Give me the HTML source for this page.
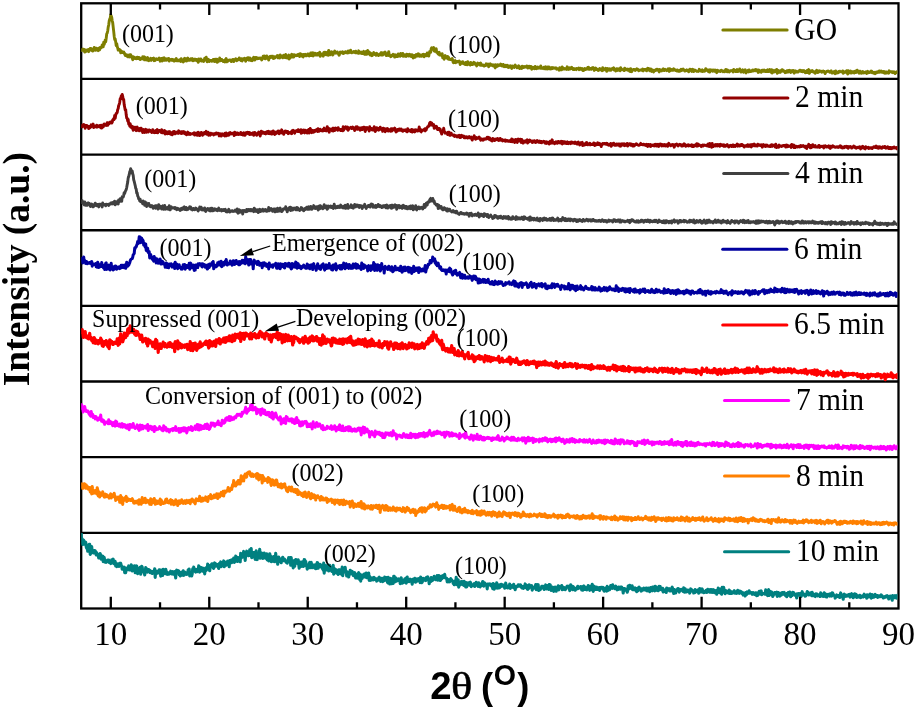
<!DOCTYPE html>
<html lang="en">
<head>
<meta charset="utf-8">
<title>XRD patterns</title>
<style>
html,body{margin:0;padding:0;background:#fff;}
svg{display:block;}
text{font-family:"Liberation Serif","Times New Roman",serif;fill:#000;}
.ann{font-size:24px;}
.leg{font-size:29.6px;}
.tick{font-size:33px;text-anchor:middle;}
.yl{font-size:37.5px;font-weight:bold;}
.xl{font-family:"Liberation Sans",Arial,sans-serif;font-weight:bold;font-size:38.3px;}
.fr{stroke:#000;stroke-width:2.3;fill:none;}
.cv{fill:none;stroke-linejoin:round;stroke-linecap:butt;}
</style>
</head>
<body>
<svg width="916" height="709" viewBox="0 0 916 709">
<rect x="0" y="0" width="916" height="709" fill="#fff"/>
<rect class="fr" x="81.2" y="3.3" width="817.3" height="605.2"/>
<line class="fr" x1="81.2" y1="78.94" x2="898.5" y2="78.94"/>
<line class="fr" x1="81.2" y1="154.59" x2="898.5" y2="154.59"/>
<line class="fr" x1="81.2" y1="230.23" x2="898.5" y2="230.23"/>
<line class="fr" x1="81.2" y1="305.88" x2="898.5" y2="305.88"/>
<line class="fr" x1="81.2" y1="381.52" x2="898.5" y2="381.52"/>
<line class="fr" x1="81.2" y1="457.16" x2="898.5" y2="457.16"/>
<line class="fr" x1="81.2" y1="532.81" x2="898.5" y2="532.81"/>
<defs><clipPath id="cp"><rect x="81.2" y="3.3" width="816.3" height="605.15"/></clipPath></defs>
<g clip-path="url(#cp)">
<path class="cv" d="M81.2,49.9 81.7,50.4 82.2,49.8 82.7,49.1 83.2,49.7 83.7,49.2 84.2,50.5 84.7,52.1 85.2,50.0 85.7,49.9 86.2,51.3 86.7,51.1 87.2,50.9 87.7,49.7 88.2,50.8 88.7,51.6 89.2,49.2 89.7,50.3 90.2,48.5 90.7,49.2 91.2,48.6 91.7,50.4 92.2,49.2 92.7,51.0 93.2,50.8 93.7,50.3 94.2,47.4 94.7,49.7 95.2,50.2 95.7,50.3 96.2,48.2 96.7,49.3 97.2,48.6 97.7,48.6 98.2,50.7 98.7,48.2 99.2,48.9 99.7,49.7 100.2,47.6 100.7,47.8 101.2,47.6 101.7,47.1 102.2,44.9 102.7,45.9 103.2,46.8 103.7,42.3 104.2,44.4 104.7,42.3 105.2,40.0 105.7,41.8 106.2,38.4 106.7,33.9 107.2,33.1 107.7,31.0 108.2,27.1 108.7,25.0 109.2,21.0 109.7,19.2 110.2,18.2 110.7,14.7 111.2,16.2 111.7,17.2 112.2,20.8 112.7,22.7 113.2,27.2 113.7,31.4 114.2,36.2 114.7,39.6 115.2,39.1 115.7,41.9 116.2,45.5 116.7,43.6 117.2,46.6 117.7,47.9 118.2,50.2 118.7,50.0 119.2,49.3 119.7,49.7 120.2,50.3 120.7,52.8 121.2,50.9 121.7,51.5 122.2,52.6 122.7,52.5 123.2,52.7 123.7,52.0 124.2,53.6 124.7,53.4 125.2,55.5 125.7,55.2 126.2,54.8 126.7,55.8 127.2,55.0 127.7,56.8 128.2,55.9 128.7,56.8 129.2,55.0 129.7,57.0 130.2,54.9 130.7,54.7 131.2,56.7 131.7,56.2 132.2,57.5 132.7,59.8 133.2,56.7 133.7,57.0 134.2,58.0 134.7,58.4 135.2,57.8 135.7,57.8 136.2,58.8 136.7,58.7 137.2,57.2 137.7,58.2 138.2,58.4 138.7,57.4 139.2,58.8 139.7,57.7 140.2,59.6 140.7,58.9 141.2,58.8 141.7,58.2 142.2,58.7 142.7,56.8 143.2,57.8 143.7,59.3 144.2,56.8 144.7,59.9 145.2,57.3 145.7,59.9 146.2,58.2 146.7,59.9 147.2,59.3 147.7,57.6 148.2,60.5 148.7,60.7 149.2,59.2 149.7,59.0 150.2,59.1 150.7,58.3 151.2,60.4 151.7,58.8 152.2,59.3 152.7,58.5 153.2,58.7 153.7,58.1 154.2,60.7 154.7,59.2 155.2,60.4 155.7,59.4 156.2,58.7 156.7,59.1 157.2,58.9 157.7,59.5 158.2,59.1 158.7,59.2 159.2,58.1 159.7,58.7 160.2,61.2 160.7,58.9 161.2,58.5 161.7,59.9 162.2,61.0 162.7,58.1 163.2,59.4 163.7,59.0 164.2,57.8 164.7,60.4 165.2,59.6 165.7,59.7 166.2,58.9 166.7,60.2 167.2,59.2 167.7,59.6 168.2,58.6 168.7,58.5 169.2,61.1 169.7,59.3 170.2,60.1 170.7,59.8 171.2,59.4 171.7,59.3 172.2,60.5 172.7,59.5 173.2,59.7 173.7,59.9 174.2,61.1 174.7,60.6 175.2,60.3 175.7,59.3 176.2,58.5 176.7,60.9 177.2,60.9 177.7,59.8 178.2,60.5 178.7,60.8 179.2,60.8 179.7,60.9 180.2,59.5 180.7,61.5 181.2,58.8 181.7,60.9 182.2,60.5 182.7,60.9 183.2,61.9 183.7,61.6 184.2,58.9 184.7,58.4 185.2,60.9 185.7,59.1 186.2,60.1 186.7,61.0 187.2,58.5 187.7,58.0 188.2,60.4 188.7,60.2 189.2,59.9 189.7,60.2 190.2,59.3 190.7,58.7 191.2,60.0 191.7,59.2 192.2,58.6 192.7,60.7 193.2,60.2 193.7,60.6 194.2,59.2 194.7,59.6 195.2,59.2 195.7,59.4 196.2,60.5 196.7,59.5 197.2,60.6 197.7,60.6 198.2,62.3 198.7,58.9 199.2,61.2 199.7,60.2 200.2,60.3 200.7,58.9 201.2,59.9 201.7,61.1 202.2,60.3 202.7,60.4 203.2,60.1 203.7,61.5 204.2,60.4 204.7,58.2 205.2,59.7 205.7,58.4 206.2,57.2 206.7,59.9 207.2,61.8 207.7,60.5 208.2,59.3 208.7,59.5 209.2,61.6 209.7,60.6 210.2,60.5 210.7,60.4 211.2,60.5 211.7,61.3 212.2,61.0 212.7,60.7 213.2,59.4 213.7,61.0 214.2,59.8 214.7,61.6 215.2,59.2 215.7,60.3 216.2,60.5 216.7,59.2 217.2,62.2 217.7,61.9 218.2,60.0 218.7,61.2 219.2,60.9 219.7,57.9 220.2,60.7 220.7,60.4 221.2,60.5 221.7,59.4 222.2,60.2 222.7,60.2 223.2,61.6 223.7,60.7 224.2,60.4 224.7,61.9 225.2,59.8 225.7,59.9 226.2,58.5 226.7,61.9 227.2,61.2 227.7,61.2 228.2,60.9 228.7,60.3 229.2,60.4 229.7,59.9 230.2,59.9 230.7,60.2 231.2,61.6 231.7,60.6 232.2,60.0 232.7,59.4 233.2,59.4 233.7,61.6 234.2,60.4 234.7,60.0 235.2,59.5 235.7,58.7 236.2,59.8 236.7,60.7 237.2,59.4 237.7,59.5 238.2,59.5 238.7,59.8 239.2,58.0 239.7,59.4 240.2,58.7 240.7,60.4 241.2,58.7 241.7,60.1 242.2,61.0 242.7,59.1 243.2,58.7 243.7,59.5 244.2,59.3 244.7,58.2 245.2,59.7 245.7,61.2 246.2,58.9 246.7,58.9 247.2,58.0 247.7,59.4 248.2,57.7 248.7,57.8 249.2,60.2 249.7,58.0 250.2,60.0 250.7,60.4 251.2,59.1 251.7,59.3 252.2,60.7 252.7,58.5 253.2,58.0 253.7,57.2 254.2,58.6 254.7,60.1 255.2,59.5 255.7,57.5 256.2,57.5 256.7,57.9 257.2,58.7 257.7,58.1 258.2,58.5 258.7,58.6 259.2,57.9 259.7,58.2 260.2,58.4 260.7,58.0 261.2,58.6 261.7,60.0 262.2,58.7 262.7,58.1 263.2,56.2 263.7,58.4 264.2,55.9 264.7,56.4 265.2,58.8 265.7,58.6 266.2,57.6 266.7,56.0 267.2,57.3 267.7,57.0 268.2,58.3 268.7,60.0 269.2,57.8 269.7,56.8 270.2,56.3 270.7,57.5 271.2,57.3 271.7,56.2 272.2,57.5 272.7,56.2 273.2,58.5 273.7,58.4 274.2,58.4 274.7,56.7 275.2,57.8 275.7,57.0 276.2,56.7 276.7,56.8 277.2,55.7 277.7,55.5 278.2,57.9 278.7,56.8 279.2,57.2 279.7,58.0 280.2,55.0 280.7,56.0 281.2,57.0 281.7,57.2 282.2,56.3 282.7,57.8 283.2,56.9 283.7,55.3 284.2,55.6 284.7,57.4 285.2,57.0 285.7,54.5 286.2,57.9 286.7,57.1 287.2,57.9 287.7,56.0 288.2,56.0 288.7,55.1 289.2,59.0 289.7,56.0 290.2,57.9 290.7,55.5 291.2,56.3 291.7,54.3 292.2,55.6 292.7,57.1 293.2,54.6 293.7,57.1 294.2,56.3 294.7,54.8 295.2,55.3 295.7,55.3 296.2,55.7 296.7,55.2 297.2,54.8 297.7,55.4 298.2,54.5 298.7,54.2 299.2,55.5 299.7,56.5 300.2,53.8 300.7,55.5 301.2,54.8 301.7,54.4 302.2,56.3 302.7,54.8 303.2,57.0 303.7,54.4 304.2,55.7 304.7,55.0 305.2,54.4 305.7,55.8 306.2,55.0 306.7,55.8 307.2,55.0 307.7,53.9 308.2,54.9 308.7,55.1 309.2,56.0 309.7,53.9 310.2,54.9 310.7,53.0 311.2,55.6 311.7,53.6 312.2,52.8 312.7,54.7 313.2,56.0 313.7,53.0 314.2,53.5 314.7,53.8 315.2,53.3 315.7,55.0 316.2,53.6 316.7,53.7 317.2,55.1 317.7,53.6 318.2,54.9 318.7,53.3 319.2,53.0 319.7,52.2 320.2,56.4 320.7,53.9 321.2,54.5 321.7,54.1 322.2,54.3 322.7,54.1 323.2,56.2 323.7,52.8 324.2,52.2 324.7,52.8 325.2,52.4 325.7,54.7 326.2,54.8 326.7,52.7 327.2,52.2 327.7,53.3 328.2,55.3 328.7,50.5 329.2,54.2 329.7,52.4 330.2,54.8 330.7,52.3 331.2,53.2 331.7,51.8 332.2,52.3 332.7,55.0 333.2,54.3 333.7,52.9 334.2,52.3 334.7,51.1 335.2,52.8 335.7,53.2 336.2,53.1 336.7,53.1 337.2,51.9 337.7,53.0 338.2,53.1 338.7,54.6 339.2,55.2 339.7,52.9 340.2,52.1 340.7,52.9 341.2,52.2 341.7,52.1 342.2,52.8 342.7,51.7 343.2,53.6 343.7,52.7 344.2,53.1 344.7,52.6 345.2,51.9 345.7,51.7 346.2,52.5 346.7,52.1 347.2,53.0 347.7,52.7 348.2,51.1 348.7,52.8 349.2,51.1 349.7,51.9 350.2,52.3 350.7,50.2 351.2,52.7 351.7,52.8 352.2,52.4 352.7,52.1 353.2,52.2 353.7,51.5 354.2,52.3 354.7,52.0 355.2,52.7 355.7,51.2 356.2,52.9 356.7,52.8 357.2,52.5 357.7,52.1 358.2,53.3 358.7,50.8 359.2,53.2 359.7,53.0 360.2,53.1 360.7,53.2 361.2,52.1 361.7,52.6 362.2,53.6 362.7,53.4 363.2,53.2 363.7,51.3 364.2,53.7 364.7,54.4 365.2,54.3 365.7,53.4 366.2,51.4 366.7,54.4 367.2,53.2 367.7,50.5 368.2,53.8 368.7,51.8 369.2,52.0 369.7,52.8 370.2,55.1 370.7,53.2 371.2,54.0 371.7,55.7 372.2,55.6 372.7,53.7 373.2,53.6 373.7,52.5 374.2,53.2 374.7,54.5 375.2,54.5 375.7,54.2 376.2,55.3 376.7,53.3 377.2,54.2 377.7,55.1 378.2,54.9 378.7,55.5 379.2,54.8 379.7,54.0 380.2,54.8 380.7,53.3 381.2,52.6 381.7,55.1 382.2,54.4 382.7,54.9 383.2,52.6 383.7,54.1 384.2,53.9 384.7,53.6 385.2,52.1 385.7,54.2 386.2,55.6 386.7,55.1 387.2,54.0 387.7,54.7 388.2,55.6 388.7,51.6 389.2,54.6 389.7,55.4 390.2,55.5 390.7,56.7 391.2,56.1 391.7,55.2 392.2,55.2 392.7,55.7 393.2,54.3 393.7,54.8 394.2,55.9 394.7,57.1 395.2,54.8 395.7,54.9 396.2,55.2 396.7,56.5 397.2,55.0 397.7,56.6 398.2,53.9 398.7,54.8 399.2,54.8 399.7,55.9 400.2,56.2 400.7,53.4 401.2,54.1 401.7,55.5 402.2,54.4 402.7,53.4 403.2,56.3 403.7,55.7 404.2,55.7 404.7,54.7 405.2,56.3 405.7,54.9 406.2,56.4 406.7,54.2 407.2,54.3 407.7,55.5 408.2,54.5 408.7,56.0 409.2,55.6 409.7,54.3 410.2,55.4 410.7,55.0 411.2,56.4 411.7,54.7 412.2,54.9 412.7,56.7 413.2,57.9 413.7,57.6 414.2,55.5 414.7,55.7 415.2,57.2 415.7,55.3 416.2,54.4 416.7,55.6 417.2,56.0 417.7,54.6 418.2,53.7 418.7,54.0 419.2,56.3 419.7,54.7 420.2,55.4 420.7,55.8 421.2,56.3 421.7,55.2 422.2,56.1 422.7,54.6 423.2,55.2 423.7,54.4 424.2,56.8 424.7,55.4 425.2,54.6 425.7,54.9 426.2,54.9 426.7,55.8 427.2,52.9 427.7,53.2 428.2,53.4 428.7,56.1 429.2,53.6 429.7,51.5 430.2,51.6 430.7,52.3 431.2,48.7 431.7,47.8 432.2,49.3 432.7,48.4 433.2,48.7 433.7,47.6 434.2,51.0 434.7,51.3 435.2,50.5 435.7,51.3 436.2,48.6 436.7,52.4 437.2,52.0 437.7,53.3 438.2,54.1 438.7,53.4 439.2,52.3 439.7,55.0 440.2,54.1 440.7,54.9 441.2,54.9 441.7,55.5 442.2,53.7 442.7,57.7 443.2,56.9 443.7,58.1 444.2,59.2 444.7,57.3 445.2,55.6 445.7,56.7 446.2,56.6 446.7,57.5 447.2,58.4 447.7,56.4 448.2,59.0 448.7,57.3 449.2,59.4 449.7,59.2 450.2,59.1 450.7,59.6 451.2,59.3 451.7,59.4 452.2,58.6 452.7,60.4 453.2,62.4 453.7,62.7 454.2,62.2 454.7,61.8 455.2,60.6 455.7,62.8 456.2,61.5 456.7,61.6 457.2,61.4 457.7,61.9 458.2,61.5 458.7,61.9 459.2,61.1 459.7,61.9 460.2,64.5 460.7,62.3 461.2,62.2 461.7,63.1 462.2,63.3 462.7,61.7 463.2,62.6 463.7,63.7 464.2,63.2 464.7,63.1 465.2,64.6 465.7,62.5 466.2,63.3 466.7,62.8 467.2,64.8 467.7,61.6 468.2,62.9 468.7,63.1 469.2,64.3 469.7,64.3 470.2,65.1 470.7,62.4 471.2,64.6 471.7,63.7 472.2,63.4 472.7,64.5 473.2,63.3 473.7,62.3 474.2,63.9 474.7,62.9 475.2,63.7 475.7,64.7 476.2,64.7 476.7,65.9 477.2,64.3 477.7,63.1 478.2,63.9 478.7,63.8 479.2,63.6 479.7,65.1 480.2,64.2 480.7,63.0 481.2,65.4 481.7,64.7 482.2,65.2 482.7,65.0 483.2,65.5 483.7,65.0 484.2,66.1 484.7,65.4 485.2,65.4 485.7,65.5 486.2,63.8 486.7,65.0 487.2,65.0 487.7,65.4 488.2,64.0 488.7,66.7 489.2,65.4 489.7,64.3 490.2,63.8 490.7,65.1 491.2,65.3 491.7,64.8 492.2,65.5 492.7,64.9 493.2,66.0 493.7,64.9 494.2,65.5 494.7,66.4 495.2,67.9 495.7,64.7 496.2,65.2 496.7,64.9 497.2,66.4 497.7,64.7 498.2,65.3 498.7,65.7 499.2,64.9 499.7,65.0 500.2,65.4 500.7,64.0 501.2,64.6 501.7,65.5 502.2,66.1 502.7,65.8 503.2,64.4 503.7,65.6 504.2,66.7 504.7,66.5 505.2,66.0 505.7,65.3 506.2,66.7 506.7,65.6 507.2,65.2 507.7,65.5 508.2,67.5 508.7,66.4 509.2,67.3 509.7,65.9 510.2,67.1 510.7,65.8 511.2,66.2 511.7,68.5 512.2,67.1 512.7,66.0 513.2,66.4 513.7,66.8 514.2,67.5 514.7,66.1 515.2,65.1 515.7,66.3 516.2,66.6 516.7,66.7 517.2,67.8 517.7,66.9 518.2,67.4 518.7,65.8 519.2,67.5 519.7,68.5 520.2,67.4 520.7,67.0 521.2,67.0 521.7,68.4 522.2,66.1 522.7,66.8 523.2,67.3 523.7,67.6 524.2,66.6 524.7,67.2 525.2,66.8 525.7,67.1 526.2,66.9 526.7,66.1 527.2,67.1 527.7,67.9 528.2,66.3 528.7,67.0 529.2,67.7 529.7,66.3 530.2,67.4 530.7,66.4 531.2,68.2 531.7,69.2 532.2,69.0 532.7,67.2 533.2,68.0 533.7,67.5 534.2,67.5 534.7,68.7 535.2,66.4 535.7,68.4 536.2,67.5 536.7,68.7 537.2,67.7 537.7,67.0 538.2,67.8 538.7,68.2 539.2,67.7 539.7,68.0 540.2,67.2 540.7,65.9 541.2,68.4 541.7,68.3 542.2,67.9 542.7,67.8 543.2,68.6 543.7,67.4 544.2,67.2 544.7,67.7 545.2,68.8 545.7,66.8 546.2,68.9 546.7,67.4 547.2,67.0 547.7,69.0 548.2,67.9 548.7,66.9 549.2,67.7 549.7,68.8 550.2,69.0 550.7,67.7 551.2,68.4 551.7,68.7 552.2,67.6 552.7,68.4 553.2,68.1 553.7,67.7 554.2,67.8 554.7,68.3 555.2,68.2 555.7,67.8 556.2,67.9 556.7,69.2 557.2,68.5 557.7,69.0 558.2,69.3 558.7,68.8 559.2,70.2 559.7,67.7 560.2,69.0 560.7,68.1 561.2,69.9 561.7,69.8 562.2,66.9 562.7,67.7 563.2,69.0 563.7,69.1 564.2,69.1 564.7,68.5 565.2,68.9 565.7,69.1 566.2,68.5 566.7,69.4 567.2,66.8 567.7,69.1 568.2,67.8 568.7,69.4 569.2,68.4 569.7,67.9 570.2,68.9 570.7,67.9 571.2,67.9 571.7,67.4 572.2,68.7 572.7,69.1 573.2,69.5 573.7,68.6 574.2,69.6 574.7,68.8 575.2,68.7 575.7,69.2 576.2,69.6 576.7,68.5 577.2,68.6 577.7,68.7 578.2,68.9 578.7,68.1 579.2,69.7 579.7,68.6 580.2,69.3 580.7,68.2 581.2,69.2 581.7,69.2 582.2,68.6 582.7,70.5 583.2,69.2 583.7,70.4 584.2,69.7 584.7,68.5 585.2,68.7 585.7,69.4 586.2,69.1 586.7,69.1 587.2,68.8 587.7,67.6 588.2,68.9 588.7,67.3 589.2,69.4 589.7,68.5 590.2,68.5 590.7,68.9 591.2,69.3 591.7,68.0 592.2,67.8 592.7,68.3 593.2,67.6 593.7,68.4 594.2,70.4 594.7,68.4 595.2,69.7 595.7,68.1 596.2,69.5 596.7,69.0 597.2,69.2 597.7,69.7 598.2,70.6 598.7,69.4 599.2,69.4 599.7,68.5 600.2,69.8 600.7,69.1 601.2,70.0 601.7,69.3 602.2,70.7 602.7,67.8 603.2,69.1 603.7,70.0 604.2,69.1 604.7,68.8 605.2,69.2 605.7,68.3 606.2,69.5 606.7,71.3 607.2,70.3 607.7,68.6 608.2,68.8 608.7,69.1 609.2,70.2 609.7,68.8 610.2,68.9 610.7,70.2 611.2,70.2 611.7,69.2 612.2,68.6 612.7,68.3 613.2,69.0 613.7,67.8 614.2,70.1 614.7,69.1 615.2,69.9 615.7,71.0 616.2,70.5 616.7,68.7 617.2,70.3 617.7,70.5 618.2,69.0 618.7,68.9 619.2,69.5 619.7,68.4 620.2,70.8 620.7,67.8 621.2,68.8 621.7,69.4 622.2,69.5 622.7,69.8 623.2,69.9 623.7,69.5 624.2,70.6 624.7,68.1 625.2,69.7 625.7,69.2 626.2,69.8 626.7,69.9 627.2,69.0 627.7,69.2 628.2,70.3 628.7,70.0 629.2,69.2 629.7,71.3 630.2,71.5 630.7,68.7 631.2,70.0 631.7,71.7 632.2,70.4 632.7,70.0 633.2,69.6 633.7,69.4 634.2,69.7 634.7,69.4 635.2,70.4 635.7,69.5 636.2,69.5 636.7,68.9 637.2,69.8 637.7,69.2 638.2,69.7 638.7,70.7 639.2,70.2 639.7,70.3 640.2,70.2 640.7,69.9 641.2,69.8 641.7,69.7 642.2,70.5 642.7,69.1 643.2,70.9 643.7,70.0 644.2,69.4 644.7,69.6 645.2,69.4 645.7,70.1 646.2,69.4 646.7,70.8 647.2,69.4 647.7,68.3 648.2,69.4 648.7,68.5 649.2,70.0 649.7,70.8 650.2,70.5 650.7,69.0 651.2,69.4 651.7,71.4 652.2,70.3 652.7,70.0 653.2,70.8 653.7,71.9 654.2,71.0 654.7,70.2 655.2,70.3 655.7,70.5 656.2,69.6 656.7,69.3 657.2,70.1 657.7,69.4 658.2,70.0 658.7,70.2 659.2,71.9 659.7,69.5 660.2,70.0 660.7,70.0 661.2,70.5 661.7,70.9 662.2,69.8 662.7,69.5 663.2,68.9 663.7,69.5 664.2,70.6 664.7,70.2 665.2,69.4 665.7,69.9 666.2,70.2 666.7,70.6 667.2,69.7 667.7,70.0 668.2,68.8 668.7,69.3 669.2,71.4 669.7,68.6 670.2,70.0 670.7,70.4 671.2,69.9 671.7,69.6 672.2,70.2 672.7,70.2 673.2,70.2 673.7,68.8 674.2,70.1 674.7,69.6 675.2,69.9 675.7,70.4 676.2,70.7 676.7,70.9 677.2,69.9 677.7,71.0 678.2,71.2 678.7,71.1 679.2,71.3 679.7,70.2 680.2,70.2 680.7,70.9 681.2,69.3 681.7,70.5 682.2,69.9 682.7,70.1 683.2,69.0 683.7,69.7 684.2,70.3 684.7,71.0 685.2,71.1 685.7,70.3 686.2,70.2 686.7,69.7 687.2,70.7 687.7,70.2 688.2,70.8 688.7,71.7 689.2,70.4 689.7,69.3 690.2,69.8 690.7,69.3 691.2,69.5 691.7,71.4 692.2,70.6 692.7,69.3 693.2,70.9 693.7,71.4 694.2,70.2 694.7,69.9 695.2,70.2 695.7,70.7 696.2,70.9 696.7,71.3 697.2,71.4 697.7,71.3 698.2,71.5 698.7,71.0 699.2,69.3 699.7,70.4 700.2,70.7 700.7,70.2 701.2,71.2 701.7,70.2 702.2,69.8 702.7,71.6 703.2,71.0 703.7,70.7 704.2,71.2 704.7,71.3 705.2,70.8 705.7,68.7 706.2,70.0 706.7,70.2 707.2,69.8 707.7,70.7 708.2,71.4 708.7,70.2 709.2,69.7 709.7,72.1 710.2,70.2 710.7,69.7 711.2,70.8 711.7,70.9 712.2,70.1 712.7,71.2 713.2,70.2 713.7,69.9 714.2,70.7 714.7,71.2 715.2,70.1 715.7,70.9 716.2,70.6 716.7,72.7 717.2,70.1 717.7,71.7 718.2,70.6 718.7,70.6 719.2,71.2 719.7,71.3 720.2,71.6 720.7,70.9 721.2,70.2 721.7,70.3 722.2,71.0 722.7,71.1 723.2,71.7 723.7,71.0 724.2,71.5 724.7,71.8 725.2,70.8 725.7,69.6 726.2,69.8 726.7,69.7 727.2,71.9 727.7,70.1 728.2,71.6 728.7,71.2 729.2,72.0 729.7,71.5 730.2,70.7 730.7,70.6 731.2,70.8 731.7,70.9 732.2,70.4 732.7,70.7 733.2,72.0 733.7,69.5 734.2,71.0 734.7,70.1 735.2,70.9 735.7,71.4 736.2,70.8 736.7,71.4 737.2,69.6 737.7,71.6 738.2,70.4 738.7,71.3 739.2,71.0 739.7,68.9 740.2,70.3 740.7,71.0 741.2,72.0 741.7,71.1 742.2,71.0 742.7,69.8 743.2,71.9 743.7,72.2 744.2,70.9 744.7,70.7 745.2,69.7 745.7,71.5 746.2,72.9 746.7,71.4 747.2,71.8 747.7,71.3 748.2,70.2 748.7,71.9 749.2,70.0 749.7,70.8 750.2,71.1 750.7,71.6 751.2,71.2 751.7,71.2 752.2,70.4 752.7,70.0 753.2,71.0 753.7,70.4 754.2,70.0 754.7,70.1 755.2,70.6 755.7,69.6 756.2,70.0 756.7,69.8 757.2,71.1 757.7,71.3 758.2,72.5 758.7,69.9 759.2,70.5 759.7,71.7 760.2,70.9 760.7,70.8 761.2,72.3 761.7,70.8 762.2,70.2 762.7,70.1 763.2,71.3 763.7,71.3 764.2,70.1 764.7,70.4 765.2,71.5 765.7,71.5 766.2,70.6 766.7,71.5 767.2,71.5 767.7,69.8 768.2,70.9 768.7,71.4 769.2,70.7 769.7,69.6 770.2,70.9 770.7,71.7 771.2,72.3 771.7,69.6 772.2,73.0 772.7,70.3 773.2,71.9 773.7,72.1 774.2,71.9 774.7,71.3 775.2,70.3 775.7,71.6 776.2,70.7 776.7,69.4 777.2,73.2 777.7,71.7 778.2,72.5 778.7,70.6 779.2,72.3 779.7,72.4 780.2,72.4 780.7,71.2 781.2,70.4 781.7,71.1 782.2,69.7 782.7,70.0 783.2,71.3 783.7,70.6 784.2,71.2 784.7,71.2 785.2,72.7 785.7,72.2 786.2,71.3 786.7,72.2 787.2,70.7 787.7,71.1 788.2,72.0 788.7,70.4 789.2,71.1 789.7,70.4 790.2,71.4 790.7,72.5 791.2,70.8 791.7,71.5 792.2,70.7 792.7,70.5 793.2,70.5 793.7,72.4 794.2,73.1 794.7,71.7 795.2,70.9 795.7,71.9 796.2,71.2 796.7,72.0 797.2,71.6 797.7,71.6 798.2,71.9 798.7,71.0 799.2,71.1 799.7,70.2 800.2,71.1 800.7,70.4 801.2,71.4 801.7,70.8 802.2,71.5 802.7,71.8 803.2,70.5 803.7,70.9 804.2,70.8 804.7,72.0 805.2,72.7 805.7,72.1 806.2,71.3 806.7,72.6 807.2,70.4 807.7,72.6 808.2,71.1 808.7,69.6 809.2,73.4 809.7,72.7 810.2,70.8 810.7,71.7 811.2,71.4 811.7,71.6 812.2,70.5 812.7,71.1 813.2,71.9 813.7,71.7 814.2,72.4 814.7,71.7 815.2,73.3 815.7,71.1 816.2,71.8 816.7,70.3 817.2,70.7 817.7,72.6 818.2,71.0 818.7,72.0 819.2,71.6 819.7,70.9 820.2,71.4 820.7,71.3 821.2,71.3 821.7,72.2 822.2,72.1 822.7,71.3 823.2,71.0 823.7,71.9 824.2,71.6 824.7,72.4 825.2,73.6 825.7,72.3 826.2,71.7 826.7,71.6 827.2,71.1 827.7,71.1 828.2,71.0 828.7,71.5 829.2,71.4 829.7,72.3 830.2,71.5 830.7,71.6 831.2,70.9 831.7,72.9 832.2,72.1 832.7,73.0 833.2,72.4 833.7,72.8 834.2,71.6 834.7,72.3 835.2,73.7 835.7,71.0 836.2,72.6 836.7,73.0 837.2,72.1 837.7,72.4 838.2,72.7 838.7,71.4 839.2,72.1 839.7,71.2 840.2,71.4 840.7,71.4 841.2,71.8 841.7,72.0 842.2,72.2 842.7,70.9 843.2,73.3 843.7,72.7 844.2,72.4 844.7,71.7 845.2,71.9 845.7,72.3 846.2,72.2 846.7,70.7 847.2,72.5 847.7,74.0 848.2,70.6 848.7,72.7 849.2,72.2 849.7,71.9 850.2,73.0 850.7,71.1 851.2,72.1 851.7,73.0 852.2,71.9 852.7,71.7 853.2,72.1 853.7,71.7 854.2,73.1 854.7,71.4 855.2,72.6 855.7,71.1 856.2,72.5 856.7,72.0 857.2,70.2 857.7,72.0 858.2,71.3 858.7,71.7 859.2,73.2 859.7,71.3 860.2,71.3 860.7,73.1 861.2,72.2 861.7,73.2 862.2,72.3 862.7,71.5 863.2,72.1 863.7,73.0 864.2,72.8 864.7,72.1 865.2,72.2 865.7,72.1 866.2,71.7 866.7,73.5 867.2,72.2 867.7,71.4 868.2,71.8 868.7,72.7 869.2,72.6 869.7,72.1 870.2,71.7 870.7,72.2 871.2,71.0 871.7,71.3 872.2,72.8 872.7,71.9 873.2,72.5 873.7,73.1 874.2,72.7 874.7,72.2 875.2,73.7 875.7,72.7 876.2,72.0 876.7,72.8 877.2,72.5 877.7,71.7 878.2,72.3 878.7,72.2 879.2,70.9 879.7,72.2 880.2,72.1 880.7,72.0 881.2,71.1 881.7,72.1 882.2,72.3 882.7,72.4 883.2,71.5 883.7,72.8 884.2,71.5 884.7,72.2 885.2,73.3 885.7,71.9 886.2,72.0 886.7,73.1 887.2,72.1 887.7,72.2 888.2,72.5 888.7,73.1 889.2,70.8 889.7,71.8 890.2,71.7 890.7,71.6 891.2,71.8 891.7,71.8 892.2,72.6 892.7,71.8 893.2,72.5 893.7,72.7 894.2,71.9 894.7,72.5 895.2,73.6 895.7,72.7 896.2,72.0 896.7,72.4 897.2,71.8 897.7,72.7 898.2,73.1" stroke="#7e7e00" stroke-width="2.9"/>
<path class="cv" d="M81.2,124.4 81.7,125.2 82.2,126.8 82.7,124.9 83.2,125.8 83.7,124.5 84.2,124.8 84.7,125.2 85.2,128.3 85.7,125.4 86.2,125.4 86.7,125.4 87.2,125.9 87.7,126.9 88.2,126.4 88.7,128.6 89.2,126.5 89.7,127.9 90.2,126.7 90.7,127.1 91.2,124.8 91.7,126.3 92.2,126.4 92.7,126.2 93.2,124.1 93.7,127.5 94.2,126.1 94.7,126.1 95.2,126.3 95.7,126.3 96.2,127.1 96.7,125.2 97.2,125.5 97.7,126.9 98.2,126.7 98.7,126.1 99.2,125.9 99.7,125.5 100.2,126.4 100.7,127.7 101.2,125.2 101.7,128.0 102.2,127.2 102.7,125.7 103.2,127.0 103.7,124.3 104.2,123.9 104.7,124.3 105.2,125.2 105.7,125.2 106.2,124.8 106.7,125.4 107.2,122.6 107.7,125.4 108.2,123.0 108.7,123.6 109.2,123.7 109.7,122.5 110.2,121.9 110.7,121.9 111.2,122.7 111.7,123.0 112.2,122.4 112.7,119.9 113.2,119.5 113.7,118.6 114.2,119.4 114.7,115.4 115.2,118.4 115.7,115.0 116.2,113.3 116.7,113.2 117.2,112.4 117.7,109.6 118.2,108.5 118.7,105.2 119.2,104.4 119.7,102.3 120.2,98.7 120.7,98.9 121.2,96.2 121.7,95.5 122.2,94.4 122.7,96.3 123.2,99.6 123.7,99.5 124.2,104.8 124.7,107.3 125.2,110.1 125.7,109.7 126.2,114.8 126.7,118.0 127.2,118.2 127.7,120.9 128.2,119.3 128.7,124.1 129.2,123.5 129.7,126.0 130.2,123.6 130.7,127.0 131.2,126.4 131.7,127.9 132.2,126.3 132.7,126.9 133.2,130.3 133.7,127.1 134.2,127.4 134.7,128.0 135.2,127.3 135.7,129.9 136.2,130.6 136.7,128.1 137.2,127.1 137.7,130.4 138.2,130.4 138.7,130.2 139.2,130.7 139.7,128.6 140.2,129.5 140.7,128.3 141.2,128.3 141.7,131.0 142.2,129.3 142.7,132.5 143.2,130.3 143.7,129.6 144.2,131.2 144.7,132.4 145.2,131.0 145.7,129.3 146.2,131.1 146.7,132.2 147.2,130.3 147.7,130.1 148.2,132.0 148.7,131.1 149.2,129.9 149.7,130.7 150.2,130.4 150.7,131.5 151.2,131.4 151.7,132.5 152.2,132.1 152.7,129.7 153.2,131.8 153.7,132.4 154.2,132.0 154.7,132.6 155.2,131.0 155.7,130.6 156.2,132.6 156.7,130.6 157.2,129.5 157.7,132.8 158.2,131.0 158.7,131.5 159.2,130.4 159.7,130.5 160.2,130.7 160.7,131.6 161.2,132.4 161.7,129.7 162.2,132.8 162.7,130.9 163.2,131.0 163.7,132.8 164.2,132.1 164.7,130.6 165.2,134.1 165.7,131.4 166.2,132.5 166.7,132.5 167.2,133.8 167.7,131.9 168.2,133.4 168.7,131.7 169.2,133.6 169.7,131.7 170.2,132.1 170.7,134.4 171.2,132.9 171.7,132.7 172.2,134.9 172.7,133.0 173.2,131.8 173.7,133.4 174.2,131.5 174.7,133.8 175.2,133.9 175.7,132.2 176.2,132.1 176.7,133.0 177.2,132.8 177.7,131.8 178.2,133.4 178.7,130.8 179.2,132.4 179.7,132.5 180.2,132.6 180.7,133.2 181.2,131.7 181.7,133.6 182.2,132.8 182.7,132.3 183.2,131.6 183.7,131.8 184.2,133.4 184.7,132.1 185.2,133.1 185.7,134.2 186.2,134.1 186.7,134.7 187.2,132.8 187.7,132.1 188.2,134.2 188.7,133.5 189.2,134.3 189.7,133.2 190.2,134.4 190.7,134.1 191.2,134.0 191.7,133.8 192.2,133.7 192.7,133.5 193.2,133.5 193.7,134.3 194.2,132.8 194.7,135.1 195.2,133.2 195.7,134.4 196.2,133.3 196.7,133.1 197.2,135.4 197.7,133.1 198.2,132.2 198.7,132.7 199.2,133.1 199.7,135.6 200.2,133.7 200.7,134.4 201.2,132.5 201.7,133.9 202.2,134.2 202.7,135.3 203.2,132.9 203.7,134.2 204.2,133.9 204.7,132.6 205.2,133.6 205.7,133.4 206.2,131.3 206.7,134.2 207.2,134.2 207.7,133.2 208.2,132.3 208.7,135.2 209.2,134.0 209.7,134.7 210.2,135.1 210.7,133.2 211.2,134.5 211.7,133.5 212.2,133.7 212.7,133.7 213.2,133.8 213.7,134.9 214.2,133.9 214.7,133.6 215.2,133.5 215.7,134.2 216.2,132.9 216.7,133.3 217.2,133.8 217.7,133.3 218.2,133.7 218.7,133.3 219.2,135.9 219.7,135.2 220.2,134.3 220.7,133.8 221.2,136.1 221.7,134.2 222.2,133.8 222.7,134.2 223.2,134.2 223.7,135.3 224.2,133.9 224.7,136.0 225.2,133.1 225.7,134.6 226.2,133.0 226.7,135.8 227.2,133.6 227.7,133.9 228.2,134.9 228.7,135.2 229.2,132.9 229.7,133.6 230.2,132.6 230.7,134.1 231.2,133.9 231.7,133.6 232.2,133.3 232.7,133.6 233.2,133.2 233.7,134.5 234.2,135.5 234.7,132.1 235.2,133.9 235.7,133.6 236.2,134.5 236.7,133.0 237.2,133.8 237.7,132.9 238.2,134.6 238.7,134.0 239.2,133.8 239.7,134.3 240.2,133.7 240.7,132.4 241.2,134.5 241.7,134.2 242.2,133.7 242.7,134.9 243.2,135.1 243.7,132.8 244.2,133.1 244.7,135.4 245.2,135.2 245.7,133.1 246.2,132.6 246.7,133.2 247.2,133.3 247.7,132.2 248.2,133.8 248.7,132.5 249.2,132.5 249.7,134.6 250.2,133.0 250.7,133.6 251.2,134.3 251.7,134.4 252.2,133.3 252.7,133.6 253.2,132.8 253.7,135.3 254.2,134.2 254.7,132.4 255.2,133.5 255.7,134.2 256.2,134.0 256.7,135.3 257.2,134.8 257.7,132.9 258.2,133.3 258.7,132.1 259.2,133.6 259.7,133.5 260.2,136.0 260.7,133.4 261.2,131.2 261.7,132.6 262.2,133.3 262.7,131.9 263.2,132.3 263.7,132.8 264.2,133.5 264.7,132.9 265.2,132.2 265.7,133.9 266.2,132.5 266.7,132.5 267.2,131.6 267.7,132.2 268.2,133.6 268.7,131.3 269.2,132.8 269.7,133.6 270.2,132.5 270.7,133.1 271.2,131.7 271.7,134.1 272.2,133.9 272.7,133.0 273.2,130.9 273.7,131.6 274.2,133.6 274.7,134.4 275.2,132.9 275.7,133.8 276.2,131.9 276.7,132.3 277.2,132.5 277.7,132.9 278.2,130.9 278.7,133.4 279.2,133.7 279.7,131.2 280.2,131.0 280.7,132.7 281.2,131.6 281.7,129.8 282.2,133.1 282.7,132.4 283.2,131.7 283.7,134.3 284.2,132.3 284.7,131.3 285.2,132.2 285.7,131.0 286.2,131.3 286.7,132.4 287.2,131.4 287.7,131.5 288.2,133.7 288.7,132.8 289.2,132.7 289.7,132.4 290.2,132.4 290.7,133.3 291.2,131.8 291.7,133.7 292.2,130.8 292.7,131.5 293.2,130.3 293.7,131.3 294.2,132.2 294.7,133.2 295.2,130.9 295.7,131.6 296.2,131.2 296.7,130.8 297.2,130.3 297.7,131.6 298.2,129.7 298.7,131.6 299.2,131.5 299.7,130.7 300.2,130.3 300.7,129.9 301.2,133.3 301.7,129.9 302.2,132.9 302.7,131.9 303.2,130.8 303.7,130.0 304.2,132.2 304.7,132.9 305.2,130.1 305.7,130.7 306.2,132.1 306.7,131.3 307.2,133.1 307.7,130.3 308.2,131.5 308.7,129.6 309.2,133.0 309.7,130.0 310.2,128.4 310.7,130.6 311.2,130.6 311.7,132.7 312.2,130.3 312.7,130.6 313.2,131.2 313.7,132.2 314.2,130.4 314.7,131.6 315.2,131.0 315.7,130.1 316.2,130.4 316.7,130.4 317.2,129.3 317.7,131.6 318.2,128.8 318.7,131.4 319.2,131.2 319.7,130.0 320.2,129.3 320.7,129.8 321.2,130.5 321.7,130.8 322.2,130.3 322.7,131.0 323.2,129.3 323.7,130.1 324.2,128.1 324.7,130.6 325.2,129.9 325.7,129.3 326.2,130.9 326.7,130.4 327.2,126.6 327.7,129.6 328.2,128.0 328.7,130.7 329.2,132.2 329.7,128.9 330.2,129.5 330.7,129.2 331.2,129.8 331.7,130.1 332.2,130.7 332.7,128.2 333.2,131.0 333.7,128.2 334.2,129.5 334.7,130.5 335.2,129.9 335.7,128.1 336.2,128.4 336.7,128.6 337.2,129.0 337.7,130.3 338.2,127.6 338.7,129.5 339.2,129.6 339.7,129.6 340.2,129.4 340.7,130.6 341.2,129.4 341.7,129.8 342.2,129.5 342.7,130.8 343.2,126.7 343.7,130.2 344.2,128.5 344.7,128.5 345.2,127.7 345.7,126.7 346.2,128.3 346.7,128.0 347.2,129.2 347.7,127.1 348.2,130.2 348.7,129.0 349.2,128.4 349.7,127.9 350.2,127.8 350.7,127.4 351.2,128.0 351.7,128.6 352.2,128.4 352.7,127.0 353.2,128.3 353.7,127.6 354.2,128.8 354.7,130.6 355.2,129.3 355.7,128.2 356.2,126.8 356.7,127.0 357.2,126.7 357.7,129.4 358.2,127.8 358.7,128.7 359.2,127.9 359.7,128.7 360.2,130.2 360.7,127.9 361.2,128.3 361.7,127.8 362.2,129.6 362.7,127.6 363.2,127.4 363.7,127.2 364.2,127.2 364.7,129.2 365.2,131.5 365.7,127.7 366.2,129.8 366.7,129.0 367.2,127.6 367.7,128.5 368.2,128.6 368.7,128.1 369.2,131.0 369.7,126.8 370.2,129.3 370.7,129.3 371.2,128.3 371.7,129.1 372.2,129.9 372.7,129.1 373.2,129.4 373.7,129.8 374.2,126.8 374.7,130.7 375.2,131.5 375.7,130.1 376.2,130.2 376.7,127.6 377.2,129.0 377.7,128.3 378.2,128.5 378.7,130.2 379.2,128.3 379.7,129.1 380.2,127.2 380.7,129.1 381.2,129.4 381.7,128.6 382.2,128.6 382.7,131.4 383.2,128.1 383.7,128.3 384.2,128.5 384.7,130.7 385.2,131.7 385.7,129.8 386.2,128.7 386.7,129.0 387.2,130.7 387.7,128.6 388.2,131.1 388.7,131.1 389.2,129.7 389.7,130.3 390.2,130.4 390.7,131.3 391.2,128.6 391.7,131.0 392.2,129.3 392.7,128.9 393.2,129.9 393.7,129.6 394.2,128.8 394.7,128.1 395.2,128.9 395.7,131.4 396.2,132.0 396.7,130.6 397.2,131.2 397.7,129.4 398.2,129.9 398.7,130.3 399.2,128.9 399.7,129.0 400.2,130.2 400.7,129.8 401.2,129.0 401.7,130.6 402.2,129.9 402.7,131.3 403.2,130.3 403.7,130.0 404.2,130.5 404.7,130.2 405.2,129.7 405.7,130.0 406.2,131.2 406.7,131.1 407.2,131.8 407.7,128.7 408.2,130.1 408.7,130.1 409.2,130.7 409.7,130.1 410.2,130.1 410.7,131.4 411.2,130.8 411.7,129.4 412.2,132.1 412.7,131.7 413.2,130.1 413.7,131.6 414.2,130.0 414.7,131.9 415.2,130.5 415.7,129.9 416.2,130.4 416.7,130.0 417.2,131.0 417.7,131.0 418.2,130.8 418.7,130.2 419.2,126.9 419.7,130.9 420.2,128.8 420.7,131.0 421.2,131.9 421.7,131.0 422.2,130.2 422.7,130.4 423.2,130.3 423.7,129.7 424.2,129.5 424.7,128.9 425.2,130.9 425.7,129.2 426.2,129.8 426.7,127.9 427.2,127.6 427.7,126.6 428.2,126.5 428.7,126.2 429.2,124.8 429.7,123.0 430.2,122.4 430.7,125.0 431.2,122.7 431.7,122.8 432.2,125.2 432.7,125.2 433.2,125.1 433.7,124.6 434.2,128.3 434.7,126.7 435.2,127.4 435.7,127.1 436.2,126.2 436.7,126.8 437.2,129.1 437.7,129.5 438.2,129.1 438.7,128.4 439.2,128.5 439.7,129.9 440.2,129.0 440.7,131.7 441.2,132.1 441.7,134.1 442.2,132.2 442.7,130.8 443.2,130.7 443.7,128.2 444.2,131.3 444.7,131.9 445.2,133.2 445.7,133.0 446.2,133.1 446.7,132.9 447.2,133.5 447.7,134.5 448.2,132.1 448.7,132.9 449.2,132.2 449.7,135.4 450.2,135.3 450.7,134.9 451.2,133.2 451.7,134.8 452.2,134.6 452.7,135.1 453.2,135.0 453.7,135.9 454.2,135.1 454.7,136.5 455.2,136.1 455.7,135.7 456.2,136.0 456.7,135.8 457.2,137.0 457.7,136.1 458.2,136.7 458.7,136.1 459.2,135.2 459.7,137.5 460.2,135.7 460.7,137.4 461.2,137.2 461.7,135.3 462.2,136.1 462.7,136.5 463.2,136.3 463.7,136.0 464.2,137.8 464.7,137.0 465.2,137.6 465.7,136.9 466.2,137.6 466.7,136.7 467.2,137.4 467.7,138.0 468.2,137.6 468.7,137.1 469.2,136.6 469.7,137.8 470.2,138.0 470.7,137.5 471.2,137.1 471.7,138.3 472.2,140.1 472.7,137.6 473.2,138.2 473.7,138.3 474.2,135.6 474.7,138.1 475.2,137.4 475.7,139.3 476.2,137.9 476.7,137.5 477.2,138.0 477.7,138.4 478.2,137.8 478.7,138.3 479.2,137.1 479.7,138.2 480.2,139.1 480.7,140.2 481.2,139.2 481.7,138.8 482.2,139.7 482.7,139.6 483.2,140.2 483.7,139.7 484.2,138.7 484.7,139.0 485.2,139.0 485.7,139.2 486.2,139.1 486.7,138.3 487.2,137.2 487.7,138.5 488.2,137.3 488.7,139.2 489.2,139.2 489.7,137.8 490.2,139.9 490.7,140.1 491.2,139.4 491.7,140.8 492.2,141.1 492.7,138.4 493.2,140.4 493.7,139.9 494.2,139.9 494.7,140.4 495.2,139.0 495.7,139.2 496.2,139.0 496.7,139.1 497.2,139.7 497.7,138.6 498.2,139.0 498.7,140.4 499.2,139.9 499.7,140.3 500.2,138.4 500.7,139.4 501.2,139.6 501.7,140.1 502.2,139.6 502.7,140.9 503.2,140.1 503.7,140.2 504.2,140.2 504.7,140.9 505.2,139.9 505.7,141.3 506.2,140.7 506.7,140.5 507.2,140.4 507.7,140.9 508.2,141.3 508.7,141.3 509.2,140.8 509.7,141.3 510.2,140.6 510.7,141.6 511.2,140.6 511.7,138.9 512.2,141.8 512.7,140.8 513.2,139.7 513.7,140.5 514.2,140.0 514.7,142.5 515.2,141.2 515.7,139.5 516.2,141.3 516.7,140.5 517.2,142.5 517.7,140.0 518.2,139.0 518.7,141.0 519.2,140.7 519.7,140.6 520.2,139.2 520.7,141.4 521.2,142.5 521.7,139.5 522.2,142.1 522.7,140.7 523.2,143.1 523.7,141.5 524.2,141.0 524.7,142.1 525.2,141.7 525.7,140.8 526.2,141.9 526.7,140.9 527.2,139.8 527.7,143.0 528.2,141.1 528.7,140.9 529.2,141.7 529.7,140.1 530.2,140.3 530.7,141.0 531.2,141.0 531.7,141.6 532.2,142.4 532.7,141.1 533.2,142.0 533.7,142.1 534.2,140.7 534.7,141.8 535.2,140.9 535.7,142.5 536.2,142.0 536.7,141.7 537.2,140.6 537.7,141.8 538.2,141.1 538.7,142.3 539.2,141.7 539.7,141.1 540.2,142.6 540.7,142.4 541.2,141.4 541.7,142.8 542.2,141.6 542.7,141.7 543.2,142.0 543.7,141.3 544.2,141.6 544.7,141.9 545.2,143.2 545.7,143.2 546.2,141.8 546.7,143.4 547.2,142.0 547.7,142.4 548.2,142.8 548.7,142.4 549.2,144.1 549.7,142.4 550.2,141.2 550.7,143.3 551.2,141.9 551.7,142.0 552.2,139.8 552.7,143.1 553.2,143.0 553.7,143.0 554.2,143.1 554.7,143.7 555.2,142.3 555.7,143.1 556.2,141.8 556.7,142.1 557.2,143.3 557.7,142.8 558.2,141.4 558.7,142.8 559.2,142.4 559.7,141.9 560.2,142.9 560.7,142.2 561.2,141.3 561.7,141.7 562.2,144.0 562.7,141.4 563.2,142.8 563.7,143.2 564.2,143.2 564.7,141.7 565.2,142.5 565.7,142.9 566.2,143.4 566.7,142.3 567.2,141.9 567.7,143.6 568.2,143.7 568.7,143.2 569.2,142.4 569.7,143.2 570.2,143.0 570.7,143.6 571.2,142.0 571.7,143.1 572.2,142.9 572.7,142.2 573.2,143.2 573.7,143.1 574.2,142.8 574.7,143.4 575.2,142.0 575.7,143.1 576.2,143.5 576.7,143.4 577.2,144.1 577.7,142.3 578.2,142.1 578.7,143.5 579.2,143.7 579.7,145.0 580.2,143.8 580.7,142.7 581.2,144.0 581.7,142.7 582.2,142.3 582.7,145.5 583.2,143.7 583.7,144.0 584.2,143.9 584.7,144.9 585.2,143.8 585.7,144.5 586.2,142.8 586.7,142.5 587.2,144.7 587.7,144.8 588.2,144.1 588.7,143.9 589.2,143.8 589.7,143.2 590.2,144.9 590.7,144.3 591.2,144.2 591.7,144.1 592.2,144.6 592.7,144.2 593.2,144.5 593.7,143.0 594.2,144.3 594.7,145.6 595.2,143.6 595.7,143.9 596.2,144.7 596.7,144.7 597.2,144.5 597.7,142.8 598.2,144.5 598.7,143.2 599.2,143.5 599.7,144.5 600.2,143.9 600.7,144.8 601.2,146.6 601.7,144.8 602.2,144.8 602.7,143.6 603.2,143.8 603.7,143.5 604.2,143.9 604.7,143.5 605.2,143.8 605.7,144.2 606.2,143.6 606.7,143.3 607.2,143.4 607.7,144.7 608.2,144.5 608.7,145.2 609.2,145.2 609.7,144.2 610.2,145.0 610.7,143.4 611.2,146.2 611.7,145.4 612.2,144.4 612.7,143.7 613.2,144.8 613.7,143.2 614.2,144.0 614.7,145.2 615.2,144.7 615.7,144.3 616.2,145.3 616.7,143.9 617.2,144.9 617.7,144.3 618.2,144.0 618.7,145.0 619.2,144.0 619.7,146.1 620.2,144.3 620.7,146.2 621.2,143.9 621.7,145.2 622.2,143.9 622.7,143.8 623.2,144.9 623.7,145.3 624.2,143.8 624.7,145.7 625.2,144.2 625.7,144.9 626.2,145.1 626.7,145.3 627.2,143.5 627.7,146.0 628.2,145.2 628.7,144.5 629.2,144.1 629.7,143.6 630.2,143.8 630.7,145.3 631.2,144.6 631.7,144.0 632.2,144.5 632.7,146.0 633.2,144.6 633.7,144.5 634.2,145.9 634.7,145.2 635.2,144.9 635.7,144.5 636.2,143.8 636.7,144.1 637.2,144.6 637.7,144.8 638.2,145.2 638.7,145.4 639.2,145.1 639.7,145.1 640.2,144.2 640.7,143.4 641.2,144.6 641.7,144.3 642.2,144.5 642.7,144.8 643.2,144.1 643.7,144.2 644.2,144.9 644.7,145.1 645.2,144.5 645.7,145.4 646.2,144.9 646.7,144.3 647.2,145.1 647.7,146.4 648.2,144.5 648.7,145.9 649.2,146.1 649.7,146.1 650.2,144.4 650.7,146.5 651.2,145.1 651.7,144.9 652.2,144.9 652.7,145.5 653.2,145.1 653.7,144.9 654.2,146.0 654.7,144.6 655.2,144.3 655.7,145.7 656.2,145.6 656.7,145.9 657.2,144.3 657.7,145.9 658.2,145.5 658.7,146.4 659.2,144.2 659.7,145.3 660.2,144.9 660.7,144.0 661.2,144.6 661.7,146.0 662.2,144.8 662.7,144.6 663.2,145.8 663.7,145.9 664.2,145.9 664.7,144.6 665.2,145.1 665.7,145.9 666.2,144.7 666.7,144.6 667.2,145.8 667.7,146.3 668.2,144.3 668.7,143.3 669.2,144.1 669.7,144.4 670.2,145.1 670.7,145.6 671.2,145.1 671.7,144.7 672.2,145.3 672.7,144.5 673.2,145.2 673.7,144.7 674.2,147.2 674.7,145.8 675.2,144.6 675.7,144.5 676.2,144.9 676.7,144.0 677.2,144.7 677.7,144.7 678.2,145.9 678.7,144.9 679.2,144.7 679.7,144.3 680.2,144.4 680.7,145.2 681.2,145.1 681.7,146.1 682.2,144.8 682.7,146.0 683.2,145.4 683.7,145.3 684.2,143.8 684.7,144.3 685.2,145.8 685.7,146.3 686.2,145.4 686.7,145.8 687.2,145.0 687.7,145.0 688.2,144.8 688.7,146.0 689.2,145.5 689.7,145.1 690.2,145.1 690.7,145.7 691.2,145.5 691.7,144.7 692.2,146.6 692.7,145.5 693.2,145.3 693.7,146.4 694.2,146.1 694.7,145.2 695.2,145.7 695.7,144.5 696.2,144.9 696.7,143.7 697.2,146.2 697.7,143.9 698.2,145.8 698.7,144.7 699.2,144.6 699.7,145.2 700.2,145.5 700.7,145.8 701.2,146.6 701.7,145.6 702.2,146.0 702.7,144.9 703.2,145.9 703.7,145.5 704.2,145.0 704.7,145.3 705.2,145.3 705.7,145.5 706.2,145.7 706.7,145.0 707.2,144.8 707.7,145.9 708.2,144.1 708.7,144.9 709.2,146.5 709.7,143.4 710.2,144.9 710.7,145.9 711.2,144.2 711.7,147.3 712.2,143.5 712.7,146.4 713.2,146.5 713.7,146.1 714.2,145.2 714.7,145.7 715.2,144.8 715.7,146.0 716.2,144.6 716.7,145.2 717.2,146.1 717.7,144.6 718.2,145.2 718.7,145.5 719.2,144.5 719.7,146.3 720.2,145.7 720.7,144.3 721.2,145.4 721.7,144.9 722.2,145.0 722.7,145.5 723.2,144.9 723.7,146.2 724.2,144.9 724.7,146.2 725.2,145.4 725.7,146.1 726.2,145.1 726.7,145.1 727.2,144.6 727.7,145.9 728.2,146.2 728.7,147.0 729.2,146.4 729.7,145.7 730.2,145.3 730.7,145.8 731.2,145.5 731.7,146.6 732.2,146.2 732.7,144.9 733.2,145.0 733.7,146.5 734.2,145.7 734.7,145.4 735.2,146.4 735.7,145.2 736.2,145.3 736.7,145.2 737.2,144.1 737.7,146.2 738.2,144.7 738.7,145.1 739.2,145.0 739.7,146.1 740.2,145.5 740.7,145.6 741.2,144.4 741.7,145.5 742.2,144.5 742.7,145.8 743.2,145.8 743.7,145.6 744.2,147.1 744.7,146.0 745.2,146.0 745.7,145.7 746.2,145.5 746.7,146.3 747.2,146.4 747.7,144.7 748.2,146.4 748.7,146.0 749.2,146.3 749.7,146.0 750.2,144.7 750.7,144.8 751.2,147.0 751.7,145.8 752.2,144.6 752.7,145.9 753.2,145.4 753.7,144.3 754.2,144.0 754.7,144.5 755.2,145.9 755.7,145.7 756.2,145.5 756.7,145.9 757.2,146.1 757.7,144.2 758.2,145.5 758.7,145.1 759.2,144.8 759.7,145.3 760.2,145.6 760.7,145.5 761.2,144.7 761.7,145.4 762.2,147.2 762.7,145.0 763.2,144.6 763.7,146.0 764.2,146.2 764.7,146.1 765.2,145.0 765.7,146.5 766.2,145.2 766.7,145.0 767.2,145.4 767.7,145.7 768.2,146.3 768.7,146.3 769.2,145.8 769.7,146.5 770.2,145.9 770.7,146.5 771.2,144.8 771.7,144.7 772.2,146.4 772.7,144.9 773.2,145.6 773.7,145.8 774.2,145.5 774.7,145.6 775.2,146.9 775.7,144.1 776.2,146.5 776.7,147.5 777.2,145.9 777.7,145.9 778.2,146.4 778.7,147.2 779.2,145.1 779.7,146.0 780.2,145.8 780.7,146.3 781.2,146.1 781.7,146.4 782.2,145.7 782.7,146.0 783.2,145.5 783.7,145.5 784.2,145.9 784.7,145.9 785.2,145.2 785.7,147.1 786.2,145.9 786.7,145.0 787.2,146.8 787.7,145.5 788.2,146.4 788.7,146.0 789.2,146.2 789.7,146.2 790.2,145.7 790.7,146.1 791.2,147.5 791.7,144.5 792.2,146.1 792.7,146.4 793.2,145.4 793.7,145.1 794.2,147.6 794.7,145.9 795.2,147.6 795.7,146.5 796.2,146.2 796.7,146.5 797.2,146.6 797.7,147.0 798.2,146.5 798.7,146.3 799.2,146.3 799.7,147.1 800.2,146.8 800.7,145.5 801.2,145.8 801.7,146.5 802.2,145.8 802.7,146.0 803.2,145.6 803.7,146.1 804.2,146.6 804.7,147.0 805.2,146.3 805.7,147.7 806.2,146.2 806.7,148.5 807.2,147.0 807.7,146.7 808.2,146.0 808.7,144.3 809.2,146.2 809.7,146.5 810.2,147.7 810.7,145.4 811.2,147.7 811.7,146.2 812.2,146.9 812.7,144.6 813.2,146.5 813.7,146.2 814.2,146.9 814.7,146.5 815.2,145.6 815.7,147.1 816.2,146.9 816.7,146.9 817.2,147.1 817.7,147.2 818.2,146.4 818.7,145.5 819.2,145.5 819.7,147.4 820.2,147.0 820.7,146.6 821.2,146.2 821.7,146.5 822.2,146.5 822.7,146.3 823.2,146.1 823.7,148.0 824.2,146.7 824.7,146.1 825.2,145.7 825.7,146.1 826.2,147.1 826.7,147.1 827.2,146.4 827.7,146.6 828.2,146.4 828.7,145.9 829.2,147.5 829.7,146.9 830.2,148.4 830.7,146.1 831.2,146.6 831.7,147.3 832.2,146.5 832.7,145.7 833.2,146.0 833.7,146.8 834.2,146.9 834.7,146.7 835.2,147.4 835.7,147.4 836.2,147.0 836.7,146.8 837.2,146.6 837.7,147.1 838.2,147.4 838.7,146.8 839.2,147.1 839.7,146.6 840.2,145.8 840.7,146.1 841.2,147.4 841.7,147.1 842.2,147.9 842.7,146.9 843.2,147.5 843.7,147.8 844.2,147.6 844.7,146.5 845.2,146.8 845.7,147.0 846.2,146.2 846.7,147.2 847.2,147.6 847.7,146.6 848.2,148.3 848.7,146.8 849.2,146.8 849.7,146.8 850.2,146.5 850.7,147.3 851.2,147.0 851.7,148.1 852.2,147.4 852.7,147.4 853.2,146.9 853.7,146.1 854.2,147.0 854.7,146.5 855.2,147.7 855.7,147.1 856.2,148.2 856.7,147.6 857.2,147.7 857.7,147.3 858.2,147.3 858.7,147.6 859.2,147.8 859.7,146.7 860.2,147.5 860.7,148.9 861.2,147.1 861.7,147.0 862.2,146.7 862.7,146.2 863.2,148.0 863.7,147.3 864.2,147.4 864.7,148.5 865.2,148.9 865.7,146.7 866.2,148.0 866.7,147.7 867.2,147.6 867.7,147.6 868.2,147.3 868.7,148.4 869.2,147.7 869.7,147.6 870.2,148.2 870.7,148.0 871.2,147.7 871.7,147.6 872.2,148.6 872.7,147.7 873.2,147.3 873.7,146.8 874.2,147.2 874.7,146.7 875.2,147.5 875.7,147.6 876.2,146.1 876.7,147.5 877.2,147.9 877.7,147.6 878.2,146.9 878.7,148.3 879.2,147.1 879.7,146.7 880.2,146.8 880.7,147.5 881.2,148.2 881.7,148.3 882.2,147.7 882.7,146.8 883.2,147.2 883.7,147.0 884.2,147.5 884.7,146.4 885.2,147.7 885.7,148.1 886.2,147.5 886.7,148.0 887.2,147.0 887.7,146.7 888.2,147.3 888.7,148.5 889.2,148.4 889.7,147.4 890.2,148.5 890.7,147.5 891.2,148.7 891.7,148.1 892.2,147.5 892.7,148.3 893.2,147.3 893.7,147.2 894.2,146.9 894.7,148.0 895.2,147.8 895.7,147.8 896.2,147.6 896.7,148.8 897.2,147.6 897.7,147.4 898.2,148.7" stroke="#930000" stroke-width="2.9"/>
<path class="cv" d="M81.2,203.8 81.7,202.8 82.2,200.6 82.7,202.1 83.2,203.6 83.7,203.1 84.2,205.0 84.7,201.9 85.2,204.3 85.7,203.0 86.2,205.4 86.7,204.0 87.2,205.3 87.7,203.6 88.2,202.9 88.7,203.4 89.2,204.0 89.7,203.7 90.2,206.2 90.7,206.5 91.2,205.4 91.7,204.1 92.2,205.1 92.7,204.5 93.2,206.9 93.7,205.7 94.2,205.9 94.7,204.9 95.2,203.2 95.7,204.5 96.2,204.1 96.7,205.7 97.2,205.4 97.7,204.4 98.2,204.8 98.7,206.9 99.2,204.1 99.7,204.2 100.2,204.9 100.7,204.3 101.2,204.6 101.7,205.6 102.2,206.9 102.7,203.0 103.2,204.9 103.7,204.9 104.2,204.8 104.7,204.6 105.2,204.4 105.7,205.8 106.2,204.2 106.7,204.5 107.2,204.6 107.7,204.6 108.2,204.3 108.7,205.5 109.2,204.3 109.7,204.4 110.2,204.1 110.7,203.0 111.2,203.0 111.7,202.7 112.2,204.0 112.7,202.8 113.2,202.3 113.7,203.6 114.2,203.8 114.7,201.1 115.2,204.8 115.7,202.8 116.2,202.4 116.7,203.5 117.2,202.1 117.7,201.1 118.2,204.0 118.7,200.0 119.2,200.7 119.7,201.5 120.2,198.8 120.7,199.5 121.2,199.5 121.7,201.3 122.2,196.7 122.7,197.0 123.2,197.0 123.7,195.3 124.2,192.6 124.7,193.4 125.2,191.7 125.7,190.5 126.2,189.6 126.7,187.5 127.2,184.6 127.7,182.1 128.2,177.9 128.7,176.6 129.2,174.7 129.7,171.9 130.2,170.8 130.7,168.7 131.2,171.4 131.7,172.8 132.2,170.9 132.7,173.8 133.2,175.4 133.7,179.8 134.2,181.4 134.7,183.5 135.2,185.6 135.7,188.3 136.2,189.0 136.7,193.0 137.2,192.9 137.7,195.9 138.2,196.7 138.7,199.0 139.2,198.7 139.7,200.8 140.2,199.2 140.7,201.6 141.2,201.2 141.7,202.2 142.2,202.5 142.7,203.8 143.2,200.9 143.7,203.8 144.2,202.0 144.7,205.3 145.2,202.0 145.7,203.3 146.2,202.7 146.7,206.5 147.2,203.5 147.7,205.2 148.2,204.6 148.7,203.4 149.2,205.1 149.7,206.3 150.2,205.5 150.7,206.8 151.2,205.5 151.7,206.0 152.2,205.7 152.7,206.6 153.2,208.3 153.7,206.8 154.2,206.7 154.7,205.9 155.2,205.9 155.7,208.3 156.2,205.6 156.7,205.9 157.2,206.8 157.7,206.6 158.2,209.1 158.7,204.7 159.2,207.6 159.7,208.0 160.2,206.1 160.7,206.7 161.2,207.8 161.7,209.1 162.2,206.5 162.7,205.9 163.2,208.6 163.7,209.2 164.2,207.3 164.7,205.4 165.2,209.2 165.7,207.5 166.2,208.9 166.7,207.8 167.2,207.5 167.7,207.4 168.2,209.4 168.7,209.4 169.2,205.8 169.7,207.0 170.2,209.9 170.7,207.7 171.2,206.7 171.7,208.1 172.2,208.0 172.7,208.1 173.2,207.7 173.7,207.9 174.2,207.8 174.7,208.6 175.2,207.5 175.7,208.0 176.2,208.2 176.7,209.7 177.2,208.8 177.7,208.3 178.2,209.0 178.7,208.9 179.2,209.6 179.7,209.0 180.2,210.4 180.7,209.9 181.2,208.5 181.7,208.2 182.2,209.5 182.7,209.2 183.2,208.6 183.7,207.2 184.2,206.8 184.7,209.1 185.2,209.5 185.7,209.6 186.2,207.5 186.7,209.8 187.2,208.3 187.7,209.2 188.2,209.3 188.7,208.1 189.2,208.3 189.7,206.8 190.2,208.0 190.7,207.1 191.2,209.4 191.7,209.0 192.2,209.9 192.7,209.4 193.2,208.4 193.7,209.4 194.2,208.7 194.7,209.7 195.2,209.4 195.7,208.1 196.2,209.2 196.7,209.2 197.2,208.9 197.7,210.1 198.2,210.9 198.7,208.9 199.2,208.9 199.7,207.0 200.2,209.2 200.7,208.9 201.2,207.2 201.7,209.7 202.2,210.0 202.7,208.7 203.2,209.1 203.7,208.5 204.2,210.2 204.7,208.0 205.2,209.2 205.7,211.5 206.2,209.6 206.7,210.0 207.2,209.5 207.7,208.5 208.2,209.6 208.7,210.1 209.2,208.7 209.7,210.1 210.2,211.0 210.7,210.8 211.2,208.2 211.7,208.9 212.2,208.3 212.7,210.9 213.2,210.5 213.7,210.6 214.2,209.1 214.7,208.8 215.2,210.1 215.7,210.1 216.2,209.2 216.7,210.2 217.2,210.7 217.7,210.4 218.2,209.1 218.7,208.1 219.2,210.0 219.7,210.4 220.2,210.0 220.7,209.9 221.2,209.6 221.7,211.0 222.2,210.3 222.7,210.5 223.2,209.5 223.7,209.8 224.2,210.6 224.7,209.5 225.2,209.3 225.7,210.2 226.2,211.7 226.7,210.8 227.2,212.0 227.7,210.5 228.2,210.3 228.7,209.3 229.2,210.1 229.7,212.1 230.2,211.0 230.7,211.4 231.2,211.4 231.7,210.8 232.2,210.6 232.7,210.9 233.2,211.5 233.7,211.3 234.2,211.3 234.7,211.0 235.2,210.1 235.7,210.6 236.2,210.0 236.7,211.9 237.2,208.9 237.7,210.7 238.2,213.2 238.7,210.6 239.2,209.8 239.7,210.9 240.2,212.2 240.7,210.8 241.2,211.5 241.7,211.0 242.2,210.6 242.7,214.0 243.2,211.0 243.7,210.4 244.2,210.5 244.7,211.3 245.2,211.3 245.7,211.7 246.2,211.1 246.7,209.5 247.2,211.4 247.7,210.6 248.2,210.6 248.7,209.4 249.2,210.3 249.7,210.2 250.2,210.8 250.7,209.4 251.2,210.9 251.7,210.9 252.2,209.7 252.7,210.2 253.2,209.9 253.7,211.7 254.2,208.3 254.7,210.4 255.2,209.1 255.7,210.3 256.2,211.5 256.7,210.1 257.2,210.8 257.7,209.8 258.2,212.5 258.7,211.5 259.2,211.7 259.7,209.3 260.2,209.5 260.7,211.6 261.2,210.3 261.7,210.2 262.2,210.8 262.7,209.2 263.2,211.2 263.7,210.4 264.2,210.8 264.7,209.7 265.2,210.8 265.7,209.6 266.2,211.2 266.7,211.4 267.2,211.1 267.7,210.7 268.2,210.8 268.7,207.5 269.2,210.9 269.7,209.8 270.2,210.2 270.7,209.8 271.2,208.6 271.7,209.5 272.2,210.6 272.7,211.3 273.2,209.3 273.7,209.0 274.2,211.3 274.7,209.0 275.2,211.9 275.7,209.8 276.2,208.9 276.7,210.7 277.2,211.4 277.7,208.2 278.2,211.2 278.7,209.3 279.2,211.1 279.7,209.2 280.2,208.0 280.7,210.0 281.2,210.4 281.7,211.6 282.2,211.2 282.7,210.1 283.2,209.1 283.7,208.8 284.2,209.0 284.7,208.5 285.2,209.0 285.7,206.7 286.2,209.4 286.7,209.2 287.2,211.8 287.7,209.9 288.2,208.6 288.7,209.7 289.2,207.8 289.7,208.5 290.2,207.2 290.7,210.5 291.2,209.6 291.7,207.8 292.2,208.9 292.7,209.9 293.2,209.4 293.7,209.3 294.2,208.0 294.7,208.2 295.2,208.9 295.7,209.7 296.2,207.9 296.7,207.6 297.2,209.9 297.7,207.8 298.2,209.8 298.7,208.9 299.2,209.6 299.7,210.4 300.2,209.3 300.7,209.4 301.2,207.6 301.7,207.8 302.2,209.2 302.7,210.1 303.2,209.9 303.7,210.8 304.2,208.8 304.7,208.6 305.2,209.4 305.7,208.4 306.2,208.3 306.7,207.2 307.2,209.3 307.7,207.2 308.2,208.8 308.7,206.8 309.2,209.3 309.7,207.1 310.2,209.0 310.7,206.5 311.2,207.7 311.7,209.3 312.2,207.2 312.7,208.1 313.2,207.5 313.7,205.6 314.2,208.3 314.7,208.4 315.2,206.8 315.7,208.5 316.2,207.1 316.7,206.8 317.2,207.8 317.7,207.1 318.2,210.1 318.7,206.1 319.2,208.5 319.7,208.7 320.2,205.6 320.7,205.9 321.2,208.2 321.7,207.1 322.2,208.0 322.7,208.7 323.2,207.2 323.7,206.4 324.2,204.7 324.7,207.7 325.2,206.5 325.7,207.8 326.2,207.6 326.7,205.9 327.2,209.2 327.7,208.5 328.2,208.2 328.7,206.1 329.2,206.8 329.7,206.7 330.2,206.8 330.7,206.0 331.2,207.6 331.7,207.4 332.2,207.5 332.7,206.6 333.2,208.5 333.7,207.3 334.2,204.2 334.7,206.4 335.2,207.0 335.7,208.0 336.2,206.7 336.7,206.7 337.2,206.2 337.7,207.6 338.2,206.4 338.7,206.2 339.2,206.1 339.7,207.4 340.2,206.3 340.7,205.0 341.2,207.4 341.7,206.0 342.2,207.1 342.7,207.1 343.2,208.0 343.7,207.8 344.2,206.1 344.7,206.5 345.2,205.3 345.7,208.4 346.2,207.1 346.7,208.1 347.2,206.2 347.7,204.4 348.2,208.2 348.7,206.6 349.2,206.7 349.7,206.6 350.2,207.2 350.7,207.0 351.2,204.8 351.7,207.6 352.2,205.9 352.7,205.9 353.2,208.2 353.7,207.4 354.2,206.0 354.7,204.4 355.2,206.5 355.7,206.9 356.2,206.3 356.7,205.0 357.2,205.5 357.7,205.0 358.2,206.5 358.7,207.2 359.2,207.4 359.7,205.5 360.2,206.5 360.7,206.8 361.2,205.7 361.7,206.1 362.2,208.5 362.7,206.4 363.2,207.1 363.7,205.7 364.2,206.2 364.7,204.3 365.2,206.1 365.7,207.4 366.2,208.4 366.7,207.4 367.2,206.8 367.7,206.2 368.2,205.5 368.7,205.9 369.2,206.7 369.7,205.2 370.2,207.1 370.7,205.0 371.2,204.1 371.7,205.0 372.2,204.3 372.7,204.6 373.2,207.2 373.7,205.8 374.2,206.2 374.7,207.2 375.2,207.3 375.7,205.5 376.2,207.4 376.7,206.4 377.2,206.0 377.7,206.5 378.2,204.5 378.7,205.1 379.2,205.9 379.7,206.6 380.2,205.6 380.7,205.8 381.2,207.0 381.7,207.5 382.2,206.8 382.7,207.3 383.2,205.6 383.7,205.7 384.2,206.4 384.7,205.7 385.2,205.5 385.7,207.8 386.2,205.9 386.7,205.1 387.2,206.6 387.7,208.1 388.2,206.2 388.7,207.5 389.2,205.7 389.7,205.7 390.2,205.5 390.7,206.1 391.2,208.3 391.7,205.1 392.2,208.1 392.7,205.3 393.2,206.2 393.7,207.3 394.2,207.1 394.7,206.8 395.2,204.8 395.7,207.0 396.2,205.5 396.7,209.3 397.2,206.4 397.7,206.9 398.2,205.5 398.7,206.3 399.2,205.4 399.7,207.9 400.2,206.6 400.7,207.5 401.2,206.2 401.7,206.4 402.2,208.4 402.7,206.0 403.2,205.2 403.7,207.5 404.2,206.0 404.7,206.7 405.2,208.2 405.7,206.4 406.2,208.2 406.7,206.6 407.2,208.9 407.7,208.8 408.2,206.9 408.7,207.2 409.2,206.6 409.7,207.7 410.2,208.7 410.7,206.0 411.2,208.5 411.7,206.2 412.2,206.7 412.7,205.8 413.2,209.8 413.7,207.7 414.2,208.0 414.7,207.0 415.2,208.8 415.7,205.6 416.2,207.8 416.7,210.0 417.2,207.4 417.7,207.8 418.2,208.5 418.7,206.9 419.2,207.8 419.7,208.7 420.2,207.9 420.7,208.1 421.2,207.3 421.7,208.0 422.2,207.6 422.7,209.0 423.2,208.1 423.7,207.0 424.2,204.5 424.7,207.5 425.2,207.2 425.7,205.0 426.2,203.3 426.7,203.5 427.2,205.1 427.7,202.1 428.2,201.9 428.7,201.8 429.2,202.1 429.7,199.9 430.2,199.2 430.7,198.4 431.2,201.0 431.7,200.5 432.2,199.5 432.7,198.4 433.2,199.7 433.7,201.9 434.2,201.1 434.7,203.6 435.2,203.6 435.7,204.1 436.2,205.0 436.7,205.4 437.2,204.4 437.7,205.4 438.2,208.6 438.7,205.1 439.2,206.2 439.7,208.1 440.2,207.1 440.7,206.7 441.2,206.4 441.7,208.5 442.2,209.2 442.7,209.7 443.2,208.5 443.7,209.7 444.2,207.7 444.7,209.1 445.2,208.4 445.7,209.4 446.2,210.1 446.7,210.6 447.2,208.7 447.7,211.1 448.2,209.6 448.7,209.3 449.2,210.3 449.7,209.2 450.2,210.8 450.7,211.3 451.2,211.0 451.7,211.9 452.2,211.3 452.7,211.8 453.2,210.6 453.7,212.1 454.2,211.4 454.7,212.0 455.2,212.4 455.7,212.8 456.2,211.2 456.7,211.4 457.2,212.6 457.7,213.4 458.2,213.4 458.7,214.0 459.2,214.4 459.7,213.7 460.2,213.3 460.7,212.4 461.2,212.6 461.7,213.1 462.2,213.8 462.7,213.8 463.2,213.6 463.7,213.5 464.2,214.3 464.7,214.0 465.2,214.1 465.7,214.1 466.2,213.4 466.7,213.0 467.2,214.4 467.7,214.4 468.2,213.8 468.7,213.7 469.2,216.2 469.7,213.5 470.2,214.0 470.7,214.5 471.2,213.2 471.7,214.4 472.2,215.9 472.7,215.2 473.2,214.9 473.7,214.9 474.2,214.6 474.7,215.3 475.2,214.4 475.7,214.2 476.2,214.7 476.7,215.4 477.2,215.0 477.7,215.3 478.2,213.0 478.7,215.8 479.2,216.9 479.7,216.1 480.2,214.6 480.7,214.2 481.2,215.3 481.7,214.2 482.2,215.8 482.7,214.7 483.2,216.1 483.7,216.5 484.2,213.6 484.7,215.6 485.2,214.8 485.7,214.3 486.2,215.0 486.7,215.4 487.2,216.6 487.7,214.4 488.2,216.7 488.7,217.6 489.2,216.4 489.7,216.4 490.2,216.0 490.7,215.1 491.2,216.6 491.7,216.5 492.2,216.9 492.7,218.5 493.2,217.0 493.7,216.8 494.2,217.8 494.7,215.4 495.2,215.6 495.7,216.3 496.2,216.1 496.7,217.3 497.2,216.5 497.7,218.3 498.2,218.1 498.7,217.6 499.2,216.6 499.7,217.5 500.2,217.7 500.7,216.2 501.2,217.4 501.7,217.7 502.2,217.4 502.7,218.5 503.2,218.3 503.7,216.6 504.2,217.4 504.7,216.7 505.2,217.9 505.7,216.7 506.2,218.2 506.7,217.8 507.2,218.3 507.7,217.4 508.2,216.4 508.7,219.1 509.2,217.5 509.7,218.8 510.2,218.1 510.7,218.3 511.2,219.3 511.7,218.1 512.2,219.0 512.7,216.7 513.2,218.6 513.7,217.7 514.2,217.8 514.7,218.0 515.2,218.3 515.7,219.4 516.2,216.6 516.7,218.1 517.2,217.5 517.7,219.1 518.2,217.8 518.7,218.6 519.2,217.9 519.7,218.8 520.2,219.1 520.7,218.0 521.2,218.4 521.7,217.2 522.2,218.6 522.7,219.1 523.2,218.0 523.7,219.4 524.2,216.8 524.7,217.0 525.2,217.4 525.7,218.2 526.2,218.6 526.7,218.5 527.2,218.6 527.7,219.2 528.2,218.3 528.7,217.7 529.2,217.7 529.7,220.4 530.2,216.9 530.7,218.7 531.2,220.0 531.7,219.2 532.2,218.2 532.7,218.9 533.2,219.6 533.7,219.9 534.2,218.3 534.7,219.6 535.2,219.2 535.7,219.9 536.2,220.1 536.7,218.8 537.2,218.0 537.7,219.4 538.2,220.5 538.7,219.7 539.2,219.3 539.7,221.1 540.2,218.4 540.7,219.9 541.2,218.8 541.7,219.3 542.2,219.4 542.7,220.5 543.2,218.6 543.7,218.9 544.2,218.1 544.7,219.8 545.2,219.0 545.7,219.7 546.2,218.6 546.7,219.2 547.2,220.3 547.7,219.4 548.2,220.0 548.7,219.9 549.2,219.3 549.7,218.4 550.2,220.3 550.7,219.7 551.2,220.4 551.7,218.1 552.2,218.4 552.7,218.0 553.2,219.0 553.7,220.5 554.2,220.1 554.7,219.7 555.2,219.8 555.7,220.3 556.2,219.5 556.7,220.1 557.2,219.9 557.7,218.1 558.2,219.5 558.7,220.9 559.2,219.6 559.7,219.8 560.2,219.4 560.7,219.5 561.2,220.8 561.7,219.7 562.2,219.2 562.7,217.6 563.2,219.5 563.7,218.5 564.2,218.6 564.7,220.6 565.2,220.6 565.7,218.6 566.2,220.7 566.7,220.4 567.2,219.5 567.7,220.6 568.2,218.9 568.7,219.2 569.2,219.0 569.7,219.3 570.2,220.8 570.7,219.1 571.2,219.3 571.7,219.5 572.2,220.3 572.7,219.9 573.2,220.9 573.7,219.7 574.2,219.3 574.7,219.9 575.2,220.3 575.7,219.6 576.2,220.5 576.7,221.6 577.2,219.9 577.7,220.3 578.2,221.3 578.7,219.8 579.2,219.7 579.7,219.5 580.2,220.7 580.7,220.8 581.2,220.3 581.7,220.4 582.2,221.4 582.7,221.1 583.2,219.4 583.7,220.4 584.2,220.5 584.7,221.0 585.2,220.3 585.7,220.0 586.2,220.1 586.7,219.2 587.2,220.5 587.7,220.1 588.2,220.9 588.7,219.8 589.2,220.2 589.7,219.8 590.2,219.8 590.7,221.1 591.2,220.2 591.7,220.9 592.2,219.8 592.7,220.7 593.2,219.4 593.7,220.3 594.2,220.2 594.7,221.1 595.2,220.8 595.7,220.5 596.2,221.3 596.7,220.8 597.2,221.1 597.7,221.2 598.2,220.6 598.7,220.5 599.2,220.9 599.7,220.4 600.2,221.0 600.7,221.5 601.2,221.4 601.7,220.5 602.2,219.8 602.7,220.7 603.2,220.7 603.7,221.6 604.2,220.5 604.7,220.6 605.2,221.3 605.7,220.5 606.2,220.7 606.7,222.1 607.2,221.9 607.7,221.3 608.2,221.0 608.7,220.1 609.2,221.3 609.7,220.9 610.2,221.0 610.7,220.5 611.2,220.9 611.7,220.8 612.2,221.1 612.7,222.0 613.2,221.2 613.7,219.7 614.2,220.2 614.7,219.8 615.2,220.4 615.7,221.4 616.2,221.2 616.7,220.5 617.2,221.2 617.7,220.4 618.2,219.9 618.7,220.0 619.2,220.4 619.7,222.0 620.2,220.0 620.7,221.9 621.2,222.0 621.7,220.9 622.2,221.0 622.7,220.6 623.2,221.0 623.7,221.5 624.2,221.1 624.7,221.8 625.2,221.9 625.7,221.3 626.2,221.3 626.7,221.0 627.2,221.3 627.7,220.3 628.2,221.4 628.7,221.2 629.2,220.5 629.7,222.7 630.2,220.4 630.7,220.5 631.2,221.3 631.7,219.7 632.2,220.6 632.7,220.0 633.2,220.4 633.7,221.0 634.2,221.4 634.7,221.9 635.2,221.7 635.7,222.0 636.2,221.6 636.7,220.8 637.2,222.0 637.7,220.8 638.2,220.7 638.7,222.3 639.2,221.8 639.7,221.4 640.2,221.7 640.7,221.8 641.2,220.2 641.7,221.1 642.2,220.4 642.7,221.3 643.2,220.7 643.7,222.2 644.2,221.6 644.7,220.6 645.2,221.2 645.7,220.4 646.2,221.3 646.7,221.6 647.2,221.4 647.7,219.9 648.2,221.0 648.7,221.6 649.2,221.5 649.7,222.1 650.2,220.3 650.7,221.7 651.2,220.8 651.7,221.4 652.2,221.6 652.7,221.8 653.2,220.9 653.7,221.4 654.2,220.5 654.7,220.3 655.2,221.7 655.7,221.3 656.2,220.2 656.7,220.7 657.2,221.3 657.7,222.4 658.2,222.1 658.7,221.9 659.2,220.1 659.7,221.3 660.2,221.7 660.7,221.6 661.2,221.7 661.7,221.2 662.2,222.6 662.7,222.4 663.2,221.3 663.7,220.7 664.2,222.8 664.7,221.0 665.2,222.2 665.7,222.8 666.2,220.7 666.7,221.6 667.2,221.1 667.7,221.8 668.2,221.6 668.7,222.8 669.2,221.8 669.7,221.4 670.2,222.2 670.7,221.2 671.2,221.2 671.7,223.0 672.2,220.8 672.7,221.1 673.2,221.5 673.7,220.7 674.2,219.9 674.7,222.2 675.2,220.9 675.7,221.1 676.2,221.2 676.7,220.7 677.2,220.7 677.7,221.6 678.2,223.2 678.7,222.0 679.2,222.0 679.7,220.4 680.2,221.5 680.7,220.6 681.2,222.0 681.7,221.3 682.2,221.5 682.7,221.4 683.2,221.1 683.7,220.4 684.2,221.9 684.7,220.5 685.2,220.7 685.7,221.3 686.2,221.0 686.7,221.7 687.2,222.2 687.7,221.7 688.2,221.7 688.7,221.5 689.2,222.1 689.7,220.2 690.2,221.8 690.7,220.9 691.2,220.6 691.7,221.5 692.2,221.3 692.7,222.0 693.2,222.3 693.7,219.9 694.2,221.5 694.7,222.9 695.2,222.2 695.7,222.6 696.2,221.6 696.7,220.5 697.2,220.8 697.7,222.1 698.2,222.2 698.7,221.0 699.2,221.4 699.7,221.8 700.2,220.3 700.7,221.3 701.2,222.7 701.7,223.1 702.2,221.5 702.7,222.9 703.2,221.2 703.7,221.0 704.2,220.0 704.7,222.3 705.2,221.3 705.7,223.3 706.2,221.8 706.7,221.7 707.2,220.3 707.7,222.7 708.2,221.4 708.7,221.5 709.2,220.1 709.7,222.3 710.2,222.3 710.7,221.2 711.2,221.7 711.7,221.9 712.2,222.3 712.7,221.7 713.2,222.9 713.7,221.5 714.2,221.2 714.7,221.3 715.2,219.9 715.7,221.1 716.2,222.4 716.7,221.9 717.2,221.1 717.7,221.9 718.2,220.2 718.7,221.5 719.2,222.1 719.7,222.2 720.2,221.1 720.7,222.3 721.2,223.0 721.7,221.4 722.2,222.2 722.7,220.6 723.2,220.3 723.7,222.1 724.2,221.7 724.7,221.9 725.2,221.3 725.7,221.5 726.2,222.3 726.7,223.0 727.2,221.6 727.7,220.6 728.2,222.6 728.7,222.2 729.2,222.2 729.7,221.9 730.2,223.4 730.7,221.8 731.2,222.1 731.7,220.5 732.2,221.4 732.7,221.3 733.2,221.8 733.7,222.0 734.2,221.3 734.7,223.0 735.2,221.0 735.7,221.5 736.2,222.0 736.7,220.9 737.2,222.2 737.7,222.3 738.2,221.6 738.7,223.2 739.2,221.9 739.7,222.0 740.2,221.1 740.7,220.6 741.2,221.4 741.7,221.6 742.2,221.5 742.7,222.4 743.2,220.2 743.7,221.0 744.2,220.6 744.7,222.8 745.2,221.5 745.7,221.5 746.2,221.1 746.7,222.5 747.2,221.6 747.7,222.0 748.2,220.5 748.7,222.7 749.2,222.2 749.7,222.3 750.2,222.8 750.7,221.8 751.2,221.8 751.7,222.4 752.2,222.2 752.7,221.8 753.2,222.0 753.7,221.6 754.2,222.4 754.7,222.6 755.2,221.9 755.7,223.3 756.2,220.9 756.7,221.8 757.2,223.2 757.7,221.7 758.2,220.8 758.7,223.0 759.2,222.4 759.7,221.1 760.2,222.5 760.7,221.3 761.2,221.1 761.7,221.9 762.2,221.7 762.7,221.2 763.2,221.8 763.7,221.3 764.2,222.1 764.7,222.0 765.2,222.6 765.7,221.7 766.2,221.1 766.7,221.1 767.2,221.9 767.7,223.1 768.2,222.7 768.7,221.6 769.2,222.7 769.7,221.3 770.2,222.8 770.7,221.8 771.2,222.6 771.7,222.5 772.2,221.9 772.7,222.3 773.2,221.4 773.7,222.1 774.2,222.9 774.7,225.0 775.2,222.6 775.7,222.2 776.2,221.4 776.7,222.9 777.2,221.0 777.7,221.6 778.2,222.4 778.7,221.3 779.2,223.3 779.7,223.0 780.2,221.8 780.7,221.8 781.2,221.3 781.7,221.2 782.2,222.5 782.7,222.7 783.2,222.5 783.7,222.4 784.2,221.8 784.7,222.5 785.2,221.2 785.7,222.3 786.2,223.3 786.7,223.2 787.2,221.9 787.7,222.0 788.2,223.2 788.7,223.5 789.2,221.3 789.7,222.0 790.2,222.5 790.7,223.2 791.2,221.7 791.7,222.8 792.2,222.1 792.7,224.0 793.2,222.6 793.7,222.3 794.2,222.1 794.7,223.1 795.2,222.8 795.7,221.6 796.2,222.5 796.7,221.5 797.2,221.9 797.7,221.5 798.2,221.5 798.7,221.9 799.2,221.7 799.7,222.8 800.2,223.0 800.7,222.3 801.2,221.7 801.7,223.0 802.2,221.0 802.7,221.1 803.2,223.0 803.7,222.9 804.2,223.1 804.7,222.3 805.2,221.6 805.7,222.1 806.2,222.9 806.7,222.0 807.2,222.0 807.7,221.6 808.2,221.7 808.7,223.1 809.2,222.8 809.7,221.7 810.2,221.8 810.7,222.2 811.2,222.9 811.7,221.8 812.2,222.5 812.7,221.1 813.2,221.7 813.7,222.9 814.2,223.2 814.7,221.8 815.2,222.1 815.7,223.2 816.2,222.4 816.7,222.3 817.2,223.0 817.7,222.8 818.2,223.4 818.7,223.2 819.2,222.3 819.7,222.6 820.2,222.6 820.7,221.8 821.2,222.0 821.7,223.4 822.2,221.6 822.7,223.4 823.2,222.9 823.7,222.6 824.2,223.1 824.7,223.1 825.2,223.6 825.7,222.5 826.2,222.6 826.7,222.6 827.2,224.1 827.7,223.4 828.2,222.2 828.7,222.6 829.2,222.3 829.7,222.8 830.2,223.0 830.7,224.4 831.2,221.6 831.7,223.5 832.2,223.1 832.7,222.4 833.2,222.8 833.7,222.5 834.2,222.9 834.7,223.6 835.2,221.9 835.7,223.8 836.2,222.6 836.7,223.9 837.2,223.2 837.7,223.8 838.2,223.3 838.7,223.7 839.2,223.0 839.7,222.4 840.2,223.4 840.7,223.4 841.2,224.4 841.7,221.6 842.2,222.9 842.7,223.7 843.2,222.2 843.7,222.9 844.2,224.4 844.7,224.0 845.2,222.4 845.7,224.0 846.2,223.8 846.7,223.6 847.2,223.3 847.7,223.2 848.2,222.5 848.7,222.7 849.2,223.6 849.7,223.2 850.2,224.3 850.7,222.9 851.2,221.5 851.7,222.9 852.2,223.3 852.7,223.4 853.2,223.2 853.7,222.6 854.2,224.2 854.7,222.7 855.2,223.7 855.7,223.0 856.2,222.4 856.7,224.1 857.2,221.5 857.7,222.7 858.2,223.5 858.7,223.0 859.2,223.7 859.7,223.2 860.2,223.0 860.7,224.7 861.2,223.1 861.7,223.2 862.2,222.6 862.7,222.8 863.2,223.7 863.7,223.7 864.2,223.3 864.7,222.9 865.2,223.8 865.7,222.2 866.2,223.1 866.7,223.2 867.2,222.8 867.7,223.5 868.2,222.9 868.7,222.9 869.2,224.6 869.7,223.9 870.2,224.2 870.7,223.5 871.2,224.1 871.7,224.0 872.2,224.3 872.7,225.0 873.2,223.3 873.7,223.6 874.2,223.5 874.7,221.2 875.2,222.6 875.7,223.5 876.2,223.9 876.7,223.1 877.2,224.3 877.7,224.4 878.2,223.3 878.7,224.5 879.2,224.7 879.7,223.9 880.2,222.9 880.7,224.6 881.2,223.5 881.7,223.4 882.2,223.7 882.7,223.3 883.2,224.3 883.7,224.2 884.2,224.4 884.7,224.0 885.2,223.2 885.7,223.6 886.2,224.3 886.7,223.4 887.2,225.6 887.7,223.6 888.2,223.3 888.7,224.5 889.2,224.2 889.7,223.7 890.2,223.6 890.7,224.0 891.2,224.3 891.7,224.3 892.2,223.6 892.7,224.1 893.2,224.3 893.7,224.3 894.2,221.8 894.7,223.2 895.2,223.3 895.7,223.7 896.2,224.0 896.7,224.5 897.2,224.3 897.7,223.8 898.2,223.9" stroke="#404040" stroke-width="2.9"/>
<path class="cv" d="M81.2,262.7 81.7,258.6 82.2,260.5 82.7,263.0 83.2,261.0 83.7,256.9 84.2,261.5 84.7,260.4 85.2,261.1 85.7,263.4 86.2,262.6 86.7,261.5 87.2,263.7 87.7,263.1 88.2,262.7 88.7,263.2 89.2,263.3 89.7,262.5 90.2,262.4 90.7,263.5 91.2,261.9 91.7,261.5 92.2,266.2 92.7,263.6 93.2,264.2 93.7,264.1 94.2,264.5 94.7,264.7 95.2,264.9 95.7,263.6 96.2,266.7 96.7,264.0 97.2,267.2 97.7,262.2 98.2,263.8 98.7,267.5 99.2,265.6 99.7,264.9 100.2,266.8 100.7,264.4 101.2,266.5 101.7,262.6 102.2,265.7 102.7,265.5 103.2,267.5 103.7,268.2 104.2,265.3 104.7,269.5 105.2,265.8 105.7,263.3 106.2,262.8 106.7,269.5 107.2,266.8 107.7,265.9 108.2,265.7 108.7,265.2 109.2,269.3 109.7,266.9 110.2,270.1 110.7,266.8 111.2,263.2 111.7,268.6 112.2,266.6 112.7,266.8 113.2,269.9 113.7,266.8 114.2,269.2 114.7,267.2 115.2,266.0 115.7,268.1 116.2,266.2 116.7,269.3 117.2,268.8 117.7,267.3 118.2,268.2 118.7,268.1 119.2,266.7 119.7,268.6 120.2,266.7 120.7,268.0 121.2,265.3 121.7,267.0 122.2,267.5 122.7,265.3 123.2,265.9 123.7,265.5 124.2,267.6 124.7,264.9 125.2,266.7 125.7,268.3 126.2,266.1 126.7,262.3 127.2,265.0 127.7,266.2 128.2,263.4 128.7,265.3 129.2,263.9 129.7,262.9 130.2,260.9 130.7,259.6 131.2,259.2 131.7,258.8 132.2,258.6 132.7,257.3 133.2,254.7 133.7,254.2 134.2,253.5 134.7,248.1 135.2,248.4 135.7,246.9 136.2,246.8 136.7,245.2 137.2,244.0 137.7,241.4 138.2,243.6 138.7,241.7 139.2,236.8 139.7,239.7 140.2,236.9 140.7,242.7 141.2,238.1 141.7,238.4 142.2,239.9 142.7,239.8 143.2,240.8 143.7,245.1 144.2,243.2 144.7,245.5 145.2,247.2 145.7,243.9 146.2,250.4 146.7,249.4 147.2,251.0 147.7,248.3 148.2,252.6 148.7,252.7 149.2,251.7 149.7,258.0 150.2,255.5 150.7,254.6 151.2,256.1 151.7,258.1 152.2,259.1 152.7,258.5 153.2,260.2 153.7,261.1 154.2,256.6 154.7,258.4 155.2,257.9 155.7,260.2 156.2,262.9 156.7,261.8 157.2,259.0 157.7,260.6 158.2,263.3 158.7,260.7 159.2,261.7 159.7,262.7 160.2,259.1 160.7,263.9 161.2,263.3 161.7,263.9 162.2,261.3 162.7,261.9 163.2,262.4 163.7,264.0 164.2,263.9 164.7,264.1 165.2,267.2 165.7,266.5 166.2,263.0 166.7,263.3 167.2,267.6 167.7,264.1 168.2,267.2 168.7,267.7 169.2,264.1 169.7,264.7 170.2,265.4 170.7,263.9 171.2,263.8 171.7,264.9 172.2,267.1 172.7,265.0 173.2,265.5 173.7,265.1 174.2,263.7 174.7,268.6 175.2,262.2 175.7,265.1 176.2,267.3 176.7,264.0 177.2,267.5 177.7,268.6 178.2,265.1 178.7,267.0 179.2,264.8 179.7,267.6 180.2,266.9 180.7,267.1 181.2,269.1 181.7,267.6 182.2,269.1 182.7,267.9 183.2,264.8 183.7,267.3 184.2,267.7 184.7,264.5 185.2,269.2 185.7,267.0 186.2,267.6 186.7,265.4 187.2,267.1 187.7,267.4 188.2,266.4 188.7,267.0 189.2,263.3 189.7,269.2 190.2,265.0 190.7,263.1 191.2,265.2 191.7,265.4 192.2,267.7 192.7,265.2 193.2,267.2 193.7,265.1 194.2,270.4 194.7,267.6 195.2,270.0 195.7,264.9 196.2,267.7 196.7,264.9 197.2,267.5 197.7,267.6 198.2,263.7 198.7,264.4 199.2,264.3 199.7,263.7 200.2,265.0 200.7,264.6 201.2,263.7 201.7,266.3 202.2,267.0 202.7,263.8 203.2,265.0 203.7,266.0 204.2,265.5 204.7,264.7 205.2,267.2 205.7,267.2 206.2,266.9 206.7,265.3 207.2,269.1 207.7,268.6 208.2,264.8 208.7,265.3 209.2,267.5 209.7,264.0 210.2,266.0 210.7,265.4 211.2,264.0 211.7,264.7 212.2,262.4 212.7,264.1 213.2,261.5 213.7,268.8 214.2,267.4 214.7,266.9 215.2,265.2 215.7,266.3 216.2,266.7 216.7,266.2 217.2,265.9 217.7,262.7 218.2,264.9 218.7,263.2 219.2,262.0 219.7,261.9 220.2,264.6 220.7,265.6 221.2,261.3 221.7,266.7 222.2,266.2 222.7,262.8 223.2,262.6 223.7,263.2 224.2,265.0 224.7,262.6 225.2,261.2 225.7,263.7 226.2,259.4 226.7,263.2 227.2,265.0 227.7,263.4 228.2,264.2 228.7,263.6 229.2,264.0 229.7,262.8 230.2,261.0 230.7,262.0 231.2,262.3 231.7,264.6 232.2,265.2 232.7,262.9 233.2,260.8 233.7,260.8 234.2,261.7 234.7,264.5 235.2,262.5 235.7,261.8 236.2,260.5 236.7,263.4 237.2,262.3 237.7,261.7 238.2,262.0 238.7,264.8 239.2,261.5 239.7,264.8 240.2,264.0 240.7,261.9 241.2,263.4 241.7,261.6 242.2,260.4 242.7,261.5 243.2,260.3 243.7,262.9 244.2,262.1 244.7,263.1 245.2,263.6 245.7,256.6 246.2,262.8 246.7,259.1 247.2,262.7 247.7,260.9 248.2,262.7 248.7,265.0 249.2,259.6 249.7,263.0 250.2,262.6 250.7,259.5 251.2,264.0 251.7,263.0 252.2,262.1 252.7,261.8 253.2,268.8 253.7,262.5 254.2,260.1 254.7,261.7 255.2,262.7 255.7,262.7 256.2,263.3 256.7,261.7 257.2,264.5 257.7,262.8 258.2,261.3 258.7,262.3 259.2,263.1 259.7,265.3 260.2,264.8 260.7,263.4 261.2,264.1 261.7,264.4 262.2,267.7 262.7,263.1 263.2,265.1 263.7,265.6 264.2,262.7 264.7,264.7 265.2,264.7 265.7,263.7 266.2,265.5 266.7,266.4 267.2,266.6 267.7,264.4 268.2,265.1 268.7,268.9 269.2,262.9 269.7,265.2 270.2,266.4 270.7,265.2 271.2,266.1 271.7,265.3 272.2,266.3 272.7,267.3 273.2,264.7 273.7,265.5 274.2,265.1 274.7,264.5 275.2,265.2 275.7,263.3 276.2,266.6 276.7,268.3 277.2,268.3 277.7,267.6 278.2,263.8 278.7,268.1 279.2,264.3 279.7,265.4 280.2,268.7 280.7,263.7 281.2,267.1 281.7,266.1 282.2,265.4 282.7,264.2 283.2,266.5 283.7,265.0 284.2,267.6 284.7,267.9 285.2,263.5 285.7,265.0 286.2,265.4 286.7,263.9 287.2,264.0 287.7,266.1 288.2,265.7 288.7,263.2 289.2,265.1 289.7,267.0 290.2,264.1 290.7,264.6 291.2,268.9 291.7,268.5 292.2,263.4 292.7,263.9 293.2,266.9 293.7,264.3 294.2,265.9 294.7,265.6 295.2,267.3 295.7,262.1 296.2,262.6 296.7,264.3 297.2,268.2 297.7,266.2 298.2,263.6 298.7,267.3 299.2,267.7 299.7,266.1 300.2,266.0 300.7,267.3 301.2,268.6 301.7,266.8 302.2,267.5 302.7,266.5 303.2,266.0 303.7,265.1 304.2,267.1 304.7,266.1 305.2,266.3 305.7,268.3 306.2,267.5 306.7,268.2 307.2,264.0 307.7,267.7 308.2,265.7 308.7,265.3 309.2,265.3 309.7,268.8 310.2,268.1 310.7,265.5 311.2,264.8 311.7,266.8 312.2,266.0 312.7,269.6 313.2,264.3 313.7,263.6 314.2,266.3 314.7,266.8 315.2,267.0 315.7,268.1 316.2,270.3 316.7,266.2 317.2,265.9 317.7,263.8 318.2,267.2 318.7,268.2 319.2,266.3 319.7,268.8 320.2,266.8 320.7,269.4 321.2,267.4 321.7,265.0 322.2,265.7 322.7,264.2 323.2,263.9 323.7,267.3 324.2,268.3 324.7,270.1 325.2,266.7 325.7,266.4 326.2,264.9 326.7,268.5 327.2,267.5 327.7,265.8 328.2,268.0 328.7,267.8 329.2,263.6 329.7,268.1 330.2,267.1 330.7,266.2 331.2,266.1 331.7,269.8 332.2,269.4 332.7,269.9 333.2,264.9 333.7,265.7 334.2,268.4 334.7,264.8 335.2,265.6 335.7,263.8 336.2,270.0 336.7,268.7 337.2,267.6 337.7,267.2 338.2,266.1 338.7,266.2 339.2,267.9 339.7,265.6 340.2,268.9 340.7,266.0 341.2,265.4 341.7,269.1 342.2,266.6 342.7,267.8 343.2,266.2 343.7,263.0 344.2,267.8 344.7,264.6 345.2,268.7 345.7,264.2 346.2,263.7 346.7,267.4 347.2,267.6 347.7,267.1 348.2,264.8 348.7,268.4 349.2,264.4 349.7,266.1 350.2,265.6 350.7,266.3 351.2,268.4 351.7,265.8 352.2,267.9 352.7,268.1 353.2,264.0 353.7,264.9 354.2,266.3 354.7,265.9 355.2,267.5 355.7,263.7 356.2,268.2 356.7,268.2 357.2,266.7 357.7,264.6 358.2,267.0 358.7,266.1 359.2,268.0 359.7,266.9 360.2,268.3 360.7,266.3 361.2,269.5 361.7,263.1 362.2,265.3 362.7,267.9 363.2,264.5 363.7,268.4 364.2,265.1 364.7,267.3 365.2,265.6 365.7,266.4 366.2,267.5 366.7,267.0 367.2,266.6 367.7,270.9 368.2,267.3 368.7,265.6 369.2,268.9 369.7,268.7 370.2,269.4 370.7,270.4 371.2,265.8 371.7,269.2 372.2,269.3 372.7,267.4 373.2,267.9 373.7,262.4 374.2,266.5 374.7,270.5 375.2,264.5 375.7,266.6 376.2,268.1 376.7,268.6 377.2,270.4 377.7,264.7 378.2,267.7 378.7,269.1 379.2,265.5 379.7,267.7 380.2,270.9 380.7,270.0 381.2,268.7 381.7,263.4 382.2,267.6 382.7,268.5 383.2,267.4 383.7,267.8 384.2,273.1 384.7,267.6 385.2,266.4 385.7,268.4 386.2,267.5 386.7,267.6 387.2,268.0 387.7,269.5 388.2,268.6 388.7,266.2 389.2,268.1 389.7,269.1 390.2,267.6 390.7,270.3 391.2,269.7 391.7,266.8 392.2,269.0 392.7,271.8 393.2,271.2 393.7,268.5 394.2,270.2 394.7,267.6 395.2,266.3 395.7,269.7 396.2,269.2 396.7,269.7 397.2,268.9 397.7,269.5 398.2,268.1 398.7,269.8 399.2,270.4 399.7,269.0 400.2,270.5 400.7,266.2 401.2,267.9 401.7,271.6 402.2,272.2 402.7,269.7 403.2,269.2 403.7,267.3 404.2,270.0 404.7,270.7 405.2,267.0 405.7,270.4 406.2,270.3 406.7,270.3 407.2,267.7 407.7,270.5 408.2,267.2 408.7,272.1 409.2,269.9 409.7,267.8 410.2,272.0 410.7,271.7 411.2,268.7 411.7,273.4 412.2,268.2 412.7,270.4 413.2,271.8 413.7,266.2 414.2,271.5 414.7,269.8 415.2,269.9 415.7,268.2 416.2,270.5 416.7,268.1 417.2,268.3 417.7,269.2 418.2,267.9 418.7,272.5 419.2,267.7 419.7,268.7 420.2,269.4 420.7,269.9 421.2,271.1 421.7,271.1 422.2,269.2 422.7,269.0 423.2,269.6 423.7,270.8 424.2,270.4 424.7,268.2 425.2,265.4 425.7,272.1 426.2,269.7 426.7,268.1 427.2,267.8 427.7,265.7 428.2,264.2 428.7,264.7 429.2,264.1 429.7,262.6 430.2,260.4 430.7,261.7 431.2,262.6 431.7,260.2 432.2,260.9 432.7,257.0 433.2,260.5 433.7,260.9 434.2,259.3 434.7,258.8 435.2,263.2 435.7,261.5 436.2,264.4 436.7,263.4 437.2,265.8 437.7,264.6 438.2,263.1 438.7,266.0 439.2,266.0 439.7,268.1 440.2,266.6 440.7,267.0 441.2,269.5 441.7,270.3 442.2,269.8 442.7,270.5 443.2,269.8 443.7,270.5 444.2,270.9 444.7,270.2 445.2,269.9 445.7,270.1 446.2,274.0 446.7,270.3 447.2,270.0 447.7,270.0 448.2,270.7 448.7,271.3 449.2,269.3 449.7,268.1 450.2,271.9 450.7,269.1 451.2,272.2 451.7,272.2 452.2,274.0 452.7,275.0 453.2,273.2 453.7,271.9 454.2,271.1 454.7,271.9 455.2,273.4 455.7,270.3 456.2,273.9 456.7,273.9 457.2,275.1 457.7,273.8 458.2,274.7 458.7,273.6 459.2,274.2 459.7,272.4 460.2,275.4 460.7,277.8 461.2,275.8 461.7,276.3 462.2,274.4 462.7,278.2 463.2,275.0 463.7,277.5 464.2,276.6 464.7,275.2 465.2,278.3 465.7,276.9 466.2,277.3 466.7,277.8 467.2,277.3 467.7,276.9 468.2,278.3 468.7,277.1 469.2,278.0 469.7,277.0 470.2,276.0 470.7,277.3 471.2,277.7 471.7,278.6 472.2,280.4 472.7,276.4 473.2,279.1 473.7,275.9 474.2,277.7 474.7,278.6 475.2,276.2 475.7,276.9 476.2,279.8 476.7,279.8 477.2,279.7 477.7,278.8 478.2,283.1 478.7,279.9 479.2,279.0 479.7,282.7 480.2,281.2 480.7,279.9 481.2,282.2 481.7,280.8 482.2,281.6 482.7,281.1 483.2,279.4 483.7,282.2 484.2,281.2 484.7,279.6 485.2,280.0 485.7,282.5 486.2,280.7 486.7,281.3 487.2,282.2 487.7,281.6 488.2,279.3 488.7,282.4 489.2,282.9 489.7,282.8 490.2,283.9 490.7,282.2 491.2,282.9 491.7,284.0 492.2,281.5 492.7,284.3 493.2,284.4 493.7,283.1 494.2,284.6 494.7,283.3 495.2,281.0 495.7,283.8 496.2,282.7 496.7,282.9 497.2,282.6 497.7,284.3 498.2,283.2 498.7,281.6 499.2,283.2 499.7,283.6 500.2,281.7 500.7,282.1 501.2,282.2 501.7,282.0 502.2,283.3 502.7,284.3 503.2,285.5 503.7,284.6 504.2,284.4 504.7,284.6 505.2,284.9 505.7,282.6 506.2,284.1 506.7,283.7 507.2,283.1 507.7,282.7 508.2,282.7 508.7,283.0 509.2,281.8 509.7,284.2 510.2,283.5 510.7,283.7 511.2,284.0 511.7,284.6 512.2,282.9 512.7,283.6 513.2,281.6 513.7,280.9 514.2,281.3 514.7,285.9 515.2,281.5 515.7,284.6 516.2,285.9 516.7,283.4 517.2,286.2 517.7,286.5 518.2,285.4 518.7,287.3 519.2,285.0 519.7,283.3 520.2,285.0 520.7,283.7 521.2,282.6 521.7,282.7 522.2,287.4 522.7,283.8 523.2,284.5 523.7,283.7 524.2,284.7 524.7,284.3 525.2,284.1 525.7,283.1 526.2,282.9 526.7,283.8 527.2,285.2 527.7,287.5 528.2,286.2 528.7,287.2 529.2,285.5 529.7,284.8 530.2,283.3 530.7,285.0 531.2,282.3 531.7,284.7 532.2,287.2 532.7,285.6 533.2,286.6 533.7,284.7 534.2,283.5 534.7,284.7 535.2,284.8 535.7,286.9 536.2,287.9 536.7,284.5 537.2,285.0 537.7,285.3 538.2,285.1 538.7,283.9 539.2,285.7 539.7,286.1 540.2,286.1 540.7,284.1 541.2,285.5 541.7,283.5 542.2,286.9 542.7,284.5 543.2,285.5 543.7,285.3 544.2,285.1 544.7,284.6 545.2,283.7 545.7,288.2 546.2,286.3 546.7,286.4 547.2,288.7 547.7,285.9 548.2,286.8 548.7,286.2 549.2,287.7 549.7,286.8 550.2,286.6 550.7,285.9 551.2,286.6 551.7,287.8 552.2,283.7 552.7,286.2 553.2,285.9 553.7,286.0 554.2,284.0 554.7,287.4 555.2,285.5 555.7,286.3 556.2,285.9 556.7,284.5 557.2,286.1 557.7,284.4 558.2,285.5 558.7,286.3 559.2,286.7 559.7,286.8 560.2,286.6 560.7,289.5 561.2,287.4 561.7,285.4 562.2,286.1 562.7,286.1 563.2,286.7 563.7,286.2 564.2,286.0 564.7,289.1 565.2,287.1 565.7,286.7 566.2,286.8 566.7,286.9 567.2,288.9 567.7,287.8 568.2,288.6 568.7,283.4 569.2,287.7 569.7,288.6 570.2,289.8 570.7,287.4 571.2,285.3 571.7,288.2 572.2,286.7 572.7,285.3 573.2,286.8 573.7,288.8 574.2,289.1 574.7,288.5 575.2,286.4 575.7,290.7 576.2,286.3 576.7,287.6 577.2,286.0 577.7,289.4 578.2,288.3 578.7,288.9 579.2,288.0 579.7,287.8 580.2,288.1 580.7,285.6 581.2,289.2 581.7,289.1 582.2,287.5 582.7,288.0 583.2,288.4 583.7,290.0 584.2,288.7 584.7,288.2 585.2,287.6 585.7,286.4 586.2,287.5 586.7,288.4 587.2,288.0 587.7,288.4 588.2,289.2 588.7,288.9 589.2,288.7 589.7,289.2 590.2,288.7 590.7,288.4 591.2,289.1 591.7,286.5 592.2,290.1 592.7,287.0 593.2,289.6 593.7,288.6 594.2,290.0 594.7,288.7 595.2,287.6 595.7,290.0 596.2,289.0 596.7,288.9 597.2,288.9 597.7,290.0 598.2,289.8 598.7,289.2 599.2,287.1 599.7,288.5 600.2,289.1 600.7,291.1 601.2,289.5 601.7,288.9 602.2,290.5 602.7,288.9 603.2,289.1 603.7,289.3 604.2,287.4 604.7,290.3 605.2,289.7 605.7,288.9 606.2,287.9 606.7,289.5 607.2,290.9 607.7,288.6 608.2,288.1 608.7,289.9 609.2,287.5 609.7,286.8 610.2,288.9 610.7,288.6 611.2,289.2 611.7,288.9 612.2,289.9 612.7,289.3 613.2,288.9 613.7,289.1 614.2,290.3 614.7,290.7 615.2,290.7 615.7,290.5 616.2,285.8 616.7,288.5 617.2,289.4 617.7,290.0 618.2,287.9 618.7,291.5 619.2,290.2 619.7,289.1 620.2,290.1 620.7,289.5 621.2,289.0 621.7,290.5 622.2,289.4 622.7,288.3 623.2,289.2 623.7,289.9 624.2,288.8 624.7,291.5 625.2,288.8 625.7,292.1 626.2,291.1 626.7,289.0 627.2,290.3 627.7,291.5 628.2,290.0 628.7,288.8 629.2,290.3 629.7,292.5 630.2,288.5 630.7,290.9 631.2,290.3 631.7,290.2 632.2,289.9 632.7,290.0 633.2,291.6 633.7,291.1 634.2,289.3 634.7,292.2 635.2,289.0 635.7,291.2 636.2,290.7 636.7,291.9 637.2,290.9 637.7,291.7 638.2,290.5 638.7,291.7 639.2,291.0 639.7,293.1 640.2,289.8 640.7,292.0 641.2,291.2 641.7,290.9 642.2,290.1 642.7,291.2 643.2,289.1 643.7,289.2 644.2,291.6 644.7,289.0 645.2,292.5 645.7,290.5 646.2,291.1 646.7,291.0 647.2,291.4 647.7,290.6 648.2,290.5 648.7,290.8 649.2,292.2 649.7,292.3 650.2,292.4 650.7,291.4 651.2,290.8 651.7,289.2 652.2,291.8 652.7,292.0 653.2,290.7 653.7,292.0 654.2,292.6 654.7,291.3 655.2,292.4 655.7,291.5 656.2,289.3 656.7,290.7 657.2,290.8 657.7,291.9 658.2,290.3 658.7,290.8 659.2,290.2 659.7,291.3 660.2,291.4 660.7,292.4 661.2,292.3 661.7,291.6 662.2,291.7 662.7,291.5 663.2,291.6 663.7,293.2 664.2,288.7 664.7,291.3 665.2,291.9 665.7,292.8 666.2,290.3 666.7,291.9 667.2,292.5 667.7,291.1 668.2,289.5 668.7,291.2 669.2,290.3 669.7,292.4 670.2,290.7 670.7,293.6 671.2,291.8 671.7,290.8 672.2,291.2 672.7,290.5 673.2,292.2 673.7,293.4 674.2,291.5 674.7,292.8 675.2,290.8 675.7,292.1 676.2,294.4 676.7,290.3 677.2,293.2 677.7,293.2 678.2,289.8 678.7,290.3 679.2,290.8 679.7,293.0 680.2,291.5 680.7,291.8 681.2,292.7 681.7,292.1 682.2,292.2 682.7,291.6 683.2,293.2 683.7,291.2 684.2,293.9 684.7,291.7 685.2,291.2 685.7,292.8 686.2,292.6 686.7,289.9 687.2,292.3 687.7,290.6 688.2,291.2 688.7,293.0 689.2,291.2 689.7,292.5 690.2,291.7 690.7,294.3 691.2,292.1 691.7,290.9 692.2,291.0 692.7,291.2 693.2,292.4 693.7,292.2 694.2,293.3 694.7,292.4 695.2,292.4 695.7,292.6 696.2,292.1 696.7,292.6 697.2,293.1 697.7,293.1 698.2,291.7 698.7,290.4 699.2,291.4 699.7,292.6 700.2,289.6 700.7,291.8 701.2,292.8 701.7,291.7 702.2,291.2 702.7,294.3 703.2,293.9 703.7,292.1 704.2,293.8 704.7,293.8 705.2,291.2 705.7,295.3 706.2,291.4 706.7,292.2 707.2,291.3 707.7,292.5 708.2,291.0 708.7,292.5 709.2,293.7 709.7,292.7 710.2,292.2 710.7,294.2 711.2,291.6 711.7,293.6 712.2,292.2 712.7,292.8 713.2,292.6 713.7,292.7 714.2,292.5 714.7,291.7 715.2,292.0 715.7,293.1 716.2,292.5 716.7,291.4 717.2,291.9 717.7,291.9 718.2,292.6 718.7,292.8 719.2,292.7 719.7,291.9 720.2,292.7 720.7,291.2 721.2,289.6 721.7,292.6 722.2,290.9 722.7,291.7 723.2,291.4 723.7,293.4 724.2,291.4 724.7,293.0 725.2,292.2 725.7,291.4 726.2,291.0 726.7,293.2 727.2,293.1 727.7,293.6 728.2,294.7 728.7,293.0 729.2,293.1 729.7,292.6 730.2,292.9 730.7,292.4 731.2,291.8 731.7,294.9 732.2,290.8 732.7,293.0 733.2,293.3 733.7,292.9 734.2,291.8 734.7,292.6 735.2,292.3 735.7,291.6 736.2,292.7 736.7,292.4 737.2,292.2 737.7,293.5 738.2,291.7 738.7,293.3 739.2,292.1 739.7,293.2 740.2,292.9 740.7,293.0 741.2,291.7 741.7,292.0 742.2,291.9 742.7,293.0 743.2,293.6 743.7,293.9 744.2,292.2 744.7,292.8 745.2,291.0 745.7,290.4 746.2,291.8 746.7,292.0 747.2,291.0 747.7,290.8 748.2,293.2 748.7,291.8 749.2,290.8 749.7,295.1 750.2,292.7 750.7,292.2 751.2,293.2 751.7,291.6 752.2,294.1 752.7,290.7 753.2,291.0 753.7,292.2 754.2,291.5 754.7,293.8 755.2,290.5 755.7,291.4 756.2,292.4 756.7,292.7 757.2,293.2 757.7,292.4 758.2,294.4 758.7,291.4 759.2,292.1 759.7,292.8 760.2,291.5 760.7,291.5 761.2,291.3 761.7,291.0 762.2,290.4 762.7,291.0 763.2,289.9 763.7,292.0 764.2,289.8 764.7,293.8 765.2,293.3 765.7,292.6 766.2,291.1 766.7,290.7 767.2,292.7 767.7,291.5 768.2,291.8 768.7,290.4 769.2,292.3 769.7,290.2 770.2,291.2 770.7,289.1 771.2,290.3 771.7,291.5 772.2,290.5 772.7,290.4 773.2,291.8 773.7,290.8 774.2,292.2 774.7,288.1 775.2,291.4 775.7,291.3 776.2,289.0 776.7,289.3 777.2,291.7 777.7,289.5 778.2,290.0 778.7,291.3 779.2,290.3 779.7,291.2 780.2,289.7 780.7,291.0 781.2,291.9 781.7,291.0 782.2,288.2 782.7,291.4 783.2,290.7 783.7,289.6 784.2,292.2 784.7,288.7 785.2,292.8 785.7,290.0 786.2,292.5 786.7,290.7 787.2,289.2 787.7,290.8 788.2,291.1 788.7,291.4 789.2,292.0 789.7,289.8 790.2,291.4 790.7,291.7 791.2,290.6 791.7,289.9 792.2,289.9 792.7,291.8 793.2,291.9 793.7,290.1 794.2,289.6 794.7,292.5 795.2,289.4 795.7,291.4 796.2,290.3 796.7,289.3 797.2,291.4 797.7,291.1 798.2,293.0 798.7,293.9 799.2,291.2 799.7,292.6 800.2,292.7 800.7,291.0 801.2,290.6 801.7,293.4 802.2,291.3 802.7,291.7 803.2,291.4 803.7,291.6 804.2,291.2 804.7,292.7 805.2,293.3 805.7,291.5 806.2,290.5 806.7,292.1 807.2,290.4 807.7,291.4 808.2,293.5 808.7,294.7 809.2,292.6 809.7,291.1 810.2,293.1 810.7,289.9 811.2,291.6 811.7,294.0 812.2,293.2 812.7,291.0 813.2,290.7 813.7,293.4 814.2,292.5 814.7,291.9 815.2,293.0 815.7,292.0 816.2,290.6 816.7,293.5 817.2,292.0 817.7,291.6 818.2,291.3 818.7,293.0 819.2,291.9 819.7,293.4 820.2,292.5 820.7,293.9 821.2,292.4 821.7,292.1 822.2,290.7 822.7,291.7 823.2,293.6 823.7,296.1 824.2,291.6 824.7,291.8 825.2,293.3 825.7,293.4 826.2,292.2 826.7,293.1 827.2,291.3 827.7,292.7 828.2,294.0 828.7,294.8 829.2,292.9 829.7,292.8 830.2,293.6 830.7,294.3 831.2,293.6 831.7,292.3 832.2,293.5 832.7,294.2 833.2,292.4 833.7,291.8 834.2,293.7 834.7,293.6 835.2,294.2 835.7,293.3 836.2,292.6 836.7,292.8 837.2,292.2 837.7,292.3 838.2,292.7 838.7,292.8 839.2,294.5 839.7,292.1 840.2,293.3 840.7,292.8 841.2,295.0 841.7,293.7 842.2,293.0 842.7,294.3 843.2,293.5 843.7,293.0 844.2,295.1 844.7,294.2 845.2,295.3 845.7,294.7 846.2,294.4 846.7,293.7 847.2,292.4 847.7,294.3 848.2,293.7 848.7,294.3 849.2,293.6 849.7,292.9 850.2,292.6 850.7,294.4 851.2,295.0 851.7,293.4 852.2,294.2 852.7,295.1 853.2,292.9 853.7,293.4 854.2,292.6 854.7,295.0 855.2,294.0 855.7,293.3 856.2,292.1 856.7,293.6 857.2,294.9 857.7,293.5 858.2,293.4 858.7,294.5 859.2,292.6 859.7,293.9 860.2,294.5 860.7,293.1 861.2,293.1 861.7,294.2 862.2,293.8 862.7,293.7 863.2,294.2 863.7,294.2 864.2,293.0 864.7,293.3 865.2,294.5 865.7,295.2 866.2,295.4 866.7,293.2 867.2,295.2 867.7,294.8 868.2,294.0 868.7,294.6 869.2,294.9 869.7,295.9 870.2,293.0 870.7,294.7 871.2,294.0 871.7,293.9 872.2,295.3 872.7,295.0 873.2,293.1 873.7,293.9 874.2,294.4 874.7,292.7 875.2,295.1 875.7,294.1 876.2,294.4 876.7,294.5 877.2,296.0 877.7,294.2 878.2,293.9 878.7,296.0 879.2,293.7 879.7,293.7 880.2,292.8 880.7,295.3 881.2,294.5 881.7,294.7 882.2,294.4 882.7,294.1 883.2,293.5 883.7,293.5 884.2,294.7 884.7,294.4 885.2,295.9 885.7,293.5 886.2,293.8 886.7,293.3 887.2,295.7 887.7,293.1 888.2,295.1 888.7,295.8 889.2,294.2 889.7,295.1 890.2,292.2 890.7,294.0 891.2,292.7 891.7,294.5 892.2,294.4 892.7,293.6 893.2,295.3 893.7,294.7 894.2,293.8 894.7,293.8 895.2,292.9 895.7,294.2 896.2,296.5 896.7,293.6 897.2,294.8 897.7,293.8 898.2,295.2" stroke="#0000a0" stroke-width="3.0"/>
<path class="cv" d="M81.2,334.1 81.7,332.9 82.2,329.6 82.7,333.0 83.2,337.4 83.7,334.4 84.2,336.8 84.7,334.5 85.2,331.7 85.7,337.3 86.2,337.4 86.7,335.7 87.2,336.5 87.7,338.3 88.2,336.6 88.7,339.0 89.2,338.0 89.7,333.4 90.2,338.6 90.7,337.8 91.2,337.5 91.7,340.6 92.2,338.8 92.7,341.3 93.2,342.8 93.7,341.0 94.2,337.5 94.7,339.5 95.2,343.3 95.7,341.0 96.2,340.0 96.7,341.7 97.2,343.2 97.7,342.8 98.2,343.8 98.7,340.7 99.2,342.0 99.7,342.1 100.2,342.7 100.7,338.2 101.2,342.2 101.7,339.9 102.2,345.7 102.7,346.1 103.2,346.3 103.7,344.5 104.2,341.7 104.7,344.8 105.2,342.3 105.7,344.0 106.2,340.7 106.7,341.4 107.2,343.7 107.7,346.5 108.2,342.6 108.7,347.5 109.2,348.5 109.7,339.8 110.2,342.5 110.7,340.5 111.2,342.2 111.7,341.3 112.2,342.3 112.7,344.5 113.2,344.4 113.7,342.9 114.2,342.3 114.7,342.5 115.2,342.4 115.7,343.3 116.2,342.0 116.7,343.0 117.2,338.9 117.7,343.4 118.2,345.3 118.7,341.7 119.2,338.0 119.7,343.9 120.2,339.9 120.7,333.8 121.2,339.6 121.7,341.1 122.2,340.2 122.7,341.8 123.2,340.0 123.7,338.4 124.2,333.1 124.7,334.6 125.2,337.0 125.7,337.6 126.2,333.1 126.7,333.5 127.2,335.5 127.7,329.3 128.2,328.7 128.7,332.2 129.2,332.9 129.7,330.7 130.2,325.9 130.7,331.1 131.2,327.6 131.7,332.2 132.2,330.2 132.7,331.1 133.2,332.1 133.7,329.4 134.2,332.9 134.7,334.3 135.2,332.6 135.7,335.3 136.2,331.0 136.7,335.3 137.2,334.3 137.7,331.9 138.2,334.6 138.7,334.1 139.2,334.6 139.7,336.7 140.2,339.4 140.7,336.8 141.2,338.3 141.7,335.2 142.2,339.2 142.7,341.9 143.2,341.5 143.7,341.1 144.2,339.3 144.7,338.6 145.2,340.8 145.7,338.3 146.2,338.8 146.7,343.8 147.2,339.9 147.7,346.0 148.2,339.1 148.7,343.3 149.2,340.0 149.7,343.0 150.2,340.6 150.7,343.0 151.2,342.7 151.7,342.2 152.2,344.4 152.7,346.6 153.2,342.2 153.7,345.5 154.2,343.9 154.7,343.7 155.2,348.5 155.7,339.4 156.2,342.6 156.7,340.3 157.2,343.6 157.7,343.9 158.2,352.5 158.7,345.3 159.2,348.4 159.7,347.5 160.2,343.9 160.7,345.9 161.2,348.5 161.7,345.4 162.2,345.6 162.7,346.3 163.2,342.2 163.7,343.7 164.2,346.2 164.7,346.7 165.2,343.7 165.7,345.0 166.2,345.4 166.7,345.4 167.2,347.2 167.7,346.1 168.2,346.2 168.7,343.0 169.2,343.7 169.7,346.6 170.2,342.7 170.7,346.5 171.2,344.6 171.7,344.3 172.2,347.3 172.7,344.6 173.2,344.2 173.7,344.6 174.2,346.1 174.7,351.7 175.2,341.6 175.7,346.0 176.2,345.5 176.7,348.0 177.2,345.3 177.7,340.9 178.2,348.8 178.7,343.8 179.2,345.9 179.7,343.2 180.2,343.8 180.7,345.0 181.2,347.8 181.7,347.8 182.2,344.8 182.7,347.1 183.2,345.3 183.7,346.3 184.2,346.4 184.7,347.3 185.2,344.8 185.7,345.8 186.2,346.5 186.7,346.2 187.2,344.4 187.7,349.6 188.2,345.1 188.7,347.6 189.2,346.5 189.7,348.6 190.2,341.5 190.7,350.3 191.2,345.6 191.7,343.5 192.2,346.3 192.7,350.7 193.2,347.1 193.7,343.5 194.2,345.1 194.7,348.8 195.2,343.1 195.7,345.6 196.2,345.3 196.7,350.4 197.2,345.2 197.7,348.5 198.2,344.3 198.7,344.0 199.2,347.7 199.7,346.9 200.2,341.9 200.7,346.8 201.2,346.7 201.7,344.0 202.2,345.6 202.7,345.6 203.2,344.0 203.7,343.7 204.2,343.4 204.7,344.1 205.2,341.8 205.7,344.4 206.2,341.2 206.7,344.4 207.2,344.0 207.7,341.9 208.2,345.8 208.7,348.0 209.2,346.6 209.7,340.7 210.2,346.2 210.7,343.9 211.2,343.2 211.7,341.9 212.2,343.1 212.7,345.9 213.2,344.0 213.7,341.9 214.2,341.2 214.7,341.6 215.2,343.7 215.7,346.4 216.2,339.9 216.7,342.1 217.2,341.2 217.7,340.3 218.2,342.7 218.7,342.9 219.2,338.5 219.7,339.3 220.2,344.0 220.7,342.0 221.2,342.3 221.7,339.9 222.2,340.1 222.7,341.8 223.2,339.5 223.7,338.1 224.2,340.4 224.7,342.2 225.2,337.8 225.7,342.3 226.2,341.4 226.7,337.7 227.2,339.5 227.7,339.3 228.2,340.7 228.7,340.6 229.2,336.0 229.7,335.8 230.2,341.0 230.7,338.8 231.2,339.3 231.7,339.0 232.2,341.6 232.7,335.2 233.2,340.3 233.7,335.8 234.2,339.2 234.7,340.5 235.2,334.1 235.7,338.1 236.2,336.4 236.7,336.3 237.2,336.9 237.7,334.3 238.2,334.4 238.7,338.0 239.2,338.3 239.7,335.0 240.2,332.8 240.7,341.4 241.2,338.5 241.7,336.8 242.2,333.5 242.7,334.4 243.2,336.3 243.7,333.4 244.2,339.3 244.7,335.9 245.2,336.4 245.7,333.1 246.2,333.3 246.7,333.6 247.2,336.0 247.7,334.8 248.2,334.7 248.7,336.1 249.2,335.9 249.7,338.8 250.2,334.9 250.7,333.1 251.2,335.4 251.7,338.8 252.2,334.1 252.7,335.5 253.2,334.6 253.7,336.4 254.2,336.0 254.7,333.6 255.2,334.9 255.7,337.6 256.2,338.0 256.7,337.6 257.2,337.5 257.7,334.7 258.2,334.7 258.7,337.7 259.2,332.8 259.7,335.4 260.2,331.3 260.7,334.7 261.2,334.0 261.7,332.8 262.2,337.0 262.7,333.9 263.2,334.8 263.7,335.1 264.2,334.0 264.7,339.0 265.2,334.6 265.7,336.2 266.2,332.8 266.7,334.7 267.2,335.1 267.7,335.1 268.2,334.5 268.7,336.2 269.2,339.5 269.7,335.6 270.2,335.6 270.7,335.0 271.2,341.8 271.7,339.7 272.2,337.3 272.7,337.7 273.2,334.5 273.7,335.8 274.2,336.7 274.7,336.6 275.2,334.4 275.7,334.6 276.2,337.7 276.7,337.3 277.2,331.8 277.7,336.9 278.2,339.7 278.7,335.4 279.2,337.5 279.7,333.7 280.2,339.0 280.7,334.7 281.2,334.4 281.7,336.6 282.2,342.8 282.7,336.1 283.2,334.8 283.7,338.7 284.2,338.3 284.7,341.6 285.2,335.1 285.7,334.5 286.2,337.4 286.7,339.1 287.2,339.1 287.7,340.8 288.2,335.1 288.7,336.7 289.2,338.3 289.7,340.5 290.2,339.8 290.7,337.8 291.2,336.6 291.7,340.9 292.2,341.1 292.7,345.0 293.2,338.7 293.7,342.7 294.2,336.4 294.7,338.0 295.2,337.7 295.7,338.2 296.2,337.3 296.7,338.1 297.2,339.2 297.7,338.4 298.2,340.9 298.7,339.2 299.2,339.4 299.7,342.7 300.2,340.2 300.7,339.9 301.2,339.5 301.7,339.7 302.2,340.9 302.7,337.9 303.2,342.2 303.7,343.2 304.2,342.3 304.7,338.7 305.2,336.3 305.7,338.8 306.2,340.1 306.7,341.7 307.2,339.5 307.7,339.2 308.2,343.2 308.7,338.4 309.2,342.3 309.7,341.9 310.2,337.1 310.7,340.6 311.2,338.8 311.7,338.0 312.2,336.0 312.7,336.6 313.2,341.0 313.7,339.3 314.2,340.7 314.7,337.8 315.2,339.5 315.7,339.6 316.2,336.8 316.7,336.6 317.2,341.2 317.7,340.6 318.2,338.3 318.7,340.1 319.2,341.8 319.7,344.4 320.2,338.5 320.7,341.8 321.2,345.1 321.7,340.6 322.2,343.7 322.7,334.9 323.2,343.7 323.7,340.5 324.2,336.5 324.7,342.3 325.2,342.9 325.7,343.3 326.2,343.3 326.7,340.6 327.2,339.1 327.7,339.7 328.2,340.7 328.7,341.7 329.2,339.8 329.7,340.9 330.2,342.8 330.7,341.6 331.2,345.9 331.7,345.6 332.2,338.4 332.7,339.7 333.2,338.1 333.7,338.5 334.2,342.2 334.7,338.9 335.2,338.8 335.7,340.5 336.2,342.9 336.7,340.4 337.2,340.4 337.7,343.2 338.2,342.2 338.7,342.2 339.2,343.3 339.7,339.1 340.2,341.8 340.7,339.9 341.2,343.6 341.7,343.1 342.2,339.1 342.7,344.3 343.2,338.9 343.7,344.0 344.2,341.9 344.7,339.6 345.2,339.1 345.7,340.9 346.2,341.5 346.7,340.1 347.2,342.9 347.7,338.6 348.2,341.7 348.7,341.7 349.2,337.7 349.7,342.4 350.2,339.1 350.7,336.4 351.2,340.5 351.7,341.4 352.2,343.9 352.7,340.9 353.2,345.2 353.7,345.1 354.2,344.4 354.7,344.9 355.2,342.9 355.7,340.9 356.2,343.6 356.7,344.3 357.2,342.8 357.7,341.8 358.2,339.0 358.7,343.8 359.2,343.2 359.7,339.7 360.2,342.7 360.7,344.1 361.2,342.4 361.7,344.3 362.2,344.3 362.7,339.6 363.2,342.2 363.7,343.9 364.2,344.9 364.7,346.0 365.2,338.9 365.7,342.9 366.2,344.7 366.7,345.8 367.2,346.8 367.7,341.3 368.2,342.6 368.7,341.2 369.2,345.2 369.7,340.7 370.2,346.1 370.7,345.6 371.2,344.7 371.7,339.1 372.2,342.4 372.7,345.4 373.2,340.9 373.7,343.4 374.2,343.8 374.7,345.9 375.2,344.7 375.7,344.7 376.2,343.3 376.7,344.3 377.2,344.0 377.7,345.9 378.2,344.0 378.7,346.6 379.2,340.9 379.7,347.1 380.2,344.2 380.7,347.0 381.2,344.8 381.7,346.5 382.2,347.9 382.7,343.6 383.2,345.0 383.7,344.5 384.2,345.3 384.7,341.6 385.2,344.6 385.7,344.5 386.2,343.4 386.7,344.7 387.2,341.9 387.7,348.1 388.2,346.2 388.7,349.2 389.2,343.5 389.7,342.9 390.2,346.0 390.7,341.9 391.2,345.9 391.7,344.0 392.2,344.8 392.7,346.1 393.2,345.7 393.7,349.5 394.2,347.0 394.7,343.0 395.2,347.8 395.7,343.0 396.2,346.0 396.7,343.3 397.2,344.2 397.7,348.6 398.2,344.8 398.7,344.6 399.2,344.8 399.7,345.4 400.2,349.0 400.7,343.7 401.2,343.6 401.7,347.3 402.2,342.9 402.7,345.5 403.2,348.6 403.7,346.3 404.2,345.3 404.7,344.9 405.2,344.5 405.7,345.1 406.2,346.7 406.7,349.0 407.2,348.4 407.7,345.3 408.2,345.0 408.7,347.9 409.2,342.8 409.7,345.6 410.2,345.9 410.7,344.3 411.2,344.5 411.7,347.3 412.2,343.2 412.7,344.7 413.2,345.2 413.7,346.7 414.2,343.8 414.7,348.8 415.2,345.9 415.7,346.0 416.2,345.8 416.7,345.1 417.2,344.5 417.7,348.8 418.2,346.9 418.7,346.2 419.2,348.4 419.7,344.9 420.2,347.6 420.7,346.3 421.2,344.3 421.7,347.6 422.2,342.9 422.7,347.2 423.2,343.9 423.7,346.5 424.2,348.3 424.7,346.4 425.2,343.8 425.7,344.7 426.2,343.7 426.7,341.6 427.2,341.3 427.7,343.3 428.2,343.9 428.7,338.3 429.2,341.4 429.7,342.0 430.2,340.4 430.7,337.2 431.2,341.0 431.7,335.3 432.2,338.9 432.7,340.5 433.2,331.8 433.7,336.9 434.2,337.1 434.7,337.1 435.2,335.2 435.7,336.9 436.2,335.1 436.7,339.3 437.2,341.0 437.7,339.2 438.2,339.5 438.7,341.2 439.2,342.9 439.7,343.8 440.2,344.1 440.7,345.0 441.2,342.7 441.7,340.3 442.2,347.6 442.7,349.6 443.2,344.2 443.7,346.0 444.2,348.3 444.7,349.8 445.2,349.5 445.7,351.0 446.2,348.5 446.7,349.7 447.2,349.8 447.7,348.4 448.2,351.8 448.7,350.8 449.2,351.7 449.7,349.2 450.2,352.2 450.7,348.3 451.2,351.3 451.7,345.7 452.2,349.0 452.7,352.5 453.2,350.5 453.7,351.8 454.2,348.6 454.7,354.8 455.2,353.2 455.7,352.2 456.2,353.2 456.7,353.3 457.2,355.5 457.7,353.4 458.2,350.5 458.7,352.9 459.2,355.9 459.7,354.8 460.2,353.1 460.7,355.2 461.2,354.5 461.7,355.5 462.2,351.7 462.7,353.1 463.2,356.1 463.7,354.6 464.2,355.8 464.7,358.8 465.2,354.9 465.7,356.0 466.2,354.7 466.7,354.7 467.2,355.8 467.7,353.5 468.2,352.4 468.7,358.6 469.2,356.2 469.7,358.4 470.2,356.8 470.7,356.9 471.2,357.9 471.7,358.1 472.2,354.9 472.7,359.1 473.2,355.5 473.7,357.6 474.2,361.7 474.7,357.6 475.2,360.4 475.7,357.0 476.2,358.7 476.7,357.8 477.2,358.5 477.7,356.5 478.2,356.4 478.7,358.6 479.2,355.5 479.7,356.8 480.2,359.3 480.7,357.3 481.2,356.9 481.7,356.6 482.2,358.8 482.7,358.0 483.2,358.9 483.7,358.4 484.2,361.8 484.7,358.1 485.2,355.6 485.7,359.1 486.2,358.9 486.7,359.3 487.2,356.4 487.7,361.0 488.2,359.1 488.7,359.1 489.2,356.6 489.7,360.1 490.2,359.2 490.7,361.6 491.2,358.7 491.7,357.4 492.2,359.7 492.7,358.0 493.2,360.3 493.7,357.8 494.2,359.5 494.7,359.3 495.2,359.7 495.7,358.9 496.2,358.5 496.7,359.8 497.2,359.0 497.7,360.2 498.2,359.6 498.7,356.4 499.2,360.0 499.7,362.4 500.2,360.7 500.7,361.2 501.2,361.0 501.7,359.5 502.2,358.2 502.7,361.7 503.2,362.1 503.7,361.4 504.2,361.2 504.7,361.2 505.2,360.5 505.7,361.1 506.2,360.7 506.7,361.2 507.2,359.2 507.7,359.8 508.2,361.7 508.7,360.3 509.2,357.1 509.7,361.2 510.2,357.4 510.7,364.1 511.2,362.2 511.7,362.2 512.2,360.1 512.7,359.4 513.2,360.9 513.7,361.3 514.2,360.1 514.7,361.6 515.2,362.5 515.7,362.4 516.2,359.9 516.7,358.2 517.2,361.6 517.7,360.6 518.2,362.4 518.7,364.3 519.2,364.3 519.7,362.2 520.2,363.5 520.7,364.4 521.2,362.0 521.7,362.4 522.2,363.3 522.7,362.0 523.2,361.3 523.7,361.0 524.2,362.2 524.7,361.2 525.2,363.5 525.7,361.8 526.2,364.6 526.7,364.2 527.2,360.5 527.7,364.1 528.2,361.9 528.7,364.6 529.2,363.3 529.7,362.5 530.2,363.7 530.7,361.8 531.2,363.2 531.7,363.3 532.2,362.6 532.7,363.4 533.2,361.4 533.7,363.7 534.2,361.1 534.7,363.9 535.2,363.7 535.7,364.1 536.2,362.3 536.7,367.7 537.2,362.8 537.7,363.4 538.2,362.1 538.7,365.4 539.2,362.6 539.7,364.9 540.2,362.0 540.7,363.9 541.2,362.9 541.7,364.9 542.2,363.1 542.7,362.3 543.2,364.3 543.7,361.9 544.2,362.3 544.7,364.9 545.2,361.0 545.7,364.9 546.2,363.3 546.7,362.6 547.2,364.3 547.7,364.9 548.2,363.2 548.7,363.8 549.2,365.3 549.7,365.2 550.2,364.1 550.7,363.1 551.2,362.9 551.7,363.4 552.2,365.3 552.7,365.2 553.2,364.8 553.7,366.4 554.2,364.0 554.7,363.9 555.2,364.0 555.7,367.3 556.2,361.6 556.7,365.1 557.2,365.3 557.7,364.8 558.2,368.1 558.7,366.5 559.2,365.9 559.7,363.6 560.2,365.6 560.7,364.4 561.2,365.0 561.7,365.3 562.2,364.3 562.7,366.0 563.2,367.4 563.7,366.6 564.2,365.5 564.7,362.5 565.2,366.8 565.7,366.8 566.2,365.0 566.7,364.7 567.2,366.3 567.7,364.3 568.2,366.6 568.7,364.0 569.2,364.2 569.7,365.6 570.2,363.5 570.7,365.6 571.2,366.4 571.7,363.8 572.2,367.0 572.7,365.0 573.2,366.5 573.7,366.1 574.2,365.2 574.7,365.2 575.2,363.6 575.7,365.0 576.2,364.9 576.7,368.3 577.2,367.5 577.7,364.2 578.2,367.2 578.7,366.5 579.2,365.7 579.7,366.9 580.2,367.3 580.7,365.5 581.2,366.0 581.7,366.6 582.2,365.1 582.7,366.7 583.2,366.4 583.7,365.6 584.2,365.4 584.7,367.0 585.2,367.8 585.7,367.1 586.2,365.5 586.7,367.7 587.2,367.0 587.7,367.6 588.2,368.4 588.7,365.6 589.2,366.7 589.7,366.1 590.2,365.7 590.7,369.6 591.2,368.2 591.7,364.7 592.2,367.6 592.7,366.3 593.2,368.6 593.7,367.3 594.2,366.9 594.7,367.4 595.2,367.7 595.7,367.3 596.2,367.0 596.7,367.1 597.2,368.0 597.7,365.9 598.2,367.4 598.7,367.3 599.2,366.8 599.7,368.5 600.2,365.8 600.7,367.1 601.2,366.5 601.7,368.3 602.2,367.0 602.7,367.8 603.2,368.2 603.7,365.7 604.2,368.4 604.7,366.8 605.2,367.5 605.7,367.7 606.2,368.9 606.7,368.9 607.2,370.2 607.7,368.2 608.2,367.4 608.7,367.4 609.2,368.9 609.7,370.2 610.2,368.5 610.7,367.4 611.2,368.5 611.7,368.5 612.2,368.3 612.7,367.3 613.2,365.0 613.7,367.6 614.2,369.7 614.7,368.6 615.2,365.5 615.7,368.4 616.2,366.0 616.7,371.0 617.2,368.7 617.7,366.9 618.2,369.5 618.7,367.5 619.2,369.3 619.7,368.6 620.2,367.1 620.7,369.5 621.2,366.9 621.7,370.4 622.2,368.8 622.7,367.4 623.2,366.4 623.7,370.8 624.2,370.6 624.7,367.2 625.2,370.9 625.7,369.0 626.2,368.6 626.7,368.8 627.2,368.5 627.7,370.7 628.2,369.1 628.7,366.6 629.2,371.6 629.7,370.1 630.2,367.6 630.7,368.6 631.2,367.9 631.7,369.1 632.2,369.6 632.7,369.4 633.2,368.4 633.7,368.1 634.2,370.2 634.7,369.1 635.2,372.0 635.7,368.2 636.2,370.2 636.7,369.3 637.2,368.3 637.7,371.0 638.2,369.5 638.7,368.2 639.2,369.0 639.7,370.7 640.2,367.9 640.7,371.1 641.2,370.3 641.7,369.1 642.2,371.2 642.7,371.7 643.2,370.3 643.7,369.8 644.2,371.9 644.7,371.4 645.2,368.5 645.7,369.4 646.2,369.4 646.7,369.2 647.2,367.8 647.7,370.8 648.2,369.8 648.7,369.9 649.2,371.5 649.7,369.1 650.2,369.7 650.7,370.2 651.2,369.3 651.7,369.7 652.2,370.8 652.7,369.9 653.2,371.6 653.7,369.0 654.2,370.2 654.7,368.2 655.2,369.9 655.7,369.2 656.2,371.7 656.7,371.0 657.2,370.7 657.7,372.4 658.2,371.9 658.7,371.0 659.2,369.3 659.7,368.4 660.2,370.1 660.7,369.8 661.2,369.4 661.7,369.9 662.2,368.2 662.7,372.1 663.2,368.9 663.7,369.5 664.2,371.0 664.7,368.4 665.2,371.5 665.7,371.5 666.2,370.0 666.7,369.1 667.2,369.9 667.7,368.2 668.2,372.2 668.7,370.5 669.2,369.6 669.7,369.4 670.2,371.2 670.7,372.4 671.2,369.0 671.7,369.9 672.2,368.5 672.7,371.4 673.2,370.8 673.7,373.4 674.2,370.5 674.7,370.1 675.2,369.8 675.7,371.7 676.2,368.7 676.7,371.6 677.2,371.0 677.7,370.1 678.2,369.7 678.7,372.1 679.2,373.1 679.7,370.3 680.2,371.5 680.7,372.9 681.2,370.1 681.7,370.6 682.2,369.4 682.7,370.7 683.2,370.8 683.7,370.4 684.2,370.0 684.7,369.0 685.2,369.3 685.7,369.8 686.2,371.8 686.7,370.4 687.2,370.0 687.7,371.8 688.2,371.7 688.7,370.1 689.2,370.3 689.7,371.8 690.2,371.5 690.7,370.1 691.2,371.4 691.7,371.1 692.2,372.4 692.7,370.1 693.2,372.2 693.7,371.6 694.2,369.9 694.7,372.4 695.2,372.2 695.7,369.6 696.2,373.6 696.7,369.8 697.2,370.1 697.7,370.8 698.2,372.1 698.7,371.9 699.2,371.1 699.7,372.9 700.2,371.7 700.7,372.9 701.2,374.6 701.7,371.5 702.2,368.1 702.7,370.7 703.2,370.0 703.7,371.4 704.2,371.4 704.7,369.8 705.2,369.9 705.7,371.0 706.2,371.0 706.7,368.1 707.2,372.5 707.7,371.3 708.2,371.3 708.7,371.7 709.2,370.1 709.7,371.2 710.2,372.6 710.7,372.6 711.2,371.9 711.7,371.0 712.2,370.3 712.7,372.9 713.2,371.9 713.7,370.8 714.2,368.6 714.7,370.2 715.2,368.9 715.7,372.8 716.2,371.5 716.7,370.4 717.2,370.9 717.7,374.5 718.2,372.8 718.7,369.6 719.2,371.1 719.7,369.8 720.2,369.1 720.7,371.5 721.2,374.2 721.7,373.2 722.2,371.3 722.7,370.8 723.2,371.5 723.7,372.5 724.2,369.4 724.7,368.9 725.2,373.5 725.7,371.6 726.2,373.2 726.7,371.5 727.2,373.0 727.7,370.4 728.2,371.8 728.7,373.1 729.2,372.4 729.7,370.6 730.2,372.3 730.7,370.3 731.2,369.4 731.7,371.8 732.2,372.9 732.7,372.2 733.2,369.5 733.7,372.2 734.2,371.9 734.7,370.5 735.2,368.0 735.7,372.3 736.2,372.2 736.7,371.7 737.2,368.9 737.7,369.2 738.2,372.3 738.7,372.0 739.2,371.6 739.7,370.7 740.2,371.5 740.7,370.3 741.2,370.6 741.7,369.9 742.2,371.3 742.7,370.4 743.2,372.1 743.7,371.8 744.2,369.9 744.7,373.2 745.2,369.5 745.7,371.4 746.2,372.2 746.7,372.5 747.2,368.0 747.7,372.1 748.2,372.4 748.7,372.6 749.2,368.0 749.7,369.9 750.2,370.7 750.7,370.2 751.2,372.5 751.7,369.9 752.2,372.3 752.7,371.5 753.2,368.9 753.7,369.5 754.2,370.1 754.7,370.8 755.2,372.0 755.7,370.4 756.2,371.8 756.7,368.6 757.2,366.7 757.7,370.2 758.2,371.2 758.7,370.2 759.2,369.3 759.7,371.2 760.2,373.1 760.7,370.5 761.2,369.7 761.7,369.5 762.2,373.1 762.7,370.5 763.2,371.3 763.7,372.1 764.2,371.9 764.7,369.3 765.2,371.8 765.7,371.6 766.2,371.1 766.7,371.8 767.2,369.8 767.7,370.4 768.2,369.8 768.7,371.5 769.2,369.6 769.7,371.0 770.2,369.1 770.7,370.3 771.2,370.0 771.7,370.3 772.2,370.6 772.7,370.2 773.2,370.2 773.7,367.8 774.2,371.9 774.7,369.6 775.2,370.1 775.7,369.3 776.2,371.7 776.7,369.2 777.2,371.1 777.7,371.9 778.2,372.5 778.7,371.9 779.2,371.2 779.7,368.9 780.2,372.1 780.7,371.9 781.2,371.5 781.7,371.4 782.2,370.5 782.7,369.7 783.2,371.8 783.7,372.1 784.2,369.1 784.7,371.6 785.2,370.8 785.7,371.6 786.2,370.8 786.7,371.9 787.2,371.8 787.7,371.6 788.2,368.7 788.7,371.6 789.2,370.6 789.7,369.1 790.2,371.5 790.7,368.9 791.2,371.8 791.7,372.8 792.2,370.0 792.7,371.9 793.2,371.3 793.7,371.6 794.2,369.1 794.7,371.6 795.2,371.0 795.7,371.8 796.2,370.9 796.7,372.3 797.2,371.3 797.7,371.9 798.2,372.8 798.7,371.3 799.2,372.3 799.7,371.4 800.2,371.8 800.7,370.6 801.2,372.2 801.7,372.8 802.2,371.2 802.7,372.4 803.2,371.9 803.7,370.1 804.2,371.9 804.7,373.2 805.2,371.0 805.7,369.4 806.2,371.9 806.7,370.9 807.2,374.1 807.7,371.7 808.2,371.8 808.7,371.1 809.2,372.2 809.7,371.2 810.2,370.9 810.7,372.0 811.2,371.1 811.7,373.8 812.2,370.7 812.7,372.1 813.2,371.4 813.7,370.6 814.2,374.4 814.7,369.8 815.2,374.2 815.7,370.7 816.2,372.6 816.7,375.3 817.2,370.0 817.7,370.9 818.2,374.3 818.7,372.9 819.2,372.1 819.7,372.8 820.2,371.6 820.7,373.0 821.2,374.8 821.7,372.5 822.2,373.2 822.7,374.5 823.2,375.5 823.7,372.4 824.2,373.5 824.7,372.5 825.2,372.4 825.7,372.8 826.2,372.5 826.7,371.2 827.2,370.9 827.7,372.5 828.2,373.6 828.7,375.0 829.2,372.8 829.7,373.3 830.2,374.4 830.7,374.5 831.2,373.5 831.7,373.6 832.2,376.0 832.7,373.3 833.2,373.1 833.7,371.7 834.2,374.3 834.7,373.4 835.2,376.2 835.7,373.4 836.2,374.8 836.7,375.0 837.2,375.9 837.7,372.3 838.2,375.9 838.7,374.0 839.2,373.8 839.7,373.6 840.2,373.5 840.7,373.6 841.2,371.2 841.7,374.7 842.2,374.2 842.7,373.0 843.2,374.1 843.7,377.0 844.2,374.7 844.7,373.7 845.2,376.3 845.7,373.3 846.2,374.1 846.7,373.6 847.2,374.0 847.7,375.2 848.2,375.1 848.7,373.5 849.2,374.2 849.7,374.5 850.2,373.9 850.7,374.4 851.2,373.6 851.7,373.6 852.2,374.6 852.7,373.3 853.2,375.1 853.7,374.3 854.2,373.5 854.7,373.9 855.2,374.0 855.7,374.5 856.2,374.8 856.7,374.4 857.2,373.6 857.7,376.5 858.2,375.9 858.7,374.9 859.2,376.0 859.7,375.2 860.2,374.5 860.7,375.0 861.2,378.1 861.7,376.1 862.2,376.2 862.7,374.4 863.2,375.7 863.7,377.7 864.2,375.5 864.7,376.3 865.2,376.6 865.7,375.8 866.2,377.0 866.7,375.3 867.2,375.7 867.7,374.3 868.2,378.3 868.7,375.5 869.2,375.3 869.7,376.9 870.2,374.6 870.7,375.2 871.2,374.3 871.7,375.3 872.2,374.8 872.7,375.9 873.2,375.1 873.7,374.6 874.2,375.0 874.7,375.2 875.2,374.7 875.7,376.5 876.2,376.2 876.7,375.6 877.2,374.0 877.7,376.1 878.2,373.9 878.7,375.7 879.2,375.5 879.7,374.8 880.2,374.5 880.7,374.7 881.2,378.0 881.7,375.2 882.2,375.3 882.7,376.7 883.2,376.1 883.7,376.9 884.2,374.1 884.7,374.3 885.2,379.7 885.7,375.6 886.2,375.3 886.7,375.9 887.2,376.9 887.7,374.2 888.2,376.1 888.7,375.7 889.2,376.5 889.7,376.0 890.2,375.1 890.7,374.7 891.2,372.8 891.7,377.0 892.2,374.0 892.7,375.3 893.2,377.8 893.7,375.3 894.2,376.6 894.7,375.6 895.2,376.7 895.7,375.9 896.2,375.3 896.7,377.5 897.2,375.6 897.7,374.3 898.2,375.5" stroke="#ff0000" stroke-width="3.2"/>
<path class="cv" d="M81.2,407.2 81.7,404.7 82.2,408.6 82.7,409.0 83.2,411.9 83.7,407.3 84.2,410.1 84.7,406.4 85.2,409.1 85.7,410.4 86.2,411.4 86.7,411.0 87.2,411.4 87.7,410.9 88.2,411.5 88.7,413.2 89.2,414.1 89.7,414.6 90.2,415.5 90.7,416.2 91.2,411.5 91.7,414.0 92.2,414.9 92.7,414.4 93.2,417.5 93.7,417.3 94.2,416.2 94.7,416.8 95.2,418.9 95.7,416.5 96.2,416.8 96.7,419.0 97.2,418.5 97.7,420.3 98.2,418.8 98.7,419.7 99.2,417.8 99.7,417.4 100.2,419.1 100.7,415.0 101.2,420.2 101.7,421.3 102.2,420.0 102.7,419.8 103.2,422.0 103.7,420.4 104.2,422.2 104.7,424.3 105.2,422.2 105.7,422.7 106.2,422.2 106.7,422.0 107.2,422.2 107.7,422.0 108.2,423.8 108.7,419.8 109.2,422.0 109.7,423.6 110.2,421.4 110.7,422.7 111.2,422.0 111.7,423.8 112.2,424.6 112.7,425.7 113.2,424.3 113.7,422.6 114.2,424.2 114.7,424.8 115.2,426.2 115.7,421.0 116.2,424.9 116.7,421.7 117.2,425.6 117.7,425.3 118.2,425.5 118.7,426.1 119.2,425.5 119.7,424.0 120.2,425.6 120.7,426.9 121.2,425.1 121.7,425.4 122.2,423.6 122.7,427.2 123.2,424.8 123.7,424.5 124.2,425.0 124.7,424.5 125.2,425.5 125.7,427.8 126.2,427.1 126.7,428.1 127.2,428.3 127.7,424.9 128.2,426.9 128.7,428.5 129.2,429.7 129.7,424.4 130.2,424.4 130.7,427.2 131.2,426.1 131.7,425.2 132.2,427.3 132.7,425.6 133.2,423.5 133.7,426.8 134.2,427.1 134.7,427.9 135.2,428.4 135.7,427.3 136.2,426.8 136.7,426.2 137.2,424.9 137.7,426.6 138.2,428.8 138.7,428.3 139.2,430.4 139.7,427.2 140.2,424.9 140.7,428.7 141.2,429.1 141.7,425.9 142.2,425.4 142.7,427.9 143.2,428.8 143.7,426.2 144.2,427.3 144.7,426.8 145.2,426.2 145.7,426.1 146.2,428.2 146.7,427.5 147.2,427.1 147.7,424.4 148.2,430.6 148.7,426.8 149.2,428.0 149.7,426.6 150.2,428.8 150.7,426.2 151.2,428.5 151.7,428.1 152.2,429.7 152.7,426.9 153.2,427.6 153.7,428.2 154.2,431.5 154.7,426.5 155.2,429.0 155.7,427.7 156.2,429.1 156.7,429.7 157.2,429.0 157.7,429.2 158.2,429.2 158.7,428.0 159.2,428.6 159.7,426.6 160.2,428.5 160.7,427.9 161.2,428.7 161.7,430.1 162.2,429.6 162.7,429.8 163.2,430.7 163.7,425.8 164.2,429.8 164.7,429.2 165.2,429.1 165.7,427.4 166.2,430.1 166.7,430.9 167.2,430.8 167.7,429.2 168.2,430.3 168.7,430.7 169.2,432.0 169.7,431.1 170.2,429.6 170.7,429.6 171.2,429.7 171.7,429.8 172.2,428.8 172.7,430.6 173.2,428.5 173.7,428.4 174.2,430.0 174.7,428.7 175.2,429.2 175.7,426.6 176.2,430.6 176.7,429.5 177.2,429.3 177.7,430.1 178.2,429.8 178.7,428.5 179.2,432.2 179.7,428.8 180.2,430.8 180.7,431.9 181.2,428.5 181.7,429.5 182.2,428.2 182.7,430.8 183.2,428.8 183.7,427.7 184.2,431.1 184.7,430.5 185.2,427.9 185.7,430.8 186.2,429.4 186.7,432.9 187.2,431.4 187.7,428.2 188.2,428.5 188.7,427.7 189.2,429.0 189.7,428.9 190.2,429.8 190.7,428.8 191.2,426.6 191.7,427.5 192.2,430.6 192.7,430.2 193.2,428.2 193.7,428.2 194.2,428.1 194.7,428.4 195.2,425.9 195.7,429.5 196.2,427.2 196.7,428.3 197.2,424.4 197.7,428.3 198.2,429.8 198.7,424.7 199.2,430.0 199.7,428.4 200.2,426.7 200.7,425.4 201.2,429.3 201.7,427.9 202.2,428.3 202.7,427.0 203.2,426.2 203.7,428.5 204.2,425.8 204.7,428.4 205.2,424.6 205.7,425.6 206.2,424.7 206.7,428.6 207.2,424.1 207.7,424.9 208.2,427.4 208.7,426.6 209.2,429.4 209.7,428.8 210.2,426.9 210.7,426.8 211.2,423.0 211.7,424.2 212.2,424.9 212.7,425.0 213.2,423.1 213.7,423.6 214.2,423.6 214.7,426.3 215.2,425.2 215.7,423.9 216.2,423.8 216.7,424.5 217.2,422.8 217.7,423.3 218.2,421.0 218.7,424.4 219.2,424.7 219.7,423.6 220.2,423.6 220.7,423.3 221.2,425.7 221.7,422.7 222.2,420.2 222.7,420.4 223.2,423.0 223.7,423.3 224.2,422.7 224.7,422.6 225.2,421.4 225.7,418.6 226.2,419.7 226.7,417.7 227.2,419.8 227.7,418.1 228.2,420.2 228.7,419.6 229.2,416.5 229.7,420.6 230.2,420.4 230.7,416.7 231.2,419.0 231.7,419.7 232.2,417.8 232.7,419.4 233.2,418.1 233.7,419.3 234.2,417.6 234.7,416.8 235.2,417.6 235.7,417.8 236.2,416.7 236.7,415.3 237.2,414.4 237.7,414.9 238.2,414.3 238.7,415.3 239.2,415.0 239.7,414.3 240.2,414.2 240.7,414.3 241.2,416.4 241.7,415.5 242.2,412.2 242.7,413.7 243.2,412.2 243.7,412.4 244.2,411.9 244.7,411.0 245.2,409.5 245.7,407.3 246.2,411.8 246.7,413.3 247.2,409.3 247.7,411.6 248.2,409.7 248.7,410.7 249.2,408.5 249.7,409.3 250.2,409.3 250.7,405.0 251.2,409.6 251.7,408.8 252.2,404.5 252.7,410.1 253.2,408.9 253.7,409.4 254.2,409.7 254.7,408.4 255.2,407.4 255.7,408.7 256.2,408.8 256.7,413.8 257.2,413.3 257.7,409.3 258.2,409.7 258.7,411.2 259.2,411.8 259.7,409.8 260.2,409.5 260.7,414.9 261.2,413.5 261.7,409.1 262.2,408.9 262.7,410.7 263.2,412.8 263.7,413.5 264.2,412.1 264.7,410.1 265.2,413.5 265.7,414.4 266.2,413.5 266.7,412.8 267.2,414.9 267.7,414.0 268.2,412.4 268.7,414.7 269.2,412.5 269.7,416.5 270.2,415.9 270.7,413.6 271.2,415.8 271.7,417.8 272.2,412.2 272.7,415.8 273.2,419.0 273.7,413.8 274.2,416.3 274.7,414.4 275.2,416.9 275.7,413.1 276.2,414.6 276.7,416.6 277.2,417.9 277.7,418.4 278.2,418.6 278.7,420.0 279.2,419.4 279.7,419.6 280.2,416.8 280.7,418.3 281.2,424.0 281.7,422.6 282.2,420.3 282.7,420.3 283.2,420.8 283.7,418.7 284.2,422.7 284.7,419.0 285.2,419.6 285.7,423.4 286.2,416.5 286.7,420.6 287.2,417.3 287.7,419.2 288.2,420.2 288.7,419.9 289.2,420.9 289.7,419.4 290.2,420.6 290.7,419.0 291.2,420.4 291.7,418.9 292.2,422.3 292.7,419.2 293.2,422.5 293.7,420.8 294.2,421.1 294.7,423.6 295.2,422.0 295.7,418.8 296.2,422.8 296.7,417.4 297.2,422.6 297.7,421.6 298.2,420.1 298.7,422.6 299.2,422.0 299.7,425.8 300.2,422.0 300.7,425.9 301.2,425.1 301.7,422.0 302.2,421.8 302.7,425.2 303.2,423.0 303.7,423.6 304.2,423.0 304.7,421.6 305.2,423.0 305.7,422.2 306.2,421.4 306.7,423.4 307.2,426.7 307.7,426.6 308.2,424.0 308.7,424.4 309.2,425.1 309.7,426.5 310.2,425.0 310.7,423.8 311.2,424.0 311.7,426.5 312.2,428.9 312.7,423.9 313.2,421.8 313.7,426.4 314.2,425.1 314.7,425.5 315.2,427.3 315.7,425.6 316.2,423.5 316.7,422.6 317.2,425.7 317.7,424.1 318.2,426.4 318.7,424.1 319.2,425.6 319.7,424.0 320.2,425.8 320.7,425.7 321.2,427.4 321.7,428.6 322.2,426.4 322.7,425.5 323.2,429.8 323.7,427.5 324.2,428.0 324.7,428.0 325.2,429.4 325.7,428.8 326.2,428.4 326.7,428.6 327.2,426.2 327.7,426.7 328.2,427.5 328.7,427.9 329.2,427.9 329.7,428.4 330.2,428.0 330.7,427.4 331.2,425.7 331.7,429.4 332.2,429.1 332.7,427.0 333.2,429.1 333.7,429.0 334.2,428.6 334.7,425.8 335.2,426.8 335.7,427.8 336.2,431.1 336.7,427.5 337.2,428.3 337.7,427.2 338.2,428.1 338.7,429.4 339.2,425.9 339.7,424.8 340.2,429.9 340.7,429.0 341.2,428.1 341.7,430.5 342.2,430.5 342.7,426.0 343.2,428.8 343.7,430.7 344.2,428.1 344.7,428.7 345.2,430.5 345.7,428.8 346.2,427.4 346.7,428.2 347.2,427.3 347.7,430.0 348.2,426.7 348.7,430.7 349.2,426.8 349.7,429.3 350.2,427.1 350.7,428.8 351.2,430.8 351.7,431.0 352.2,431.2 352.7,429.2 353.2,429.5 353.7,429.7 354.2,430.3 354.7,428.9 355.2,431.1 355.7,430.0 356.2,431.2 356.7,430.3 357.2,430.6 357.7,428.6 358.2,429.2 358.7,428.0 359.2,429.5 359.7,429.7 360.2,431.3 360.7,428.3 361.2,434.9 361.7,430.2 362.2,432.3 362.7,432.0 363.2,427.0 363.7,430.4 364.2,433.0 364.7,427.5 365.2,432.2 365.7,429.9 366.2,430.7 366.7,431.8 367.2,428.9 367.7,432.0 368.2,430.9 368.7,430.9 369.2,433.0 369.7,437.1 370.2,432.8 370.7,433.2 371.2,432.4 371.7,431.6 372.2,433.1 372.7,434.9 373.2,433.2 373.7,434.3 374.2,432.9 374.7,436.7 375.2,431.1 375.7,434.3 376.2,434.3 376.7,434.0 377.2,432.2 377.7,432.2 378.2,433.5 378.7,434.1 379.2,432.3 379.7,432.6 380.2,434.8 380.7,435.5 381.2,433.4 381.7,433.3 382.2,433.3 382.7,437.6 383.2,435.0 383.7,434.3 384.2,435.8 384.7,437.6 385.2,436.1 385.7,432.7 386.2,434.5 386.7,434.1 387.2,434.3 387.7,433.1 388.2,434.3 388.7,433.4 389.2,435.3 389.7,435.0 390.2,433.1 390.7,432.7 391.2,434.4 391.7,435.9 392.2,435.8 392.7,435.1 393.2,430.8 393.7,434.6 394.2,434.3 394.7,434.9 395.2,433.7 395.7,434.8 396.2,434.5 396.7,439.0 397.2,436.4 397.7,435.2 398.2,435.5 398.7,435.4 399.2,435.8 399.7,435.1 400.2,435.6 400.7,437.0 401.2,436.8 401.7,436.1 402.2,437.5 402.7,436.1 403.2,434.5 403.7,433.5 404.2,434.9 404.7,435.8 405.2,436.4 405.7,437.3 406.2,435.1 406.7,434.8 407.2,436.9 407.7,437.5 408.2,435.3 408.7,436.4 409.2,437.7 409.7,436.4 410.2,435.9 410.7,433.2 411.2,437.7 411.7,436.8 412.2,436.1 412.7,435.3 413.2,434.3 413.7,435.8 414.2,435.7 414.7,437.3 415.2,434.2 415.7,437.7 416.2,435.8 416.7,437.3 417.2,434.4 417.7,436.1 418.2,437.2 418.7,435.7 419.2,433.6 419.7,435.0 420.2,436.1 420.7,433.5 421.2,433.4 421.7,435.6 422.2,434.0 422.7,436.1 423.2,433.6 423.7,432.6 424.2,434.0 424.7,437.0 425.2,433.8 425.7,434.9 426.2,435.1 426.7,433.4 427.2,436.1 427.7,434.8 428.2,435.0 428.7,432.1 429.2,431.8 429.7,430.4 430.2,433.7 430.7,433.5 431.2,434.7 431.7,435.6 432.2,433.1 432.7,433.0 433.2,433.9 433.7,435.3 434.2,431.9 434.7,433.8 435.2,432.5 435.7,432.3 436.2,433.8 436.7,431.6 437.2,431.1 437.7,433.5 438.2,432.5 438.7,432.2 439.2,432.4 439.7,433.3 440.2,432.1 440.7,433.7 441.2,433.3 441.7,434.8 442.2,434.6 442.7,434.1 443.2,432.7 443.7,433.2 444.2,432.3 444.7,437.2 445.2,433.1 445.7,434.2 446.2,435.4 446.7,431.9 447.2,432.7 447.7,433.4 448.2,432.7 448.7,432.5 449.2,433.6 449.7,436.2 450.2,435.5 450.7,434.7 451.2,434.8 451.7,432.7 452.2,435.9 452.7,435.6 453.2,433.7 453.7,435.5 454.2,435.1 454.7,434.7 455.2,434.2 455.7,434.7 456.2,434.4 456.7,436.3 457.2,436.2 457.7,436.2 458.2,435.6 458.7,435.4 459.2,438.6 459.7,433.6 460.2,437.6 460.7,436.6 461.2,436.3 461.7,435.6 462.2,436.0 462.7,434.8 463.2,434.6 463.7,436.3 464.2,434.4 464.7,437.6 465.2,438.0 465.7,432.2 466.2,434.7 466.7,437.1 467.2,437.0 467.7,437.0 468.2,437.4 468.7,437.9 469.2,438.0 469.7,439.3 470.2,437.1 470.7,438.2 471.2,435.0 471.7,437.0 472.2,435.6 472.7,439.0 473.2,440.2 473.7,438.0 474.2,435.7 474.7,437.2 475.2,437.4 475.7,437.7 476.2,438.9 476.7,438.7 477.2,434.2 477.7,439.3 478.2,437.0 478.7,437.0 479.2,439.5 479.7,437.4 480.2,436.0 480.7,436.1 481.2,437.9 481.7,439.0 482.2,439.8 482.7,437.7 483.2,437.4 483.7,440.0 484.2,437.5 484.7,439.9 485.2,438.4 485.7,438.4 486.2,437.9 486.7,438.5 487.2,437.6 487.7,437.4 488.2,438.1 488.7,437.5 489.2,438.7 489.7,438.5 490.2,438.1 490.7,438.2 491.2,438.2 491.7,440.6 492.2,438.5 492.7,437.8 493.2,438.2 493.7,439.4 494.2,438.3 494.7,438.4 495.2,438.3 495.7,438.9 496.2,439.2 496.7,439.3 497.2,436.7 497.7,437.4 498.2,435.6 498.7,439.8 499.2,440.2 499.7,440.4 500.2,439.0 500.7,440.3 501.2,438.9 501.7,438.8 502.2,437.1 502.7,438.0 503.2,438.3 503.7,440.1 504.2,441.0 504.7,438.5 505.2,439.5 505.7,439.4 506.2,438.1 506.7,437.0 507.2,438.2 507.7,437.4 508.2,438.8 508.7,439.0 509.2,439.0 509.7,439.0 510.2,439.8 510.7,438.1 511.2,440.3 511.7,437.2 512.2,439.3 512.7,439.8 513.2,438.3 513.7,437.4 514.2,440.1 514.7,438.5 515.2,440.3 515.7,440.3 516.2,439.4 516.7,439.4 517.2,440.6 517.7,439.9 518.2,438.3 518.7,439.7 519.2,440.1 519.7,439.7 520.2,439.7 520.7,439.3 521.2,439.4 521.7,438.4 522.2,437.8 522.7,440.9 523.2,438.8 523.7,439.8 524.2,437.8 524.7,439.8 525.2,438.6 525.7,443.2 526.2,438.4 526.7,438.5 527.2,440.8 527.7,441.0 528.2,437.2 528.7,440.0 529.2,440.8 529.7,438.3 530.2,440.5 530.7,439.1 531.2,438.6 531.7,439.3 532.2,439.2 532.7,438.1 533.2,442.5 533.7,439.3 534.2,438.9 534.7,440.8 535.2,439.8 535.7,441.4 536.2,439.5 536.7,440.3 537.2,440.0 537.7,440.1 538.2,439.7 538.7,439.8 539.2,441.9 539.7,439.1 540.2,439.3 540.7,439.5 541.2,440.6 541.7,440.5 542.2,441.1 542.7,438.4 543.2,440.3 543.7,439.8 544.2,439.7 544.7,440.2 545.2,437.7 545.7,440.4 546.2,440.2 546.7,438.4 547.2,440.0 547.7,441.9 548.2,439.7 548.7,440.8 549.2,439.9 549.7,439.2 550.2,439.1 550.7,439.7 551.2,441.7 551.7,441.1 552.2,439.4 552.7,441.4 553.2,440.1 553.7,439.4 554.2,440.7 554.7,439.2 555.2,438.4 555.7,441.8 556.2,438.1 556.7,440.9 557.2,438.5 557.7,440.3 558.2,440.1 558.7,439.8 559.2,437.8 559.7,440.2 560.2,440.3 560.7,439.3 561.2,440.3 561.7,441.6 562.2,439.6 562.7,440.7 563.2,439.1 563.7,440.9 564.2,441.2 564.7,443.4 565.2,441.6 565.7,441.0 566.2,442.2 566.7,439.4 567.2,441.8 567.7,439.9 568.2,439.9 568.7,441.9 569.2,440.9 569.7,442.1 570.2,438.9 570.7,441.0 571.2,440.0 571.7,440.3 572.2,438.5 572.7,441.8 573.2,440.9 573.7,439.6 574.2,439.2 574.7,439.7 575.2,442.4 575.7,440.6 576.2,440.4 576.7,441.4 577.2,440.8 577.7,441.1 578.2,441.7 578.7,441.2 579.2,441.9 579.7,439.5 580.2,440.9 580.7,440.5 581.2,441.0 581.7,440.9 582.2,440.2 582.7,440.5 583.2,442.0 583.7,440.3 584.2,439.6 584.7,441.7 585.2,442.1 585.7,440.7 586.2,441.2 586.7,440.1 587.2,440.8 587.7,442.3 588.2,442.0 588.7,441.3 589.2,440.8 589.7,439.3 590.2,441.5 590.7,441.7 591.2,442.4 591.7,443.5 592.2,441.6 592.7,442.3 593.2,439.9 593.7,442.6 594.2,442.2 594.7,442.8 595.2,442.0 595.7,441.8 596.2,443.0 596.7,440.5 597.2,442.0 597.7,442.5 598.2,440.4 598.7,440.0 599.2,441.9 599.7,441.5 600.2,442.1 600.7,442.1 601.2,440.6 601.7,441.8 602.2,442.7 602.7,441.1 603.2,441.1 603.7,440.2 604.2,442.4 604.7,443.7 605.2,440.0 605.7,442.4 606.2,442.6 606.7,440.9 607.2,441.2 607.7,440.4 608.2,440.7 608.7,441.8 609.2,442.3 609.7,441.8 610.2,442.6 610.7,441.9 611.2,440.4 611.7,443.3 612.2,443.0 612.7,440.9 613.2,443.7 613.7,442.3 614.2,441.9 614.7,443.9 615.2,439.0 615.7,440.0 616.2,442.6 616.7,441.5 617.2,440.8 617.7,443.5 618.2,442.4 618.7,440.4 619.2,441.1 619.7,442.8 620.2,443.9 620.7,439.7 621.2,442.2 621.7,441.5 622.2,440.0 622.7,441.8 623.2,440.2 623.7,441.4 624.2,443.8 624.7,442.6 625.2,442.9 625.7,442.7 626.2,442.5 626.7,443.2 627.2,440.8 627.7,441.7 628.2,443.1 628.7,441.3 629.2,441.7 629.7,443.5 630.2,443.9 630.7,441.5 631.2,441.3 631.7,442.9 632.2,442.5 632.7,441.5 633.2,442.9 633.7,442.9 634.2,442.4 634.7,445.5 635.2,443.8 635.7,443.2 636.2,443.5 636.7,445.6 637.2,443.6 637.7,441.6 638.2,442.7 638.7,442.5 639.2,441.8 639.7,442.7 640.2,442.7 640.7,442.4 641.2,441.9 641.7,443.4 642.2,440.7 642.7,443.4 643.2,442.5 643.7,442.8 644.2,440.0 644.7,444.4 645.2,440.7 645.7,441.6 646.2,443.3 646.7,442.0 647.2,442.2 647.7,440.2 648.2,442.2 648.7,442.9 649.2,443.4 649.7,442.4 650.2,443.0 650.7,443.2 651.2,442.0 651.7,441.9 652.2,444.9 652.7,441.9 653.2,444.1 653.7,442.9 654.2,444.4 654.7,442.2 655.2,443.4 655.7,443.2 656.2,442.6 656.7,443.2 657.2,442.1 657.7,442.8 658.2,442.5 658.7,443.8 659.2,442.9 659.7,441.5 660.2,442.6 660.7,442.9 661.2,442.0 661.7,444.5 662.2,443.5 662.7,444.0 663.2,442.3 663.7,442.7 664.2,444.2 664.7,441.6 665.2,443.5 665.7,443.3 666.2,442.6 666.7,443.3 667.2,442.0 667.7,443.5 668.2,441.9 668.7,441.9 669.2,444.8 669.7,442.5 670.2,441.0 670.7,444.3 671.2,442.5 671.7,439.5 672.2,443.3 672.7,444.4 673.2,443.7 673.7,445.2 674.2,443.3 674.7,444.1 675.2,442.3 675.7,443.6 676.2,445.1 676.7,444.0 677.2,443.7 677.7,441.4 678.2,443.1 678.7,442.1 679.2,444.4 679.7,442.8 680.2,444.0 680.7,442.5 681.2,445.6 681.7,442.4 682.2,443.8 682.7,446.4 683.2,443.9 683.7,442.7 684.2,444.3 684.7,444.8 685.2,444.6 685.7,441.6 686.2,444.0 686.7,441.5 687.2,445.8 687.7,443.9 688.2,443.3 688.7,444.5 689.2,444.3 689.7,442.6 690.2,445.6 690.7,443.6 691.2,442.0 691.7,445.4 692.2,445.5 692.7,445.3 693.2,444.5 693.7,443.0 694.2,445.0 694.7,445.9 695.2,444.9 695.7,445.7 696.2,443.2 696.7,445.1 697.2,445.0 697.7,442.5 698.2,442.3 698.7,443.3 699.2,444.2 699.7,444.6 700.2,443.9 700.7,444.1 701.2,444.0 701.7,444.3 702.2,444.8 702.7,444.7 703.2,444.1 703.7,444.5 704.2,443.8 704.7,445.1 705.2,443.7 705.7,446.0 706.2,444.3 706.7,444.6 707.2,443.5 707.7,444.0 708.2,444.5 708.7,444.4 709.2,443.7 709.7,443.2 710.2,444.4 710.7,444.6 711.2,445.0 711.7,445.7 712.2,444.1 712.7,442.4 713.2,444.3 713.7,442.5 714.2,443.1 714.7,445.6 715.2,445.1 715.7,443.9 716.2,443.9 716.7,444.5 717.2,442.7 717.7,445.1 718.2,444.2 718.7,446.5 719.2,443.5 719.7,445.7 720.2,443.9 720.7,445.7 721.2,443.6 721.7,445.5 722.2,444.2 722.7,443.8 723.2,444.6 723.7,445.2 724.2,445.2 724.7,446.4 725.2,445.6 725.7,442.0 726.2,444.4 726.7,442.7 727.2,444.4 727.7,445.5 728.2,443.4 728.7,443.6 729.2,445.0 729.7,444.6 730.2,446.5 730.7,445.2 731.2,445.5 731.7,446.8 732.2,444.4 732.7,444.9 733.2,443.9 733.7,445.2 734.2,446.1 734.7,446.4 735.2,445.0 735.7,444.3 736.2,444.2 736.7,443.6 737.2,445.2 737.7,446.5 738.2,442.6 738.7,442.8 739.2,446.6 739.7,443.4 740.2,445.5 740.7,443.8 741.2,446.0 741.7,446.0 742.2,445.3 742.7,446.0 743.2,445.2 743.7,445.8 744.2,447.1 744.7,446.4 745.2,444.6 745.7,444.4 746.2,445.0 746.7,445.0 747.2,445.4 747.7,444.7 748.2,446.0 748.7,445.4 749.2,445.7 749.7,445.3 750.2,446.0 750.7,444.1 751.2,447.0 751.7,445.7 752.2,445.9 752.7,446.0 753.2,446.5 753.7,446.2 754.2,445.7 754.7,445.3 755.2,443.8 755.7,445.7 756.2,445.2 756.7,445.2 757.2,448.0 757.7,443.6 758.2,445.6 758.7,446.8 759.2,446.5 759.7,446.8 760.2,444.3 760.7,444.6 761.2,446.2 761.7,445.3 762.2,447.4 762.7,445.9 763.2,445.8 763.7,446.1 764.2,445.4 764.7,445.8 765.2,445.0 765.7,445.6 766.2,445.2 766.7,446.0 767.2,444.3 767.7,444.2 768.2,446.2 768.7,446.0 769.2,444.8 769.7,445.5 770.2,444.7 770.7,447.9 771.2,444.2 771.7,447.6 772.2,445.0 772.7,446.3 773.2,445.6 773.7,445.5 774.2,446.8 774.7,446.7 775.2,445.6 775.7,445.0 776.2,448.0 776.7,447.3 777.2,446.1 777.7,445.6 778.2,446.2 778.7,446.0 779.2,447.2 779.7,445.0 780.2,446.0 780.7,445.2 781.2,447.3 781.7,447.8 782.2,445.9 782.7,446.6 783.2,447.5 783.7,445.8 784.2,445.1 784.7,447.1 785.2,446.6 785.7,445.9 786.2,447.6 786.7,446.4 787.2,444.3 787.7,446.5 788.2,446.1 788.7,448.1 789.2,446.2 789.7,446.0 790.2,446.6 790.7,446.4 791.2,444.8 791.7,446.3 792.2,445.9 792.7,447.6 793.2,448.7 793.7,445.1 794.2,445.3 794.7,445.4 795.2,445.6 795.7,445.6 796.2,446.4 796.7,447.4 797.2,445.0 797.7,444.8 798.2,444.5 798.7,447.5 799.2,447.7 799.7,444.8 800.2,444.8 800.7,446.5 801.2,447.5 801.7,447.4 802.2,446.6 802.7,447.1 803.2,446.8 803.7,445.9 804.2,448.4 804.7,446.5 805.2,445.4 805.7,446.0 806.2,445.0 806.7,446.5 807.2,447.6 807.7,445.3 808.2,447.7 808.7,448.6 809.2,446.9 809.7,445.4 810.2,445.7 810.7,446.3 811.2,445.3 811.7,445.4 812.2,446.4 812.7,446.4 813.2,447.2 813.7,445.4 814.2,448.5 814.7,447.7 815.2,447.5 815.7,446.0 816.2,448.4 816.7,446.4 817.2,448.5 817.7,447.8 818.2,445.8 818.7,446.3 819.2,448.6 819.7,447.7 820.2,446.6 820.7,447.0 821.2,447.0 821.7,446.0 822.2,446.6 822.7,446.2 823.2,446.4 823.7,447.3 824.2,445.9 824.7,447.6 825.2,447.0 825.7,447.6 826.2,447.7 826.7,448.1 827.2,447.5 827.7,447.6 828.2,446.7 828.7,447.5 829.2,446.0 829.7,446.7 830.2,447.7 830.7,446.9 831.2,447.4 831.7,445.9 832.2,448.3 832.7,446.4 833.2,447.4 833.7,447.0 834.2,447.9 834.7,446.6 835.2,446.0 835.7,445.2 836.2,446.7 836.7,445.9 837.2,447.6 837.7,448.5 838.2,444.9 838.7,445.8 839.2,447.4 839.7,448.3 840.2,447.4 840.7,447.4 841.2,447.6 841.7,447.7 842.2,448.7 842.7,447.7 843.2,445.9 843.7,446.7 844.2,447.4 844.7,446.4 845.2,446.9 845.7,446.7 846.2,446.5 846.7,447.9 847.2,446.8 847.7,446.2 848.2,446.5 848.7,447.3 849.2,449.3 849.7,447.5 850.2,448.7 850.7,447.8 851.2,445.2 851.7,447.7 852.2,446.5 852.7,446.0 853.2,446.3 853.7,449.1 854.2,445.8 854.7,446.7 855.2,448.5 855.7,448.0 856.2,445.7 856.7,447.3 857.2,446.9 857.7,447.2 858.2,448.1 858.7,446.9 859.2,447.1 859.7,448.8 860.2,445.6 860.7,447.1 861.2,447.9 861.7,446.2 862.2,446.9 862.7,446.2 863.2,447.6 863.7,446.9 864.2,448.3 864.7,448.5 865.2,447.6 865.7,447.1 866.2,447.8 866.7,447.6 867.2,446.4 867.7,448.6 868.2,447.8 868.7,448.3 869.2,446.3 869.7,448.4 870.2,449.6 870.7,448.2 871.2,446.2 871.7,447.6 872.2,447.6 872.7,447.8 873.2,447.4 873.7,448.1 874.2,447.2 874.7,447.9 875.2,447.0 875.7,447.8 876.2,448.6 876.7,447.2 877.2,448.3 877.7,446.8 878.2,447.3 878.7,447.5 879.2,448.9 879.7,447.0 880.2,448.9 880.7,446.3 881.2,447.6 881.7,448.6 882.2,448.4 882.7,446.8 883.2,446.6 883.7,448.6 884.2,446.6 884.7,448.3 885.2,447.3 885.7,447.8 886.2,450.0 886.7,449.3 887.2,448.6 887.7,446.5 888.2,448.1 888.7,447.9 889.2,447.8 889.7,449.1 890.2,446.2 890.7,448.2 891.2,448.0 891.7,447.2 892.2,449.5 892.7,446.7 893.2,447.9 893.7,448.0 894.2,445.8 894.7,446.6 895.2,447.0 895.7,448.7 896.2,448.8 896.7,448.5 897.2,448.2 897.7,445.9 898.2,448.2" stroke="#ff00ff" stroke-width="3.0"/>
<path class="cv" d="M81.2,482.5 81.7,485.9 82.2,486.6 82.7,488.5 83.2,486.1 83.7,486.7 84.2,483.7 84.7,486.1 85.2,484.1 85.7,488.2 86.2,484.9 86.7,486.9 87.2,486.2 87.7,487.1 88.2,489.1 88.7,487.6 89.2,489.3 89.7,487.5 90.2,491.9 90.7,488.7 91.2,491.8 91.7,493.9 92.2,486.4 92.7,489.1 93.2,490.7 93.7,493.3 94.2,490.7 94.7,492.3 95.2,490.7 95.7,493.0 96.2,490.3 96.7,493.9 97.2,487.7 97.7,489.7 98.2,496.0 98.7,493.5 99.2,491.9 99.7,497.1 100.2,495.4 100.7,495.7 101.2,493.3 101.7,495.2 102.2,495.1 102.7,491.8 103.2,495.6 103.7,494.5 104.2,497.0 104.7,497.2 105.2,494.1 105.7,494.3 106.2,495.8 106.7,496.6 107.2,495.0 107.7,495.7 108.2,496.9 108.7,496.8 109.2,498.1 109.7,496.7 110.2,495.0 110.7,493.8 111.2,498.0 111.7,496.3 112.2,496.3 112.7,496.6 113.2,494.6 113.7,496.6 114.2,493.2 114.7,496.8 115.2,496.1 115.7,500.5 116.2,498.4 116.7,497.5 117.2,498.2 117.7,499.2 118.2,497.0 118.7,497.9 119.2,497.8 119.7,502.3 120.2,498.7 120.7,495.6 121.2,500.0 121.7,502.9 122.2,497.5 122.7,504.4 123.2,499.0 123.7,500.8 124.2,498.5 124.7,499.0 125.2,497.6 125.7,498.0 126.2,496.4 126.7,501.5 127.2,498.1 127.7,500.5 128.2,500.6 128.7,499.1 129.2,500.3 129.7,500.2 130.2,499.6 130.7,500.5 131.2,500.6 131.7,499.1 132.2,498.7 132.7,499.5 133.2,501.0 133.7,503.0 134.2,503.2 134.7,501.5 135.2,502.5 135.7,501.3 136.2,502.9 136.7,501.4 137.2,501.9 137.7,500.9 138.2,501.4 138.7,504.3 139.2,499.7 139.7,501.5 140.2,500.6 140.7,503.0 141.2,504.3 141.7,501.2 142.2,497.5 142.7,502.6 143.2,502.6 143.7,499.2 144.2,501.4 144.7,501.7 145.2,498.3 145.7,502.8 146.2,502.5 146.7,502.2 147.2,500.3 147.7,500.8 148.2,501.0 148.7,502.7 149.2,500.5 149.7,504.2 150.2,502.6 150.7,498.7 151.2,504.6 151.7,502.3 152.2,501.2 152.7,502.2 153.2,499.4 153.7,502.4 154.2,498.4 154.7,500.6 155.2,504.2 155.7,504.1 156.2,501.7 156.7,500.8 157.2,503.6 157.7,502.2 158.2,502.6 158.7,503.2 159.2,500.7 159.7,503.5 160.2,499.1 160.7,504.5 161.2,500.0 161.7,501.4 162.2,501.4 162.7,503.5 163.2,503.5 163.7,502.9 164.2,503.2 164.7,503.1 165.2,502.3 165.7,499.5 166.2,499.0 166.7,499.0 167.2,502.4 167.7,502.1 168.2,502.2 168.7,502.8 169.2,502.1 169.7,500.9 170.2,500.2 170.7,499.6 171.2,504.3 171.7,503.8 172.2,500.4 172.7,502.0 173.2,503.1 173.7,504.8 174.2,501.5 174.7,502.7 175.2,504.1 175.7,499.8 176.2,501.3 176.7,502.3 177.2,501.2 177.7,505.5 178.2,503.6 178.7,502.5 179.2,500.7 179.7,503.5 180.2,503.1 180.7,501.3 181.2,501.4 181.7,499.8 182.2,501.9 182.7,503.2 183.2,503.4 183.7,502.7 184.2,503.0 184.7,500.8 185.2,501.0 185.7,503.5 186.2,502.3 186.7,500.3 187.2,502.2 187.7,502.7 188.2,502.4 188.7,501.4 189.2,500.4 189.7,501.8 190.2,503.7 190.7,501.2 191.2,499.9 191.7,501.4 192.2,498.9 192.7,501.1 193.2,500.2 193.7,502.1 194.2,500.7 194.7,502.1 195.2,503.9 195.7,500.0 196.2,498.9 196.7,500.9 197.2,499.9 197.7,500.2 198.2,499.0 198.7,500.7 199.2,499.9 199.7,496.3 200.2,499.2 200.7,500.1 201.2,501.3 201.7,498.5 202.2,498.0 202.7,501.0 203.2,498.2 203.7,499.2 204.2,499.7 204.7,500.1 205.2,498.8 205.7,496.9 206.2,500.2 206.7,497.8 207.2,497.6 207.7,501.5 208.2,499.6 208.7,496.4 209.2,497.2 209.7,497.5 210.2,496.6 210.7,494.6 211.2,498.8 211.7,498.6 212.2,497.7 212.7,496.5 213.2,497.3 213.7,497.9 214.2,495.0 214.7,496.0 215.2,495.5 215.7,497.4 216.2,496.5 216.7,493.8 217.2,494.8 217.7,498.5 218.2,493.9 218.7,495.5 219.2,494.1 219.7,497.0 220.2,494.7 220.7,493.8 221.2,492.4 221.7,493.8 222.2,495.4 222.7,494.9 223.2,491.3 223.7,496.0 224.2,492.7 224.7,491.1 225.2,492.8 225.7,491.2 226.2,491.0 226.7,490.5 227.2,491.1 227.7,489.9 228.2,487.4 228.7,490.9 229.2,488.6 229.7,491.2 230.2,489.5 230.7,489.2 231.2,488.0 231.7,489.5 232.2,486.1 232.7,484.5 233.2,486.4 233.7,480.4 234.2,484.2 234.7,484.9 235.2,483.3 235.7,486.1 236.2,484.7 236.7,483.2 237.2,481.9 237.7,484.3 238.2,480.6 238.7,480.6 239.2,482.4 239.7,481.7 240.2,484.1 240.7,479.4 241.2,475.7 241.7,480.2 242.2,481.0 242.7,477.9 243.2,480.8 243.7,480.9 244.2,475.8 244.7,475.8 245.2,474.0 245.7,477.2 246.2,477.3 246.7,476.9 247.2,473.1 247.7,473.8 248.2,472.4 248.7,472.0 249.2,472.4 249.7,471.9 250.2,474.7 250.7,475.9 251.2,476.3 251.7,475.1 252.2,473.9 252.7,475.3 253.2,476.5 253.7,474.9 254.2,475.7 254.7,475.1 255.2,474.8 255.7,476.1 256.2,474.0 256.7,478.3 257.2,473.4 257.7,477.5 258.2,474.1 258.7,479.9 259.2,478.8 259.7,475.7 260.2,476.6 260.7,475.4 261.2,477.6 261.7,478.7 262.2,483.0 262.7,475.6 263.2,480.8 263.7,477.4 264.2,479.3 264.7,480.6 265.2,480.1 265.7,480.1 266.2,479.1 266.7,479.7 267.2,480.2 267.7,482.4 268.2,477.5 268.7,479.6 269.2,478.3 269.7,479.1 270.2,479.6 270.7,483.3 271.2,485.5 271.7,484.2 272.2,479.7 272.7,482.2 273.2,480.2 273.7,483.3 274.2,485.1 274.7,484.0 275.2,484.8 275.7,483.1 276.2,480.0 276.7,480.2 277.2,483.9 277.7,485.3 278.2,486.8 278.7,484.1 279.2,485.1 279.7,485.6 280.2,487.3 280.7,485.5 281.2,483.9 281.7,488.0 282.2,487.0 282.7,487.2 283.2,484.4 283.7,486.9 284.2,484.1 284.7,483.8 285.2,487.2 285.7,487.0 286.2,489.0 286.7,490.8 287.2,488.4 287.7,491.8 288.2,487.8 288.7,490.4 289.2,487.0 289.7,489.7 290.2,489.1 290.7,489.5 291.2,491.0 291.7,486.9 292.2,490.6 292.7,489.2 293.2,490.9 293.7,491.6 294.2,490.4 294.7,490.6 295.2,489.4 295.7,492.5 296.2,490.6 296.7,492.6 297.2,489.6 297.7,494.5 298.2,490.6 298.7,494.4 299.2,491.9 299.7,493.7 300.2,492.7 300.7,494.2 301.2,493.3 301.7,495.5 302.2,494.7 302.7,494.8 303.2,496.6 303.7,492.8 304.2,496.3 304.7,494.4 305.2,492.0 305.7,495.4 306.2,494.4 306.7,497.6 307.2,494.2 307.7,495.2 308.2,495.6 308.7,492.3 309.2,496.4 309.7,494.1 310.2,498.1 310.7,498.6 311.2,496.0 311.7,493.6 312.2,496.6 312.7,496.7 313.2,497.7 313.7,496.2 314.2,494.9 314.7,496.7 315.2,495.6 315.7,500.0 316.2,496.2 316.7,496.4 317.2,497.5 317.7,495.7 318.2,497.1 318.7,497.7 319.2,497.3 319.7,497.7 320.2,500.2 320.7,499.0 321.2,496.4 321.7,497.9 322.2,499.9 322.7,497.8 323.2,499.0 323.7,499.0 324.2,499.9 324.7,499.0 325.2,499.1 325.7,498.1 326.2,500.1 326.7,498.2 327.2,502.4 327.7,499.8 328.2,499.6 328.7,501.3 329.2,500.0 329.7,500.4 330.2,500.3 330.7,499.3 331.2,499.1 331.7,499.6 332.2,502.5 332.7,499.9 333.2,500.3 333.7,500.3 334.2,502.2 334.7,504.2 335.2,499.9 335.7,502.2 336.2,501.7 336.7,501.1 337.2,502.4 337.7,499.9 338.2,503.1 338.7,502.3 339.2,500.5 339.7,504.5 340.2,503.4 340.7,504.0 341.2,500.2 341.7,502.0 342.2,501.8 342.7,503.5 343.2,504.7 343.7,500.0 344.2,502.9 344.7,502.7 345.2,504.5 345.7,503.0 346.2,501.3 346.7,503.0 347.2,501.8 347.7,502.3 348.2,503.5 348.7,502.9 349.2,504.0 349.7,501.5 350.2,507.1 350.7,505.7 351.2,505.0 351.7,502.2 352.2,501.0 352.7,502.9 353.2,503.9 353.7,507.5 354.2,506.3 354.7,503.7 355.2,506.3 355.7,506.3 356.2,504.7 356.7,506.5 357.2,505.3 357.7,504.0 358.2,503.3 358.7,504.8 359.2,506.5 359.7,503.2 360.2,503.0 360.7,506.1 361.2,501.5 361.7,508.0 362.2,504.9 362.7,506.6 363.2,508.2 363.7,503.7 364.2,504.3 364.7,509.0 365.2,505.5 365.7,505.8 366.2,506.3 366.7,507.6 367.2,508.0 367.7,506.4 368.2,505.8 368.7,506.3 369.2,506.8 369.7,508.3 370.2,506.7 370.7,509.1 371.2,505.4 371.7,507.4 372.2,509.2 372.7,508.6 373.2,507.3 373.7,505.7 374.2,506.0 374.7,506.8 375.2,507.5 375.7,506.8 376.2,505.2 376.7,506.2 377.2,508.0 377.7,508.5 378.2,505.5 378.7,507.0 379.2,505.2 379.7,506.8 380.2,512.4 380.7,507.8 381.2,507.3 381.7,507.0 382.2,506.2 382.7,505.4 383.2,507.9 383.7,507.6 384.2,510.0 384.7,505.9 385.2,508.7 385.7,510.0 386.2,505.6 386.7,509.2 387.2,506.2 387.7,509.1 388.2,510.5 388.7,508.5 389.2,509.0 389.7,507.7 390.2,509.1 390.7,510.3 391.2,508.6 391.7,508.7 392.2,509.5 392.7,510.1 393.2,506.9 393.7,509.2 394.2,508.3 394.7,509.9 395.2,510.6 395.7,509.7 396.2,511.1 396.7,508.1 397.2,508.9 397.7,508.2 398.2,509.7 398.7,509.8 399.2,509.4 399.7,508.2 400.2,509.7 400.7,509.3 401.2,510.7 401.7,509.6 402.2,511.5 402.7,510.3 403.2,507.6 403.7,509.9 404.2,508.3 404.7,511.4 405.2,512.1 405.7,510.2 406.2,510.9 406.7,508.5 407.2,507.4 407.7,509.7 408.2,510.1 408.7,508.5 409.2,510.6 409.7,510.9 410.2,511.4 410.7,512.6 411.2,511.6 411.7,510.1 412.2,510.7 412.7,511.4 413.2,509.3 413.7,512.4 414.2,511.8 414.7,510.4 415.2,509.9 415.7,515.6 416.2,511.8 416.7,511.9 417.2,513.0 417.7,511.9 418.2,510.9 418.7,511.5 419.2,509.3 419.7,511.3 420.2,508.3 420.7,510.7 421.2,510.7 421.7,507.8 422.2,512.2 422.7,508.0 423.2,510.7 423.7,508.5 424.2,509.4 424.7,507.9 425.2,511.9 425.7,509.8 426.2,510.7 426.7,509.2 427.2,508.9 427.7,508.0 428.2,507.2 428.7,508.2 429.2,507.3 429.7,506.7 430.2,504.7 430.7,506.0 431.2,507.0 431.7,505.3 432.2,506.3 432.7,505.5 433.2,504.1 433.7,504.3 434.2,504.5 434.7,505.1 435.2,505.2 435.7,507.1 436.2,504.1 436.7,502.7 437.2,506.6 437.7,505.0 438.2,505.6 438.7,509.4 439.2,507.9 439.7,506.7 440.2,507.3 440.7,506.2 441.2,507.4 441.7,505.3 442.2,505.2 442.7,505.6 443.2,508.5 443.7,508.5 444.2,505.6 444.7,508.1 445.2,506.3 445.7,508.1 446.2,506.3 446.7,508.1 447.2,506.8 447.7,506.6 448.2,507.1 448.7,507.5 449.2,506.6 449.7,505.6 450.2,510.0 450.7,507.2 451.2,505.4 451.7,505.0 452.2,504.4 452.7,507.4 453.2,510.2 453.7,506.3 454.2,508.2 454.7,506.2 455.2,510.3 455.7,509.4 456.2,509.4 456.7,510.9 457.2,511.4 457.7,510.7 458.2,508.6 458.7,507.8 459.2,508.2 459.7,507.4 460.2,512.2 460.7,509.7 461.2,510.2 461.7,510.4 462.2,512.9 462.7,509.6 463.2,512.0 463.7,510.9 464.2,510.4 464.7,508.3 465.2,512.0 465.7,510.0 466.2,510.4 466.7,511.4 467.2,511.3 467.7,512.8 468.2,510.6 468.7,511.7 469.2,511.9 469.7,511.7 470.2,512.6 470.7,511.5 471.2,513.5 471.7,511.1 472.2,510.3 472.7,512.1 473.2,513.7 473.7,511.7 474.2,511.6 474.7,512.0 475.2,512.8 475.7,512.4 476.2,513.1 476.7,510.6 477.2,514.7 477.7,513.6 478.2,511.8 478.7,514.7 479.2,513.6 479.7,514.9 480.2,511.6 480.7,515.2 481.2,513.2 481.7,510.7 482.2,514.2 482.7,512.9 483.2,512.1 483.7,513.1 484.2,511.0 484.7,514.1 485.2,513.2 485.7,513.1 486.2,515.2 486.7,513.6 487.2,512.7 487.7,512.4 488.2,513.5 488.7,514.9 489.2,512.9 489.7,512.4 490.2,514.8 490.7,513.8 491.2,513.7 491.7,516.3 492.2,512.3 492.7,514.1 493.2,511.7 493.7,513.5 494.2,514.6 494.7,515.3 495.2,512.4 495.7,515.0 496.2,514.9 496.7,513.9 497.2,517.0 497.7,514.1 498.2,513.0 498.7,514.6 499.2,511.9 499.7,516.0 500.2,515.4 500.7,513.7 501.2,514.9 501.7,514.9 502.2,516.6 502.7,513.5 503.2,512.7 503.7,511.8 504.2,514.0 504.7,512.4 505.2,514.1 505.7,514.9 506.2,513.9 506.7,513.3 507.2,515.8 507.7,514.2 508.2,514.7 508.7,515.6 509.2,512.9 509.7,513.4 510.2,517.5 510.7,514.3 511.2,513.3 511.7,514.3 512.2,513.9 512.7,513.1 513.2,514.1 513.7,514.6 514.2,514.6 514.7,515.3 515.2,512.6 515.7,512.9 516.2,515.6 516.7,514.2 517.2,516.2 517.7,515.1 518.2,513.1 518.7,515.4 519.2,513.6 519.7,515.1 520.2,516.3 520.7,517.3 521.2,514.8 521.7,515.7 522.2,515.2 522.7,515.8 523.2,511.9 523.7,514.5 524.2,515.3 524.7,515.5 525.2,514.1 525.7,516.0 526.2,516.3 526.7,515.1 527.2,514.8 527.7,514.6 528.2,515.2 528.7,516.5 529.2,516.9 529.7,514.6 530.2,514.1 530.7,514.2 531.2,516.3 531.7,515.5 532.2,515.6 532.7,515.8 533.2,515.7 533.7,515.1 534.2,514.1 534.7,514.6 535.2,515.5 535.7,515.8 536.2,514.9 536.7,514.9 537.2,517.0 537.7,514.9 538.2,515.7 538.7,515.1 539.2,514.5 539.7,513.7 540.2,514.9 540.7,514.6 541.2,516.5 541.7,514.2 542.2,515.1 542.7,516.4 543.2,515.5 543.7,516.2 544.2,516.6 544.7,513.7 545.2,515.2 545.7,514.6 546.2,517.3 546.7,515.6 547.2,516.3 547.7,517.7 548.2,515.4 548.7,515.9 549.2,516.3 549.7,515.5 550.2,517.3 550.7,516.8 551.2,517.1 551.7,516.0 552.2,515.5 552.7,515.5 553.2,515.6 553.7,514.1 554.2,516.4 554.7,517.0 555.2,516.0 555.7,515.5 556.2,516.1 556.7,516.3 557.2,516.5 557.7,518.2 558.2,515.2 558.7,516.6 559.2,517.0 559.7,516.3 560.2,515.9 560.7,515.1 561.2,515.6 561.7,517.1 562.2,517.9 562.7,515.6 563.2,516.8 563.7,516.9 564.2,517.5 564.7,516.6 565.2,516.9 565.7,517.4 566.2,515.1 566.7,516.5 567.2,514.5 567.7,514.2 568.2,515.6 568.7,514.8 569.2,517.1 569.7,517.6 570.2,516.2 570.7,516.4 571.2,516.3 571.7,516.3 572.2,516.8 572.7,517.0 573.2,516.1 573.7,515.8 574.2,516.1 574.7,517.6 575.2,516.2 575.7,518.3 576.2,516.5 576.7,518.3 577.2,515.5 577.7,516.0 578.2,517.3 578.7,517.4 579.2,516.7 579.7,519.1 580.2,517.0 580.7,517.2 581.2,516.3 581.7,518.8 582.2,517.9 582.7,517.4 583.2,515.2 583.7,517.4 584.2,516.5 584.7,517.5 585.2,518.1 585.7,516.2 586.2,517.3 586.7,518.1 587.2,517.3 587.7,516.8 588.2,516.0 588.7,516.4 589.2,515.8 589.7,518.3 590.2,517.3 590.7,515.9 591.2,517.3 591.7,515.9 592.2,513.7 592.7,518.6 593.2,518.6 593.7,515.7 594.2,516.6 594.7,517.6 595.2,517.0 595.7,516.5 596.2,516.9 596.7,517.2 597.2,516.9 597.7,517.7 598.2,517.3 598.7,516.7 599.2,517.6 599.7,515.8 600.2,519.2 600.7,515.7 601.2,517.5 601.7,518.0 602.2,518.1 602.7,518.0 603.2,519.1 603.7,516.5 604.2,517.6 604.7,517.9 605.2,517.2 605.7,517.1 606.2,519.2 606.7,517.0 607.2,517.3 607.7,517.5 608.2,517.6 608.7,518.0 609.2,517.7 609.7,518.3 610.2,518.1 610.7,518.5 611.2,519.4 611.7,517.1 612.2,519.7 612.7,517.5 613.2,518.7 613.7,518.2 614.2,517.7 614.7,516.0 615.2,519.8 615.7,517.3 616.2,517.3 616.7,519.2 617.2,518.2 617.7,520.2 618.2,519.9 618.7,518.9 619.2,518.5 619.7,519.0 620.2,516.8 620.7,518.4 621.2,518.4 621.7,517.7 622.2,518.5 622.7,516.7 623.2,519.2 623.7,519.7 624.2,516.9 624.7,518.5 625.2,520.0 625.7,518.8 626.2,517.3 626.7,517.3 627.2,519.3 627.7,520.3 628.2,517.3 628.7,518.4 629.2,517.6 629.7,518.1 630.2,518.8 630.7,518.4 631.2,517.7 631.7,520.7 632.2,518.3 632.7,518.3 633.2,519.7 633.7,518.5 634.2,518.3 634.7,519.5 635.2,517.5 635.7,519.3 636.2,519.6 636.7,519.3 637.2,518.4 637.7,518.6 638.2,516.8 638.7,518.5 639.2,518.9 639.7,519.5 640.2,518.8 640.7,518.2 641.2,517.8 641.7,518.6 642.2,518.8 642.7,519.9 643.2,518.7 643.7,518.2 644.2,518.6 644.7,518.2 645.2,518.5 645.7,516.4 646.2,517.1 646.7,517.5 647.2,519.2 647.7,518.7 648.2,518.9 648.7,520.0 649.2,517.7 649.7,520.0 650.2,519.2 650.7,518.1 651.2,520.4 651.7,517.3 652.2,517.7 652.7,518.6 653.2,519.3 653.7,518.7 654.2,516.7 654.7,518.6 655.2,518.8 655.7,521.5 656.2,520.3 656.7,519.0 657.2,517.8 657.7,519.3 658.2,517.7 658.7,519.1 659.2,519.3 659.7,518.5 660.2,519.2 660.7,518.6 661.2,518.4 661.7,520.5 662.2,519.6 662.7,518.7 663.2,518.2 663.7,519.2 664.2,519.6 664.7,519.9 665.2,520.5 665.7,519.5 666.2,517.9 666.7,521.1 667.2,520.2 667.7,519.9 668.2,520.4 668.7,517.5 669.2,518.7 669.7,518.6 670.2,520.3 670.7,517.9 671.2,518.8 671.7,520.7 672.2,519.8 672.7,518.7 673.2,521.1 673.7,517.8 674.2,519.6 674.7,518.9 675.2,519.7 675.7,518.9 676.2,518.3 676.7,519.4 677.2,517.8 677.7,519.7 678.2,518.9 678.7,520.1 679.2,518.8 679.7,518.5 680.2,519.6 680.7,520.5 681.2,517.1 681.7,519.4 682.2,519.9 682.7,517.8 683.2,518.4 683.7,519.9 684.2,518.4 684.7,518.6 685.2,521.0 685.7,518.3 686.2,518.4 686.7,517.0 687.2,518.2 687.7,518.1 688.2,521.1 688.7,520.6 689.2,518.1 689.7,521.3 690.2,520.1 690.7,519.2 691.2,520.2 691.7,519.8 692.2,518.6 692.7,517.6 693.2,518.5 693.7,519.4 694.2,519.0 694.7,518.7 695.2,520.4 695.7,518.3 696.2,520.3 696.7,518.9 697.2,519.5 697.7,518.3 698.2,519.4 698.7,518.7 699.2,517.7 699.7,519.5 700.2,519.4 700.7,520.3 701.2,519.8 701.7,518.5 702.2,518.9 702.7,517.0 703.2,518.4 703.7,520.8 704.2,521.1 704.7,520.3 705.2,519.8 705.7,520.1 706.2,520.0 706.7,517.8 707.2,518.7 707.7,520.8 708.2,520.8 708.7,519.8 709.2,519.3 709.7,519.2 710.2,519.1 710.7,518.7 711.2,517.7 711.7,519.8 712.2,519.2 712.7,519.4 713.2,521.4 713.7,520.3 714.2,519.0 714.7,520.3 715.2,518.2 715.7,520.7 716.2,520.0 716.7,519.5 717.2,520.3 717.7,521.2 718.2,519.3 718.7,518.7 719.2,521.9 719.7,519.8 720.2,521.2 720.7,519.1 721.2,520.1 721.7,519.1 722.2,520.4 722.7,519.5 723.2,519.1 723.7,521.4 724.2,520.1 724.7,517.8 725.2,519.6 725.7,518.9 726.2,518.6 726.7,519.3 727.2,519.4 727.7,519.9 728.2,519.1 728.7,518.0 729.2,519.3 729.7,520.8 730.2,518.5 730.7,520.5 731.2,520.4 731.7,519.5 732.2,520.2 732.7,519.2 733.2,519.5 733.7,518.9 734.2,520.4 734.7,521.3 735.2,519.3 735.7,521.2 736.2,517.9 736.7,519.1 737.2,519.0 737.7,521.7 738.2,519.4 738.7,520.8 739.2,518.0 739.7,520.2 740.2,520.6 740.7,520.0 741.2,517.4 741.7,520.3 742.2,520.9 742.7,521.4 743.2,520.5 743.7,518.4 744.2,519.9 744.7,521.1 745.2,519.3 745.7,520.7 746.2,519.7 746.7,520.3 747.2,521.0 747.7,519.5 748.2,523.1 748.7,520.4 749.2,520.6 749.7,519.5 750.2,520.3 750.7,520.0 751.2,518.8 751.7,518.8 752.2,520.6 752.7,520.2 753.2,517.7 753.7,518.2 754.2,520.0 754.7,520.3 755.2,521.0 755.7,519.1 756.2,521.0 756.7,520.1 757.2,519.9 757.7,520.3 758.2,521.4 758.7,521.0 759.2,521.3 759.7,519.8 760.2,520.2 760.7,519.3 761.2,519.9 761.7,520.1 762.2,520.0 762.7,521.2 763.2,520.9 763.7,521.3 764.2,520.7 764.7,521.6 765.2,520.7 765.7,521.5 766.2,521.1 766.7,521.3 767.2,520.5 767.7,519.4 768.2,519.2 768.7,522.6 769.2,521.0 769.7,521.1 770.2,520.5 770.7,520.2 771.2,523.5 771.7,519.6 772.2,520.6 772.7,520.6 773.2,519.6 773.7,519.5 774.2,520.0 774.7,520.4 775.2,520.3 775.7,521.6 776.2,519.6 776.7,521.2 777.2,522.2 777.7,521.7 778.2,519.7 778.7,517.9 779.2,521.7 779.7,521.3 780.2,520.3 780.7,522.1 781.2,520.5 781.7,521.0 782.2,519.9 782.7,521.2 783.2,520.5 783.7,520.4 784.2,522.0 784.7,521.2 785.2,519.5 785.7,521.6 786.2,521.8 786.7,520.2 787.2,520.6 787.7,521.1 788.2,520.8 788.7,521.2 789.2,521.7 789.7,520.6 790.2,523.1 790.7,520.4 791.2,520.6 791.7,523.0 792.2,523.4 792.7,521.2 793.2,521.0 793.7,520.1 794.2,522.3 794.7,521.3 795.2,520.4 795.7,521.6 796.2,522.5 796.7,521.9 797.2,523.4 797.7,522.4 798.2,521.7 798.7,521.2 799.2,521.8 799.7,522.5 800.2,522.1 800.7,522.3 801.2,521.5 801.7,522.1 802.2,522.5 802.7,521.2 803.2,520.1 803.7,523.0 804.2,521.9 804.7,521.0 805.2,521.6 805.7,521.2 806.2,519.8 806.7,521.3 807.2,520.1 807.7,521.7 808.2,521.4 808.7,522.6 809.2,521.4 809.7,521.9 810.2,521.2 810.7,521.2 811.2,520.2 811.7,522.5 812.2,521.7 812.7,521.0 813.2,521.8 813.7,521.2 814.2,520.9 814.7,521.9 815.2,522.8 815.7,521.4 816.2,520.3 816.7,521.1 817.2,523.4 817.7,520.9 818.2,522.8 818.7,521.5 819.2,522.4 819.7,521.6 820.2,520.2 820.7,521.4 821.2,523.8 821.7,521.7 822.2,522.3 822.7,521.5 823.2,521.7 823.7,522.1 824.2,522.3 824.7,524.0 825.2,521.9 825.7,521.7 826.2,521.3 826.7,520.7 827.2,520.4 827.7,522.6 828.2,520.2 828.7,523.3 829.2,522.8 829.7,521.7 830.2,520.9 830.7,522.0 831.2,522.0 831.7,523.1 832.2,521.3 832.7,521.7 833.2,522.0 833.7,521.8 834.2,521.5 834.7,520.5 835.2,520.6 835.7,521.5 836.2,521.9 836.7,523.1 837.2,524.3 837.7,523.8 838.2,522.6 838.7,524.0 839.2,522.1 839.7,521.7 840.2,524.4 840.7,521.3 841.2,521.9 841.7,522.0 842.2,523.7 842.7,521.7 843.2,523.0 843.7,521.9 844.2,521.2 844.7,522.6 845.2,522.5 845.7,521.3 846.2,521.6 846.7,521.7 847.2,523.3 847.7,522.9 848.2,522.7 848.7,522.9 849.2,522.0 849.7,522.9 850.2,521.9 850.7,521.3 851.2,521.9 851.7,522.7 852.2,522.6 852.7,523.5 853.2,521.0 853.7,522.4 854.2,523.0 854.7,521.7 855.2,522.9 855.7,522.3 856.2,521.6 856.7,523.7 857.2,521.4 857.7,523.6 858.2,522.3 858.7,521.8 859.2,521.9 859.7,522.1 860.2,522.0 860.7,523.0 861.2,521.1 861.7,523.9 862.2,523.6 862.7,524.1 863.2,521.9 863.7,520.7 864.2,522.3 864.7,522.7 865.2,523.2 865.7,522.4 866.2,522.8 866.7,523.1 867.2,521.5 867.7,524.6 868.2,521.9 868.7,523.2 869.2,524.0 869.7,522.3 870.2,523.0 870.7,524.5 871.2,522.8 871.7,524.0 872.2,523.3 872.7,523.3 873.2,523.8 873.7,522.9 874.2,522.9 874.7,524.0 875.2,523.4 875.7,523.6 876.2,522.1 876.7,523.2 877.2,524.3 877.7,524.0 878.2,523.5 878.7,522.8 879.2,522.7 879.7,523.7 880.2,524.6 880.7,523.3 881.2,524.5 881.7,523.1 882.2,524.4 882.7,522.5 883.2,523.5 883.7,522.4 884.2,524.0 884.7,523.9 885.2,522.6 885.7,522.8 886.2,523.1 886.7,522.1 887.2,522.7 887.7,522.7 888.2,524.2 888.7,524.8 889.2,523.1 889.7,523.3 890.2,523.8 890.7,523.1 891.2,523.3 891.7,524.4 892.2,523.8 892.7,523.6 893.2,523.1 893.7,525.0 894.2,523.1 894.7,523.8 895.2,522.8 895.7,523.2 896.2,523.8 896.7,523.4 897.2,524.2 897.7,523.8 898.2,522.5" stroke="#ff8000" stroke-width="3.0"/>
<path class="cv" d="M81.2,533.1 81.7,542.0 82.2,538.7 82.7,544.5 83.2,541.5 83.7,540.2 84.2,544.1 84.7,542.7 85.2,544.0 85.7,542.2 86.2,546.7 86.7,548.4 87.2,545.0 87.7,551.3 88.2,545.9 88.7,548.5 89.2,544.3 89.7,544.2 90.2,554.5 90.7,553.3 91.2,553.1 91.7,546.6 92.2,551.6 92.7,552.5 93.2,552.1 93.7,553.0 94.2,550.5 94.7,552.7 95.2,550.7 95.7,552.9 96.2,555.0 96.7,552.7 97.2,554.2 97.7,554.2 98.2,555.6 98.7,558.0 99.2,556.7 99.7,557.4 100.2,553.5 100.7,556.3 101.2,559.3 101.7,555.8 102.2,557.1 102.7,556.1 103.2,561.6 103.7,557.9 104.2,557.5 104.7,560.8 105.2,562.2 105.7,561.1 106.2,562.4 106.7,560.9 107.2,560.4 107.7,560.0 108.2,560.1 108.7,560.1 109.2,562.4 109.7,561.6 110.2,562.2 110.7,563.6 111.2,562.3 111.7,559.7 112.2,561.1 112.7,560.6 113.2,559.1 113.7,563.6 114.2,561.0 114.7,561.0 115.2,561.6 115.7,566.0 116.2,563.6 116.7,566.6 117.2,564.5 117.7,563.9 118.2,566.2 118.7,566.4 119.2,565.5 119.7,563.3 120.2,564.6 120.7,563.3 121.2,565.4 121.7,566.3 122.2,569.3 122.7,569.3 123.2,567.9 123.7,568.6 124.2,567.2 124.7,572.7 125.2,570.2 125.7,572.7 126.2,568.1 126.7,568.3 127.2,569.7 127.7,568.0 128.2,568.4 128.7,565.9 129.2,569.9 129.7,568.4 130.2,569.9 130.7,567.9 131.2,564.8 131.7,569.6 132.2,571.0 132.7,566.1 133.2,566.9 133.7,568.3 134.2,568.5 134.7,565.7 135.2,572.8 135.7,571.4 136.2,568.2 136.7,565.9 137.2,570.4 137.7,573.7 138.2,571.5 138.7,572.3 139.2,568.1 139.7,570.6 140.2,567.2 140.7,574.3 141.2,571.5 141.7,566.3 142.2,566.9 142.7,571.6 143.2,571.0 143.7,570.2 144.2,572.1 144.7,575.0 145.2,571.8 145.7,567.6 146.2,570.9 146.7,568.7 147.2,569.8 147.7,572.1 148.2,571.2 148.7,569.5 149.2,571.6 149.7,570.1 150.2,572.8 150.7,571.3 151.2,572.6 151.7,571.4 152.2,573.5 152.7,571.8 153.2,572.1 153.7,571.0 154.2,572.4 154.7,568.7 155.2,577.5 155.7,570.9 156.2,572.5 156.7,571.4 157.2,571.4 157.7,573.2 158.2,571.4 158.7,571.6 159.2,569.8 159.7,570.7 160.2,570.2 160.7,576.1 161.2,570.0 161.7,570.5 162.2,573.0 162.7,575.4 163.2,569.4 163.7,569.7 164.2,573.0 164.7,573.4 165.2,570.0 165.7,569.3 166.2,570.9 166.7,574.3 167.2,572.8 167.7,574.3 168.2,572.7 168.7,572.8 169.2,574.1 169.7,572.7 170.2,573.4 170.7,571.2 171.2,571.8 171.7,573.9 172.2,572.6 172.7,571.6 173.2,574.3 173.7,574.1 174.2,573.1 174.7,571.6 175.2,574.8 175.7,577.9 176.2,571.5 176.7,570.1 177.2,571.6 177.7,571.3 178.2,570.7 178.7,570.9 179.2,574.8 179.7,574.8 180.2,576.0 180.7,574.6 181.2,572.2 181.7,575.2 182.2,572.0 182.7,572.4 183.2,570.8 183.7,575.4 184.2,575.0 184.7,572.1 185.2,572.4 185.7,573.0 186.2,573.3 186.7,574.5 187.2,572.9 187.7,573.5 188.2,569.7 188.7,572.0 189.2,569.0 189.7,575.9 190.2,575.1 190.7,573.7 191.2,574.3 191.7,576.0 192.2,573.8 192.7,568.8 193.2,571.4 193.7,567.1 194.2,570.0 194.7,569.1 195.2,571.4 195.7,572.1 196.2,569.4 196.7,570.6 197.2,571.6 197.7,570.6 198.2,570.5 198.7,565.9 199.2,569.7 199.7,572.1 200.2,570.9 200.7,567.3 201.2,569.6 201.7,570.6 202.2,568.0 202.7,571.2 203.2,568.2 203.7,569.0 204.2,569.3 204.7,573.9 205.2,568.6 205.7,568.0 206.2,570.5 206.7,567.9 207.2,569.1 207.7,564.0 208.2,569.1 208.7,568.3 209.2,565.5 209.7,570.8 210.2,567.3 210.7,567.3 211.2,564.8 211.7,564.0 212.2,566.0 212.7,563.8 213.2,567.8 213.7,568.4 214.2,565.1 214.7,562.9 215.2,565.3 215.7,563.7 216.2,566.1 216.7,566.0 217.2,564.5 217.7,565.4 218.2,567.2 218.7,568.5 219.2,563.6 219.7,566.0 220.2,563.8 220.7,561.9 221.2,566.7 221.7,564.6 222.2,563.9 222.7,564.2 223.2,562.9 223.7,560.9 224.2,566.8 224.7,564.8 225.2,563.2 225.7,564.6 226.2,565.2 226.7,561.8 227.2,563.3 227.7,561.2 228.2,563.2 228.7,561.0 229.2,566.8 229.7,560.5 230.2,562.2 230.7,562.0 231.2,560.0 231.7,562.7 232.2,560.2 232.7,559.3 233.2,560.1 233.7,558.2 234.2,562.4 234.7,560.9 235.2,561.6 235.7,556.1 236.2,559.6 236.7,557.1 237.2,558.9 237.7,561.4 238.2,558.9 238.7,557.7 239.2,560.5 239.7,560.1 240.2,561.8 240.7,553.2 241.2,558.1 241.7,556.2 242.2,555.0 242.7,557.1 243.2,554.0 243.7,551.4 244.2,554.3 244.7,555.7 245.2,560.5 245.7,554.3 246.2,553.2 246.7,551.2 247.2,554.9 247.7,555.0 248.2,555.8 248.7,552.0 249.2,553.5 249.7,549.9 250.2,555.6 250.7,551.4 251.2,548.6 251.7,557.7 252.2,556.1 252.7,555.8 253.2,555.7 253.7,552.5 254.2,557.4 254.7,552.5 255.2,559.4 255.7,555.5 256.2,550.7 256.7,557.0 257.2,559.6 257.7,554.5 258.2,557.6 258.7,554.7 259.2,553.8 259.7,549.3 260.2,558.3 260.7,554.4 261.2,556.4 261.7,553.0 262.2,553.6 262.7,558.4 263.2,555.0 263.7,555.0 264.2,553.1 264.7,556.6 265.2,558.1 265.7,555.3 266.2,556.0 266.7,553.8 267.2,559.9 267.7,555.4 268.2,556.6 268.7,560.9 269.2,556.6 269.7,553.7 270.2,555.3 270.7,556.7 271.2,561.7 271.7,558.2 272.2,557.3 272.7,559.9 273.2,561.1 273.7,556.5 274.2,561.6 274.7,560.4 275.2,559.6 275.7,553.3 276.2,559.2 276.7,562.0 277.2,558.4 277.7,564.3 278.2,559.3 278.7,557.0 279.2,560.7 279.7,560.1 280.2,561.4 280.7,559.2 281.2,562.7 281.7,558.6 282.2,560.2 282.7,557.2 283.2,558.3 283.7,560.7 284.2,558.9 284.7,559.4 285.2,560.1 285.7,561.2 286.2,562.4 286.7,562.5 287.2,563.2 287.7,561.5 288.2,559.9 288.7,557.7 289.2,560.6 289.7,559.7 290.2,557.5 290.7,565.3 291.2,557.6 291.7,562.6 292.2,563.2 292.7,561.5 293.2,567.9 293.7,562.3 294.2,560.6 294.7,566.3 295.2,560.8 295.7,559.5 296.2,560.5 296.7,561.4 297.2,563.0 297.7,563.8 298.2,559.8 298.7,564.0 299.2,568.2 299.7,561.9 300.2,563.3 300.7,565.2 301.2,566.4 301.7,562.4 302.2,561.8 302.7,561.8 303.2,566.5 303.7,566.2 304.2,559.6 304.7,559.8 305.2,561.8 305.7,561.4 306.2,565.6 306.7,565.3 307.2,569.1 307.7,566.7 308.2,565.4 308.7,567.7 309.2,563.4 309.7,562.4 310.2,565.5 310.7,567.6 311.2,562.2 311.7,567.7 312.2,567.7 312.7,564.9 313.2,566.4 313.7,565.5 314.2,566.4 314.7,568.0 315.2,564.7 315.7,568.7 316.2,568.4 316.7,568.5 317.2,562.5 317.7,562.8 318.2,568.3 318.7,565.7 319.2,565.6 319.7,565.5 320.2,564.4 320.7,566.7 321.2,565.9 321.7,566.1 322.2,568.5 322.7,565.1 323.2,570.1 323.7,563.1 324.2,573.1 324.7,565.1 325.2,569.3 325.7,570.0 326.2,568.2 326.7,569.8 327.2,568.2 327.7,564.8 328.2,569.3 328.7,571.0 329.2,567.6 329.7,565.3 330.2,567.6 330.7,569.7 331.2,569.7 331.7,571.4 332.2,570.4 332.7,570.4 333.2,565.3 333.7,574.1 334.2,569.7 334.7,571.5 335.2,569.1 335.7,569.6 336.2,570.1 336.7,573.3 337.2,573.3 337.7,571.6 338.2,574.4 338.7,569.7 339.2,571.6 339.7,569.8 340.2,573.4 340.7,571.0 341.2,573.0 341.7,574.6 342.2,567.1 342.7,575.7 343.2,572.1 343.7,571.0 344.2,567.9 344.7,571.2 345.2,567.4 345.7,572.3 346.2,571.9 346.7,576.0 347.2,571.8 347.7,574.8 348.2,575.1 348.7,577.0 349.2,572.5 349.7,574.6 350.2,570.3 350.7,571.2 351.2,573.0 351.7,573.6 352.2,571.4 352.7,573.1 353.2,575.4 353.7,573.2 354.2,573.9 354.7,572.6 355.2,577.1 355.7,578.0 356.2,575.0 356.7,574.5 357.2,578.1 357.7,575.9 358.2,573.8 358.7,572.6 359.2,574.2 359.7,579.6 360.2,574.4 360.7,581.2 361.2,575.7 361.7,575.4 362.2,578.5 362.7,575.6 363.2,576.9 363.7,574.3 364.2,574.0 364.7,575.1 365.2,577.0 365.7,575.4 366.2,573.1 366.7,577.8 367.2,576.7 367.7,576.6 368.2,576.0 368.7,573.1 369.2,580.4 369.7,576.6 370.2,578.6 370.7,580.3 371.2,579.9 371.7,578.2 372.2,577.9 372.7,578.6 373.2,579.8 373.7,579.3 374.2,577.4 374.7,579.2 375.2,579.1 375.7,579.8 376.2,578.9 376.7,581.1 377.2,579.1 377.7,580.4 378.2,578.9 378.7,577.8 379.2,577.2 379.7,578.7 380.2,580.0 380.7,581.4 381.2,578.9 381.7,578.2 382.2,578.3 382.7,581.6 383.2,579.5 383.7,578.4 384.2,580.7 384.7,577.0 385.2,579.7 385.7,579.5 386.2,579.3 386.7,577.5 387.2,581.5 387.7,582.8 388.2,577.4 388.7,580.0 389.2,581.0 389.7,584.0 390.2,579.2 390.7,578.3 391.2,580.0 391.7,583.7 392.2,580.2 392.7,580.6 393.2,583.4 393.7,576.4 394.2,576.4 394.7,581.9 395.2,581.7 395.7,577.9 396.2,581.3 396.7,580.5 397.2,580.8 397.7,579.0 398.2,579.7 398.7,579.0 399.2,580.7 399.7,580.2 400.2,583.6 400.7,581.8 401.2,577.8 401.7,581.4 402.2,583.2 402.7,581.2 403.2,582.7 403.7,580.7 404.2,582.0 404.7,579.1 405.2,582.2 405.7,578.3 406.2,583.1 406.7,578.1 407.2,577.0 407.7,581.7 408.2,580.5 408.7,581.0 409.2,581.5 409.7,580.7 410.2,579.2 410.7,581.1 411.2,581.3 411.7,581.6 412.2,584.2 412.7,579.3 413.2,580.7 413.7,581.6 414.2,579.7 414.7,578.3 415.2,579.4 415.7,582.3 416.2,579.9 416.7,581.4 417.2,578.9 417.7,581.0 418.2,578.9 418.7,578.6 419.2,580.3 419.7,580.1 420.2,582.6 420.7,577.0 421.2,580.8 421.7,582.7 422.2,582.2 422.7,579.0 423.2,578.4 423.7,578.7 424.2,580.1 424.7,579.9 425.2,580.1 425.7,580.5 426.2,577.4 426.7,577.3 427.2,577.1 427.7,576.8 428.2,579.0 428.7,579.7 429.2,583.7 429.7,580.0 430.2,579.0 430.7,581.5 431.2,577.5 431.7,579.5 432.2,580.6 432.7,580.2 433.2,579.4 433.7,578.0 434.2,576.3 434.7,578.3 435.2,577.4 435.7,579.8 436.2,578.2 436.7,579.5 437.2,575.5 437.7,580.2 438.2,576.8 438.7,575.5 439.2,575.9 439.7,577.3 440.2,580.5 440.7,579.8 441.2,576.4 441.7,578.8 442.2,578.5 442.7,575.9 443.2,577.1 443.7,575.3 444.2,577.5 444.7,574.4 445.2,577.9 445.7,577.8 446.2,578.1 446.7,578.2 447.2,581.9 447.7,579.3 448.2,580.5 448.7,581.6 449.2,581.9 449.7,581.7 450.2,579.6 450.7,578.7 451.2,579.4 451.7,580.1 452.2,581.1 452.7,581.0 453.2,583.3 453.7,581.3 454.2,584.8 454.7,583.6 455.2,581.1 455.7,583.6 456.2,577.2 456.7,584.7 457.2,583.2 457.7,583.3 458.2,579.8 458.7,587.1 459.2,582.4 459.7,582.7 460.2,585.0 460.7,582.8 461.2,581.7 461.7,584.3 462.2,581.5 462.7,584.6 463.2,583.6 463.7,585.3 464.2,581.4 464.7,585.7 465.2,584.1 465.7,587.0 466.2,582.6 466.7,586.9 467.2,585.0 467.7,585.2 468.2,582.7 468.7,584.9 469.2,585.1 469.7,582.6 470.2,582.1 470.7,582.8 471.2,586.6 471.7,584.5 472.2,585.8 472.7,584.8 473.2,584.5 473.7,584.7 474.2,583.7 474.7,586.5 475.2,584.8 475.7,584.9 476.2,582.3 476.7,585.1 477.2,583.5 477.7,583.8 478.2,586.4 478.7,582.9 479.2,584.4 479.7,585.9 480.2,586.8 480.7,584.0 481.2,585.4 481.7,585.4 482.2,583.1 482.7,581.5 483.2,581.8 483.7,586.1 484.2,585.3 484.7,582.9 485.2,584.1 485.7,584.5 486.2,584.6 486.7,585.2 487.2,588.9 487.7,584.0 488.2,585.5 488.7,584.1 489.2,584.3 489.7,583.9 490.2,585.0 490.7,584.5 491.2,586.0 491.7,585.8 492.2,584.0 492.7,588.7 493.2,583.6 493.7,586.2 494.2,589.2 494.7,584.5 495.2,587.8 495.7,588.0 496.2,586.2 496.7,582.7 497.2,588.1 497.7,585.9 498.2,584.9 498.7,587.9 499.2,584.7 499.7,587.6 500.2,585.0 500.7,586.8 501.2,584.2 501.7,585.3 502.2,584.5 502.7,584.8 503.2,586.3 503.7,585.8 504.2,586.4 504.7,588.2 505.2,585.9 505.7,583.1 506.2,585.7 506.7,586.3 507.2,587.8 507.7,587.9 508.2,587.8 508.7,585.9 509.2,587.3 509.7,584.0 510.2,588.4 510.7,587.0 511.2,587.2 511.7,585.8 512.2,586.5 512.7,585.3 513.2,587.3 513.7,584.3 514.2,588.0 514.7,587.4 515.2,589.8 515.7,586.5 516.2,586.4 516.7,586.9 517.2,586.6 517.7,586.4 518.2,584.9 518.7,584.9 519.2,585.8 519.7,586.2 520.2,584.8 520.7,584.9 521.2,586.3 521.7,587.9 522.2,586.5 522.7,587.9 523.2,588.4 523.7,588.1 524.2,586.2 524.7,586.2 525.2,583.9 525.7,585.8 526.2,587.7 526.7,585.2 527.2,589.1 527.7,589.3 528.2,586.4 528.7,588.5 529.2,584.8 529.7,585.4 530.2,586.5 530.7,587.1 531.2,586.8 531.7,585.7 532.2,590.2 532.7,587.6 533.2,587.6 533.7,588.3 534.2,587.5 534.7,586.8 535.2,586.3 535.7,584.6 536.2,589.6 536.7,585.8 537.2,584.7 537.7,586.0 538.2,584.8 538.7,590.5 539.2,587.9 539.7,589.6 540.2,589.7 540.7,588.3 541.2,588.3 541.7,586.3 542.2,587.3 542.7,586.5 543.2,587.5 543.7,586.4 544.2,589.5 544.7,588.7 545.2,587.3 545.7,584.9 546.2,588.6 546.7,588.9 547.2,587.5 547.7,585.6 548.2,588.3 548.7,589.3 549.2,584.6 549.7,588.5 550.2,584.8 550.7,587.8 551.2,590.4 551.7,587.8 552.2,588.4 552.7,587.2 553.2,587.7 553.7,591.4 554.2,589.8 554.7,587.2 555.2,587.1 555.7,587.8 556.2,591.2 556.7,588.1 557.2,589.5 557.7,587.2 558.2,585.8 558.7,589.9 559.2,587.7 559.7,586.6 560.2,586.8 560.7,586.8 561.2,586.9 561.7,585.5 562.2,589.7 562.7,588.5 563.2,589.4 563.7,587.4 564.2,588.4 564.7,588.2 565.2,589.7 565.7,589.2 566.2,588.5 566.7,586.9 567.2,586.1 567.7,586.7 568.2,587.0 568.7,587.1 569.2,586.0 569.7,590.6 570.2,588.4 570.7,584.9 571.2,586.3 571.7,585.9 572.2,588.4 572.7,589.7 573.2,586.5 573.7,589.0 574.2,587.6 574.7,589.8 575.2,590.2 575.7,588.5 576.2,589.2 576.7,588.1 577.2,587.5 577.7,586.3 578.2,588.6 578.7,588.0 579.2,587.5 579.7,588.0 580.2,587.8 580.7,586.5 581.2,587.3 581.7,589.9 582.2,587.7 582.7,590.3 583.2,586.3 583.7,586.0 584.2,588.3 584.7,589.3 585.2,587.1 585.7,589.1 586.2,589.6 586.7,589.8 587.2,588.0 587.7,588.1 588.2,585.6 588.7,588.2 589.2,588.6 589.7,590.3 590.2,586.2 590.7,586.9 591.2,586.6 591.7,589.6 592.2,584.3 592.7,586.5 593.2,591.4 593.7,589.2 594.2,586.2 594.7,588.1 595.2,589.5 595.7,589.1 596.2,587.9 596.7,587.0 597.2,589.5 597.7,588.2 598.2,589.5 598.7,588.8 599.2,587.5 599.7,590.5 600.2,587.5 600.7,588.9 601.2,587.3 601.7,587.9 602.2,587.9 602.7,587.3 603.2,588.6 603.7,590.3 604.2,591.1 604.7,590.5 605.2,588.0 605.7,590.5 606.2,588.9 606.7,591.1 607.2,586.4 607.7,590.6 608.2,587.4 608.7,590.1 609.2,587.6 609.7,589.7 610.2,587.9 610.7,585.5 611.2,586.9 611.7,588.0 612.2,588.4 612.7,584.9 613.2,586.5 613.7,587.2 614.2,588.0 614.7,588.7 615.2,587.1 615.7,586.1 616.2,588.9 616.7,587.9 617.2,589.8 617.7,587.6 618.2,589.4 618.7,587.1 619.2,588.8 619.7,588.6 620.2,589.1 620.7,587.0 621.2,588.3 621.7,587.2 622.2,588.2 622.7,589.4 623.2,593.0 623.7,588.5 624.2,589.6 624.7,588.7 625.2,590.2 625.7,589.2 626.2,590.1 626.7,589.1 627.2,592.2 627.7,590.6 628.2,586.0 628.7,589.0 629.2,588.7 629.7,585.2 630.2,587.3 630.7,587.9 631.2,587.5 631.7,588.8 632.2,585.9 632.7,589.8 633.2,589.8 633.7,589.2 634.2,588.2 634.7,588.7 635.2,588.0 635.7,590.4 636.2,589.5 636.7,591.7 637.2,588.2 637.7,590.9 638.2,587.9 638.7,588.5 639.2,587.2 639.7,589.6 640.2,588.7 640.7,589.8 641.2,591.1 641.7,588.8 642.2,589.4 642.7,590.2 643.2,588.8 643.7,588.1 644.2,589.4 644.7,589.7 645.2,590.1 645.7,590.2 646.2,588.0 646.7,589.6 647.2,590.8 647.7,588.3 648.2,589.6 648.7,588.1 649.2,589.3 649.7,591.7 650.2,589.3 650.7,587.6 651.2,589.6 651.7,589.4 652.2,590.8 652.7,587.1 653.2,587.8 653.7,589.1 654.2,586.9 654.7,590.9 655.2,586.2 655.7,588.0 656.2,587.0 656.7,588.3 657.2,590.5 657.7,590.2 658.2,590.7 658.7,590.2 659.2,586.3 659.7,589.8 660.2,586.6 660.7,588.6 661.2,588.8 661.7,588.6 662.2,590.2 662.7,588.3 663.2,592.0 663.7,590.4 664.2,591.3 664.7,590.6 665.2,590.9 665.7,589.5 666.2,592.5 666.7,588.0 667.2,590.3 667.7,589.6 668.2,589.3 668.7,590.1 669.2,588.6 669.7,591.0 670.2,590.9 670.7,589.9 671.2,590.8 671.7,588.2 672.2,587.1 672.7,588.9 673.2,589.5 673.7,593.5 674.2,589.5 674.7,591.4 675.2,591.1 675.7,593.0 676.2,590.1 676.7,590.9 677.2,589.7 677.7,588.7 678.2,588.5 678.7,588.9 679.2,592.1 679.7,590.5 680.2,589.8 680.7,590.1 681.2,589.3 681.7,590.1 682.2,590.1 682.7,591.1 683.2,591.5 683.7,587.8 684.2,590.6 684.7,592.2 685.2,588.8 685.7,589.9 686.2,590.5 686.7,591.9 687.2,591.2 687.7,590.0 688.2,591.1 688.7,591.9 689.2,591.0 689.7,593.1 690.2,591.0 690.7,588.9 691.2,589.3 691.7,590.3 692.2,590.2 692.7,591.4 693.2,591.1 693.7,593.0 694.2,591.8 694.7,592.7 695.2,589.5 695.7,590.0 696.2,591.6 696.7,590.8 697.2,591.6 697.7,591.1 698.2,589.8 698.7,593.2 699.2,592.4 699.7,588.6 700.2,589.9 700.7,590.9 701.2,591.8 701.7,590.8 702.2,588.9 702.7,592.1 703.2,590.6 703.7,592.7 704.2,591.4 704.7,592.4 705.2,592.2 705.7,592.3 706.2,590.3 706.7,592.5 707.2,591.4 707.7,589.3 708.2,590.5 708.7,590.6 709.2,591.8 709.7,592.1 710.2,589.6 710.7,592.2 711.2,591.1 711.7,589.7 712.2,592.4 712.7,590.2 713.2,589.6 713.7,592.4 714.2,592.6 714.7,590.4 715.2,592.8 715.7,592.8 716.2,590.6 716.7,594.2 717.2,591.3 717.7,591.8 718.2,588.1 718.7,592.4 719.2,590.6 719.7,592.1 720.2,589.1 720.7,593.2 721.2,593.6 721.7,594.2 722.2,587.4 722.7,592.4 723.2,592.1 723.7,587.4 724.2,590.6 724.7,591.6 725.2,593.7 725.7,590.6 726.2,592.0 726.7,591.7 727.2,592.3 727.7,591.3 728.2,593.1 728.7,593.2 729.2,590.0 729.7,593.5 730.2,590.9 730.7,591.5 731.2,593.5 731.7,592.1 732.2,592.8 732.7,593.1 733.2,592.9 733.7,591.3 734.2,590.7 734.7,593.0 735.2,593.2 735.7,592.6 736.2,591.9 736.7,593.4 737.2,592.2 737.7,590.3 738.2,592.6 738.7,593.0 739.2,593.4 739.7,591.1 740.2,591.3 740.7,592.8 741.2,591.7 741.7,592.3 742.2,593.7 742.7,593.0 743.2,595.0 743.7,592.9 744.2,594.8 744.7,594.0 745.2,596.0 745.7,592.6 746.2,592.5 746.7,594.4 747.2,591.9 747.7,592.0 748.2,593.0 748.7,593.2 749.2,590.8 749.7,593.1 750.2,592.3 750.7,592.7 751.2,593.0 751.7,592.6 752.2,594.3 752.7,593.5 753.2,592.6 753.7,593.0 754.2,594.3 754.7,594.0 755.2,594.7 755.7,592.8 756.2,593.2 756.7,595.8 757.2,593.0 757.7,595.4 758.2,594.2 758.7,592.5 759.2,591.3 759.7,594.0 760.2,592.2 760.7,592.2 761.2,590.9 761.7,594.8 762.2,593.4 762.7,593.3 763.2,593.8 763.7,593.7 764.2,593.5 764.7,594.1 765.2,593.0 765.7,589.9 766.2,594.4 766.7,594.0 767.2,593.5 767.7,595.6 768.2,591.6 768.7,589.7 769.2,595.5 769.7,594.1 770.2,591.4 770.7,593.1 771.2,594.5 771.7,592.0 772.2,594.4 772.7,596.5 773.2,595.6 773.7,593.7 774.2,594.2 774.7,592.5 775.2,594.0 775.7,593.4 776.2,592.5 776.7,592.1 777.2,596.4 777.7,594.0 778.2,592.5 778.7,593.4 779.2,595.9 779.7,596.1 780.2,593.2 780.7,594.2 781.2,595.2 781.7,593.6 782.2,592.5 782.7,592.8 783.2,594.1 783.7,593.1 784.2,592.4 784.7,593.8 785.2,595.4 785.7,595.1 786.2,593.9 786.7,596.7 787.2,593.2 787.7,594.1 788.2,592.5 788.7,595.3 789.2,594.1 789.7,592.1 790.2,593.2 790.7,596.7 791.2,595.3 791.7,594.5 792.2,595.5 792.7,592.3 793.2,593.3 793.7,592.7 794.2,593.4 794.7,594.0 795.2,595.2 795.7,595.8 796.2,595.8 796.7,598.0 797.2,593.9 797.7,594.5 798.2,595.2 798.7,593.5 799.2,594.2 799.7,595.2 800.2,593.5 800.7,595.3 801.2,596.3 801.7,593.2 802.2,591.7 802.7,594.8 803.2,593.4 803.7,595.0 804.2,594.2 804.7,595.2 805.2,596.2 805.7,595.9 806.2,594.4 806.7,593.3 807.2,591.6 807.7,592.1 808.2,593.8 808.7,595.0 809.2,594.0 809.7,594.1 810.2,592.9 810.7,592.8 811.2,592.7 811.7,595.7 812.2,592.4 812.7,595.8 813.2,593.8 813.7,595.7 814.2,595.3 814.7,596.0 815.2,596.5 815.7,594.0 816.2,593.8 816.7,594.5 817.2,594.1 817.7,595.9 818.2,594.9 818.7,595.1 819.2,595.6 819.7,594.5 820.2,596.5 820.7,592.8 821.2,595.4 821.7,595.8 822.2,594.2 822.7,594.3 823.2,596.4 823.7,594.8 824.2,592.8 824.7,593.5 825.2,596.5 825.7,594.1 826.2,596.9 826.7,597.0 827.2,595.1 827.7,596.0 828.2,594.3 828.7,594.8 829.2,594.5 829.7,596.1 830.2,593.8 830.7,595.2 831.2,595.5 831.7,596.1 832.2,592.7 832.7,593.2 833.2,594.3 833.7,595.2 834.2,595.7 834.7,595.7 835.2,598.1 835.7,596.4 836.2,596.3 836.7,594.9 837.2,596.6 837.7,596.4 838.2,596.4 838.7,595.5 839.2,596.4 839.7,597.5 840.2,594.6 840.7,592.9 841.2,596.7 841.7,596.6 842.2,595.4 842.7,595.1 843.2,599.2 843.7,595.1 844.2,594.2 844.7,595.2 845.2,596.4 845.7,595.0 846.2,595.3 846.7,596.2 847.2,595.3 847.7,596.0 848.2,595.8 848.7,594.5 849.2,596.0 849.7,594.4 850.2,597.1 850.7,594.7 851.2,595.6 851.7,593.7 852.2,595.4 852.7,594.4 853.2,597.8 853.7,595.8 854.2,596.6 854.7,593.8 855.2,594.5 855.7,595.8 856.2,594.4 856.7,597.5 857.2,595.6 857.7,596.3 858.2,596.5 858.7,595.9 859.2,597.1 859.7,595.3 860.2,596.6 860.7,597.6 861.2,596.4 861.7,596.3 862.2,595.8 862.7,596.3 863.2,597.0 863.7,595.9 864.2,594.2 864.7,596.4 865.2,596.1 865.7,596.8 866.2,596.3 866.7,598.2 867.2,594.8 867.7,595.1 868.2,597.1 868.7,595.1 869.2,596.7 869.7,596.3 870.2,594.0 870.7,597.2 871.2,598.1 871.7,596.7 872.2,594.7 872.7,597.4 873.2,595.2 873.7,596.3 874.2,597.0 874.7,595.5 875.2,594.4 875.7,596.3 876.2,596.4 876.7,595.5 877.2,595.6 877.7,597.4 878.2,596.4 878.7,596.0 879.2,595.8 879.7,596.8 880.2,596.7 880.7,596.4 881.2,594.9 881.7,596.2 882.2,595.9 882.7,596.7 883.2,598.0 883.7,597.8 884.2,597.4 884.7,596.8 885.2,596.3 885.7,597.1 886.2,596.1 886.7,596.3 887.2,595.7 887.7,596.7 888.2,596.7 888.7,599.0 889.2,597.4 889.7,596.3 890.2,597.7 890.7,596.2 891.2,598.0 891.7,597.7 892.2,600.3 892.7,595.6 893.2,596.8 893.7,596.7 894.2,597.2 894.7,597.7 895.2,595.7 895.7,596.0 896.2,597.3 896.7,598.1 897.2,595.6 897.7,595.1 898.2,598.3" stroke="#008080" stroke-width="3.1"/>
</g>
<path class="fr" d="M110.80,3.3v11.8M110.80,608.45v-11.8M160.03,3.3v6.3M160.03,608.45v-6.3M209.27,3.3v11.8M209.27,608.45v-11.8M258.50,3.3v6.3M258.50,608.45v-6.3M307.73,3.3v11.8M307.73,608.45v-11.8M356.97,3.3v6.3M356.97,608.45v-6.3M406.20,3.3v11.8M406.20,608.45v-11.8M455.43,3.3v6.3M455.43,608.45v-6.3M504.67,3.3v11.8M504.67,608.45v-11.8M553.90,3.3v6.3M553.90,608.45v-6.3M603.13,3.3v11.8M603.13,608.45v-11.8M652.37,3.3v6.3M652.37,608.45v-6.3M701.60,3.3v11.8M701.60,608.45v-11.8M750.83,3.3v6.3M750.83,608.45v-6.3M800.07,3.3v11.8M800.07,608.45v-11.8M849.30,3.3v6.3M849.30,608.45v-6.3"/>
<text class="tick" x="110.8" y="645.2">10</text>
<text class="tick" x="209.3" y="645.2">20</text>
<text class="tick" x="307.7" y="645.2">30</text>
<text class="tick" x="406.2" y="645.2">40</text>
<text class="tick" x="504.7" y="645.2">50</text>
<text class="tick" x="603.1" y="645.2">60</text>
<text class="tick" x="701.6" y="645.2">70</text>
<text class="tick" x="800.1" y="645.2">80</text>
<text class="tick" x="898.5" y="645.2">90</text>
<line x1="722.9" y1="30.0" x2="787.1" y2="30.0" stroke="#7e7e00" stroke-width="3" stroke-linecap="round"/>
<text class="leg" transform="translate(794.3,40.0) scale(1,1.085)">GO</text>
<line x1="723.7" y1="98.0" x2="787.9" y2="98.0" stroke="#930000" stroke-width="3" stroke-linecap="round"/>
<text class="leg" transform="translate(795.1,107.2) scale(1,1.085)">2 min</text>
<line x1="723.7" y1="173.6" x2="787.9" y2="173.6" stroke="#404040" stroke-width="3" stroke-linecap="round"/>
<text class="leg" transform="translate(795.1,182.6) scale(1,1.085)">4 min</text>
<line x1="722.7" y1="249.3" x2="786.9" y2="249.3" stroke="#0000a0" stroke-width="3" stroke-linecap="round"/>
<text class="leg" transform="translate(794.1,258.6) scale(1,1.085)">6 min</text>
<line x1="722.7" y1="325.0" x2="786.9" y2="325.0" stroke="#ff0000" stroke-width="3" stroke-linecap="round"/>
<text class="leg" transform="translate(794.1,334.2) scale(1,1.085)">6.5 min</text>
<line x1="724.5" y1="400.5" x2="788.7" y2="400.5" stroke="#ff00ff" stroke-width="3" stroke-linecap="round"/>
<text class="leg" transform="translate(795.9,410.4) scale(1,1.085)">7 min</text>
<line x1="724.5" y1="476.1" x2="788.7" y2="476.1" stroke="#ff8000" stroke-width="3" stroke-linecap="round"/>
<text class="leg" transform="translate(795.9,485.8) scale(1,1.085)">8 min</text>
<line x1="724.5" y1="551.7" x2="788.7" y2="551.7" stroke="#008080" stroke-width="3" stroke-linecap="round"/>
<text class="leg" transform="translate(795.9,561.2) scale(1,1.085)">10 min</text>
<text class="ann" transform="translate(121.9,41.9) scale(1,1.06)">(001)</text>
<text class="ann" transform="translate(448.5,52.5) scale(1,1.06)">(100)</text>
<text class="ann" transform="translate(135.7,113.6) scale(1,1.06)">(001)</text>
<text class="ann" transform="translate(447.9,127.0) scale(1,1.06)">(100)</text>
<text class="ann" transform="translate(144.2,187.2) scale(1,1.06)">(001)</text>
<text class="ann" transform="translate(448.8,201.5) scale(1,1.06)">(100)</text>
<text class="ann" transform="translate(159.5,255.6) scale(1,1.06)">(001)</text>
<text class="ann" transform="translate(272.0,250.9) scale(1,1.06)">Emergence of (002)</text>
<text class="ann" transform="translate(462.8,269.7) scale(1,1.06)">(100)</text>
<text class="ann" transform="translate(92.1,326.9) scale(1,1.06)">Suppressed (001)</text>
<text class="ann" transform="translate(296.0,325.6) scale(1,1.06)">Developing (002)</text>
<text class="ann" transform="translate(456.4,345.9) scale(1,1.06)">(100)</text>
<text class="ann" transform="translate(145.1,404.1) scale(1,1.06)">Conversion of (001) to (002)</text>
<text class="ann" transform="translate(459.2,426.5) scale(1,1.06)">(100)</text>
<text class="ann" transform="translate(291.6,481.0) scale(1,1.06)">(002)</text>
<text class="ann" transform="translate(472.3,502.4) scale(1,1.06)">(100)</text>
<text class="ann" transform="translate(323.7,561.6) scale(1,1.06)">(002)</text>
<text class="ann" transform="translate(454.9,574.4) scale(1,1.06)">(100)</text>
<line x1="270.2" y1="246.0" x2="252.7" y2="251.7" stroke="#000" stroke-width="1.3"/>
<polygon points="239.8,255.9 251.6,248.1 253.9,255.3" fill="#000"/>
<line x1="295.4" y1="321.3" x2="277.9" y2="327.1" stroke="#000" stroke-width="1.3"/>
<polygon points="265.0,331.3 276.7,323.4 279.1,330.7" fill="#000"/>
<text class="yl" transform="translate(28.6,386.3) rotate(-90)">Intensity (a.u.)</text>
<text class="xl" x="430.2" y="699">2</text>
<text transform="translate(451.0,699) scale(1.2,1)" style="font-size:37px;stroke:#000;stroke-width:0.5px">θ</text>
<text class="xl" x="481.0" y="698.6" style="font-size:36.3px">(</text>
<text class="xl" x="493.8" y="685" style="font-size:28.6px">O</text>
<text class="xl" x="517.2" y="698.6" style="font-size:36.3px">)</text>
</svg>
</body>
</html>
